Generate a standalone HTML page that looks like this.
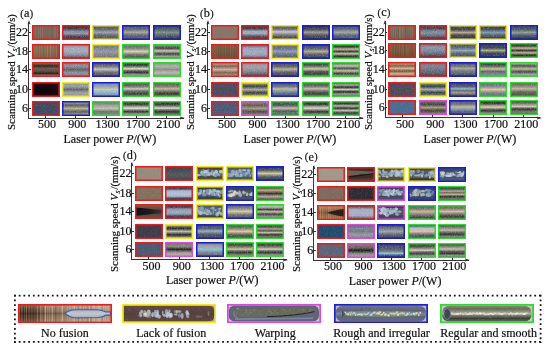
<!DOCTYPE html>
<html><head><meta charset="utf-8"><style>
html,body{margin:0;padding:0;background:#fff;}
body{width:550px;height:349px;position:relative;overflow:hidden;font-family:"Liberation Serif","Times New Roman",serif;color:#111;-webkit-text-stroke:0.2px #111;}
.c{position:absolute;box-sizing:border-box;width:28px;height:15px;border:1px solid;}
.t{position:absolute;font-size:12px;line-height:12px;white-space:nowrap;}
.yl{position:absolute;font-size:12px;line-height:12px;text-align:right;width:14px;}
.xl{position:absolute;font-size:12px;line-height:12px;text-align:center;width:30px;}
.ax{position:absolute;background:#333;}
.yt{position:absolute;font-size:10.8px;line-height:11px;white-space:nowrap;transform-origin:0 0;transform:rotate(-90deg);}
.pl{position:absolute;font-size:12.3px;line-height:12px;letter-spacing:0.3px;}
.pp{font-size:10.2px;position:relative;top:-0.3px;}
.lg{position:absolute;}
.lt{position:absolute;font-size:12px;line-height:12px;white-space:nowrap;text-align:center;width:104px;}
</style></head><body>

<div class="c" style="left:31.5px;top:25.0px;border-color:#f01a1a"><svg width="26" height="13" style="display:block"><defs><linearGradient id="br51" x1="0" y1="0" x2="0" y2="1"><stop offset="0" stop-color="#7a6858"/><stop offset=".5" stop-color="#7d6a5c"/><stop offset="1" stop-color="#766454"/></linearGradient></defs><rect width="26" height="13" fill="url(#br51)"/><rect x="0.3" y="0" width="0.6" height="13" fill="#d0b8a0" opacity="0.22"/><rect x="1.8" y="0" width="1.2" height="13" fill="#d0b8a0" opacity="0.17"/><rect x="4.9" y="0" width="0.8" height="13" fill="#b8a088" opacity="0.25"/><rect x="7.1" y="0" width="0.9" height="13" fill="#d0b8a0" opacity="0.24"/><rect x="9.1" y="0" width="0.6" height="13" fill="#d0b8a0" opacity="0.30"/><rect x="11.6" y="0" width="0.4" height="13" fill="#b8a088" opacity="0.13"/><rect x="13.6" y="0" width="1.2" height="13" fill="#b8a088" opacity="0.23"/><rect x="15.8" y="0" width="1.0" height="13" fill="#d0b8a0" opacity="0.15"/><rect x="18.6" y="0" width="0.8" height="13" fill="#c8b098" opacity="0.20"/><rect x="21.3" y="0" width="1.2" height="13" fill="#d0b8a0" opacity="0.27"/><rect x="23.9" y="0" width="0.5" height="13" fill="#b8a088" opacity="0.29"/><rect x="0.3" y="0" width="1.0" height="13" fill="#3a2a20" opacity="0.15"/><rect x="2.2" y="0" width="0.7" height="13" fill="#3a2a20" opacity="0.17"/><rect x="4.3" y="0" width="0.8" height="13" fill="#4a3828" opacity="0.21"/><rect x="6.7" y="0" width="0.9" height="13" fill="#3a2a20" opacity="0.12"/><rect x="8.5" y="0" width="0.5" height="13" fill="#3a2a20" opacity="0.13"/><rect x="10.2" y="0" width="0.7" height="13" fill="#4a3828" opacity="0.12"/><rect x="12.7" y="0" width="0.6" height="13" fill="#4a3828" opacity="0.13"/><rect x="14.0" y="0" width="1.0" height="13" fill="#4a3828" opacity="0.22"/><rect x="15.7" y="0" width="1.0" height="13" fill="#4a3828" opacity="0.13"/><rect x="18.4" y="0" width="1.2" height="13" fill="#3a2a20" opacity="0.22"/><rect x="21.2" y="0" width="1.1" height="13" fill="#4a3828" opacity="0.18"/><rect x="23.2" y="0" width="0.9" height="13" fill="#4a3828" opacity="0.13"/><rect x="25.0" y="0" width="1.1" height="13" fill="#3a2a20" opacity="0.21"/><rect x=".5" y=".5" width="25" height="12" fill="none" stroke="#f01a1a" stroke-opacity=".5"/></svg></div>
<div class="c" style="left:61.8px;top:25.0px;border-color:#f01a1a;box-shadow:inset 0 0 0 1px #f01a1a80;background:linear-gradient(#2e3238 0%,#363a42 20%,#8088a0 42%,#8c94a8 58%,#40444c 80%,#2e3238 100%)"></div>
<div class="c" style="left:92.1px;top:25.0px;border-color:#f4ec14;box-shadow:inset 0 0 0 1px #f4ec1480;background:linear-gradient(#4a4e5a 0%,#5e6270 25%,#9a9ea8 48%,#5e6270 72%,#44485a 100%)"></div>
<div class="c" style="left:122.4px;top:25.0px;border-color:#1c1ce0;box-shadow:inset 0 0 0 1px #1c1ce080;background:linear-gradient(#4a5060 0%,#5a6070 25%,#a8a898 48%,#5a6070 72%,#4a5060 100%)"></div>
<div class="c" style="left:152.7px;top:25.0px;border-color:#1c1ce0;box-shadow:inset 0 0 0 1px #1c1ce080;background:linear-gradient(#2a3a40 0%,#4a5a60 25%,#7a8a88 50%,#4a5a60 75%,#2a3a40 100%)"></div>
<div class="c" style="left:31.5px;top:43.7px;border-color:#f01a1a"><svg width="26" height="13" style="display:block"><defs><linearGradient id="br52" x1="0" y1="0" x2="0" y2="1"><stop offset="0" stop-color="#8a7058"/><stop offset=".5" stop-color="#8a6e50"/><stop offset="1" stop-color="#7a6046"/></linearGradient></defs><rect width="26" height="13" fill="url(#br52)"/><rect x="0.3" y="0" width="1.2" height="13" fill="#c8b098" opacity="0.28"/><rect x="2.8" y="0" width="1.1" height="13" fill="#b8a088" opacity="0.19"/><rect x="5.9" y="0" width="0.5" height="13" fill="#b8a088" opacity="0.27"/><rect x="8.4" y="0" width="0.8" height="13" fill="#c8b098" opacity="0.13"/><rect x="10.3" y="0" width="0.4" height="13" fill="#c8b098" opacity="0.15"/><rect x="12.0" y="0" width="0.9" height="13" fill="#b8a088" opacity="0.26"/><rect x="14.0" y="0" width="1.1" height="13" fill="#d0b8a0" opacity="0.28"/><rect x="17.1" y="0" width="0.9" height="13" fill="#d0b8a0" opacity="0.28"/><rect x="19.1" y="0" width="0.5" height="13" fill="#b8a088" opacity="0.21"/><rect x="20.9" y="0" width="0.5" height="13" fill="#c8b098" opacity="0.18"/><rect x="23.3" y="0" width="0.7" height="13" fill="#d0b8a0" opacity="0.24"/><rect x="25.2" y="0" width="0.4" height="13" fill="#c8b098" opacity="0.16"/><rect x="0.3" y="0" width="1.2" height="13" fill="#4a3828" opacity="0.19"/><rect x="2.6" y="0" width="0.6" height="13" fill="#3a2a20" opacity="0.19"/><rect x="5.1" y="0" width="0.9" height="13" fill="#3a2a20" opacity="0.15"/><rect x="7.3" y="0" width="0.5" height="13" fill="#4a3828" opacity="0.14"/><rect x="9.9" y="0" width="1.0" height="13" fill="#4a3828" opacity="0.20"/><rect x="12.3" y="0" width="0.9" height="13" fill="#4a3828" opacity="0.17"/><rect x="14.2" y="0" width="0.6" height="13" fill="#4a3828" opacity="0.11"/><rect x="15.4" y="0" width="1.2" height="13" fill="#3a2a20" opacity="0.12"/><rect x="17.2" y="0" width="0.5" height="13" fill="#4a3828" opacity="0.10"/><rect x="18.9" y="0" width="0.8" height="13" fill="#3a2a20" opacity="0.13"/><rect x="21.4" y="0" width="0.6" height="13" fill="#4a3828" opacity="0.24"/><rect x="22.5" y="0" width="0.5" height="13" fill="#4a3828" opacity="0.20"/><rect x="24.0" y="0" width="1.2" height="13" fill="#3a2a20" opacity="0.24"/><rect x=".5" y=".5" width="25" height="12" fill="none" stroke="#f01a1a" stroke-opacity=".5"/></svg></div>
<div class="c" style="left:61.8px;top:43.7px;border-color:#f01a1a;box-shadow:inset 0 0 0 1px #f01a1a80;background:linear-gradient(#8a90a0 0%,#a0a8b8 25%,#a0a8b8 50%,#8a90a0 75%,#4a4e58 100%)"></div>
<div class="c" style="left:92.1px;top:43.7px;border-color:#f4ec14;box-shadow:inset 0 0 0 1px #f4ec1480;background:linear-gradient(#6a7080 0%,#7a8090 25%,#9098a0 50%,#7a8090 75%,#6a7080 100%)"></div>
<div class="c" style="left:122.4px;top:43.7px;border-color:#26e026;box-shadow:inset 0 0 0 1px #26e02680;background:linear-gradient(#606468 0%,#7a7e80 25%,#d8d0a8 50%,#707070 75%,#404448 100%)"></div>
<div class="c" style="left:152.7px;top:43.7px;border-color:#26e026;box-shadow:inset 0 0 0 1px #26e02680;background:linear-gradient(#8a8a88 0%,#3a3a3a 25%,#d0c8b0 45%,#3a3a3a 68%,#9a9a98 88%,#6a6a6a 100%)"></div>
<div class="c" style="left:31.5px;top:62.0px;border-color:#f01a1a;box-shadow:inset 0 0 0 1px #f01a1a80;background:linear-gradient(#8a7462,#2e241c 22%,#6a5848 42%,#5e4e40 62%,#2a2018 80%,#9a8a78)"></div>
<div class="c" style="left:61.8px;top:62.0px;border-color:#f01a1a;box-shadow:inset 0 0 0 1px #f01a1a80;background:linear-gradient(#7a7e8a 0%,#8a8e9a 25%,#5a5e6a 50%,#8a8e9a 75%,#7a7e8a 100%)"></div>
<div class="c" style="left:92.1px;top:62.0px;border-color:#1c1ce0;box-shadow:inset 0 0 0 1px #1c1ce080;background:linear-gradient(#4a4a52 0%,#6a6a70 25%,#c0c0b8 48%,#6a6a70 72%,#4a4a52 100%)"></div>
<div class="c" style="left:122.4px;top:62.0px;border-color:#26e026;box-shadow:inset 0 0 0 1px #26e02680;background:linear-gradient(#2a2a2a 0%,#3a3a3a 18%,#8a8a80 32%,#e0e0d0 45%,#6a6a68 58%,#2a2a2a 72%,#8a8a88 88%,#9a9a98 100%)"></div>
<div class="c" style="left:152.7px;top:62.0px;border-color:#26e026;box-shadow:inset 0 0 0 1px #26e02680;background:linear-gradient(#8a8a8a 0%,#b0b0a8 25%,#8a8a8a 50%,#b8b8b0 75%,#8a8a8a 100%)"></div>
<div class="c" style="left:31.5px;top:82.0px;border-color:#f01a1a;box-shadow:inset 0 0 0 1px #f01a1a80;background:radial-gradient(ellipse at 40% 55%,#0e0408,#1a0a10 60%,#2a1418)"></div>
<div class="c" style="left:61.8px;top:82.0px;border-color:#f4ec14;box-shadow:inset 0 0 0 1px #f4ec1480;background:linear-gradient(#8a90a0 0%,#9aa0a8 25%,#5e6468 50%,#9aa0a8 75%,#8a90a0 100%)"></div>
<div class="c" style="left:92.1px;top:82.0px;border-color:#1c1ce0;box-shadow:inset 0 0 0 1px #1c1ce080;background:linear-gradient(#7a8a98 0%,#8aa0b0 25%,#c0c8b0 50%,#8ab0c8 75%,#7a8a98 100%)"></div>
<div class="c" style="left:122.4px;top:82.0px;border-color:#26e026;box-shadow:inset 0 0 0 1px #26e02680;background:linear-gradient(#4a4a4a 0%,#6a6a68 25%,#c8c8b8 45%,#6a6a68 62%,#3a3a3a 80%,#5a5a5a 100%)"></div>
<div class="c" style="left:152.7px;top:82.0px;border-color:#26e026;box-shadow:inset 0 0 0 1px #26e02680;background:linear-gradient(#5a5048 0%,#7a7068 25%,#c0b8a0 45%,#7a7068 62%,#3a3430 80%,#5a5048 100%)"></div>
<div class="c" style="left:31.5px;top:100.9px;border-color:#f01a1a;box-shadow:inset 0 0 0 1px #f01a1a80;background:#3e4860"></div>
<div class="c" style="left:61.8px;top:100.9px;border-color:#1c1ce0;box-shadow:inset 0 0 0 1px #1c1ce080;background:linear-gradient(#a0a090 0%,#5a5848 25%,#b0b098 50%,#5a5848 75%,#a0a090 100%)"></div>
<div class="c" style="left:92.1px;top:100.9px;border-color:#26e026;box-shadow:inset 0 0 0 1px #26e02680;background:linear-gradient(#6a6a68 0%,#9a9a98 25%,#c0c0b0 50%,#6a6a68 75%,#8a8a88 100%)"></div>
<div class="c" style="left:122.4px;top:100.9px;border-color:#26e026;box-shadow:inset 0 0 0 1px #26e02680;background:linear-gradient(#2a2a2a 0%,#3a3a3a 18%,#9a9a90 35%,#e8e8d8 48%,#8a8a80 60%,#2a2a2a 75%,#8a8a88 90%,#9a9a98 100%)"></div>
<div class="c" style="left:152.7px;top:100.9px;border-color:#26e026;box-shadow:inset 0 0 0 1px #26e02680;background:linear-gradient(#2a2a2a 0%,#3a3a3a 20%,#8a8a80 35%,#e0e0d0 48%,#6a6a68 60%,#2a2a2a 75%,#5a5a58 90%,#6a6a68 100%)"></div>
<div class="ax" style="left:28.0px;top:21.6px;width:1px;height:97.3px"></div>
<svg style="position:absolute;left:25.5px;top:20.3px" width="6" height="6"><path d="M3 0 L4.5 4.6 L3 3.8 L1.5 4.6Z" fill="#333"/></svg>
<div class="ax" style="left:28.0px;top:117.9px;width:155.5px;height:1px"></div>
<svg style="position:absolute;left:179.0px;top:115.4px" width="6" height="6"><path d="M6 3 L0.8 1.5 L1.6 3 L0.8 4.5Z" fill="#333"/></svg>
<div class="ax" style="left:28.5px;top:32.0px;width:2px;height:1px"></div>
<div class="yl" style="left:14.0px;top:26.0px">22</div>
<div class="ax" style="left:28.5px;top:50.7px;width:2px;height:1px"></div>
<div class="yl" style="left:14.0px;top:44.7px">18</div>
<div class="ax" style="left:28.5px;top:69.0px;width:2px;height:1px"></div>
<div class="yl" style="left:14.0px;top:63.0px">14</div>
<div class="ax" style="left:28.5px;top:89.0px;width:2px;height:1px"></div>
<div class="yl" style="left:14.0px;top:83.0px">10</div>
<div class="ax" style="left:28.5px;top:107.9px;width:2px;height:1px"></div>
<div class="yl" style="left:14.0px;top:101.9px">6</div>
<div class="ax" style="left:45.0px;top:115.9px;width:1px;height:2px"></div>
<div class="xl" style="left:32.0px;top:118.4px">500</div>
<div class="ax" style="left:75.3px;top:115.9px;width:1px;height:2px"></div>
<div class="xl" style="left:62.3px;top:118.4px">900</div>
<div class="ax" style="left:105.6px;top:115.9px;width:1px;height:2px"></div>
<div class="xl" style="left:92.6px;top:118.4px">1300</div>
<div class="ax" style="left:135.9px;top:115.9px;width:1px;height:2px"></div>
<div class="xl" style="left:122.9px;top:118.4px">1700</div>
<div class="ax" style="left:166.2px;top:115.9px;width:1px;height:2px"></div>
<div class="xl" style="left:153.2px;top:118.4px">2100</div>
<div class="t" style="left:63.5px;top:132.7px;font-size:12px">Laser power <i>P</i>/(W)</div>
<div class="yt" style="left:5.5px;top:130.3px"><span style="font-size:11px">Scanning speed</span> <i>V</i><sub style="font-size:7.5px;vertical-align:-2px;margin-right:1px;margin-left:0.5px"><i>s</i></sub><span>/</span><span style="font-size:10.5px">(mm/s)</span></div>
<div class="pl" style="left:20.2px;top:6.8px"><span class="pp">(</span>a<span class="pp">)</span></div>
<div class="c" style="left:210.6px;top:25.0px;border-color:#f01a1a;box-shadow:inset 0 0 0 1px #f01a1a80;background:#857466"></div>
<div class="c" style="left:240.9px;top:25.0px;border-color:#f01a1a;box-shadow:inset 0 0 0 1px #f01a1a80;background:linear-gradient(#34343c 0%,#3c3e48 20%,#9aa2b4 40%,#a0a8b8 58%,#4a4e58 80%,#34343c 100%)"></div>
<div class="c" style="left:271.2px;top:25.0px;border-color:#f4ec14;box-shadow:inset 0 0 0 1px #f4ec1480;background:linear-gradient(#4a4a58 0%,#6a6a74 25%,#c8c8c8 45%,#8a8a90 62%,#4a4a58 85%,#3a3a48 100%)"></div>
<div class="c" style="left:301.5px;top:25.0px;border-color:#1c1ce0;box-shadow:inset 0 0 0 1px #1c1ce080;background:linear-gradient(#30343c 0%,#3e4450 25%,#9a9a8c 48%,#4a4e58 72%,#30343c 100%)"></div>
<div class="c" style="left:331.8px;top:25.0px;border-color:#1c1ce0;box-shadow:inset 0 0 0 1px #1c1ce080;background:linear-gradient(#3e4658 0%,#5a6478 25%,#a0a898 48%,#5a6478 72%,#3e4658 100%)"></div>
<div class="c" style="left:210.6px;top:43.7px;border-color:#f01a1a"><svg width="26" height="13" style="display:block"><defs><linearGradient id="br53" x1="0" y1="0" x2="0" y2="1"><stop offset="0" stop-color="#7e6046"/><stop offset=".5" stop-color="#785a40"/><stop offset="1" stop-color="#6a4e36"/></linearGradient></defs><rect width="26" height="13" fill="url(#br53)"/><rect x="0.3" y="0" width="0.9" height="13" fill="#c8b098" opacity="0.20"/><rect x="2.8" y="0" width="1.1" height="13" fill="#d0b8a0" opacity="0.18"/><rect x="5.2" y="0" width="0.4" height="13" fill="#c8b098" opacity="0.28"/><rect x="7.7" y="0" width="0.7" height="13" fill="#c8b098" opacity="0.17"/><rect x="10.1" y="0" width="0.5" height="13" fill="#b8a088" opacity="0.16"/><rect x="11.4" y="0" width="0.5" height="13" fill="#b8a088" opacity="0.21"/><rect x="13.4" y="0" width="0.7" height="13" fill="#d0b8a0" opacity="0.19"/><rect x="16.1" y="0" width="0.7" height="13" fill="#c8b098" opacity="0.14"/><rect x="18.4" y="0" width="0.7" height="13" fill="#b8a088" opacity="0.30"/><rect x="20.6" y="0" width="0.5" height="13" fill="#c8b098" opacity="0.20"/><rect x="23.0" y="0" width="0.6" height="13" fill="#b8a088" opacity="0.23"/><rect x="25.4" y="0" width="1.1" height="13" fill="#c8b098" opacity="0.13"/><rect x="0.3" y="0" width="1.2" height="13" fill="#3a2a20" opacity="0.11"/><rect x="3.1" y="0" width="0.7" height="13" fill="#4a3828" opacity="0.25"/><rect x="5.8" y="0" width="1.0" height="13" fill="#4a3828" opacity="0.24"/><rect x="8.3" y="0" width="0.6" height="13" fill="#3a2a20" opacity="0.23"/><rect x="10.6" y="0" width="0.7" height="13" fill="#3a2a20" opacity="0.20"/><rect x="12.3" y="0" width="0.6" height="13" fill="#4a3828" opacity="0.21"/><rect x="14.6" y="0" width="0.4" height="13" fill="#4a3828" opacity="0.23"/><rect x="16.3" y="0" width="1.2" height="13" fill="#3a2a20" opacity="0.19"/><rect x="18.9" y="0" width="0.9" height="13" fill="#4a3828" opacity="0.21"/><rect x="20.4" y="0" width="0.6" height="13" fill="#4a3828" opacity="0.13"/><rect x="22.4" y="0" width="1.0" height="13" fill="#3a2a20" opacity="0.25"/><rect x="24.1" y="0" width="1.0" height="13" fill="#4a3828" opacity="0.17"/><rect x=".5" y=".5" width="25" height="12" fill="none" stroke="#f01a1a" stroke-opacity=".5"/></svg></div>
<div class="c" style="left:240.9px;top:43.7px;border-color:#f01a1a;box-shadow:inset 0 0 0 1px #f01a1a80;background:linear-gradient(#5a5e6a 0%,#98a0b8 25%,#a0a8c0 50%,#98a0b8 75%,#5a5e6a 100%)"></div>
<div class="c" style="left:271.2px;top:43.7px;border-color:#f4ec14;box-shadow:inset 0 0 0 1px #f4ec1480;background:linear-gradient(#5a6278 0%,#6a7490 30%,#8a98b0 50%,#6a7490 70%,#4a5060 100%)"></div>
<div class="c" style="left:301.5px;top:43.7px;border-color:#1c1ce0;box-shadow:inset 0 0 0 1px #1c1ce080;background:linear-gradient(#3a4050 0%,#50586a 25%,#b0a880 50%,#50586a 75%,#3a4050 100%)"></div>
<div class="c" style="left:331.8px;top:43.7px;border-color:#26e026;box-shadow:inset 0 0 0 1px #26e02680;background:linear-gradient(#2a2a2a 0%,#3a3a3a 15%,#c0b890 32%,#3a3a3a 50%,#c8c0a0 68%,#2a2a2a 85%,#3a3a3a 100%)"></div>
<div class="c" style="left:210.6px;top:62.0px;border-color:#f01a1a;box-shadow:inset 0 0 0 1px #f01a1a80;background:linear-gradient(#c0a890 0%,#7a6050 25%,#c8b098 50%,#7a6050 75%,#b09880 100%)"></div>
<div class="c" style="left:240.9px;top:62.0px;border-color:#f01a1a;box-shadow:inset 0 0 0 1px #f01a1a80;background:linear-gradient(#8a8a98 0%,#a0a0a8 30%,#8a8a94 60%,#6a6a74 80%,#3e3e48 100%)"></div>
<div class="c" style="left:271.2px;top:62.0px;border-color:#1c1ce0;box-shadow:inset 0 0 0 1px #1c1ce080;background:linear-gradient(#4a4a50 0%,#5a5a5e 25%,#b0b0a0 48%,#5a5a5e 72%,#3e3e44 100%)"></div>
<div class="c" style="left:301.5px;top:62.0px;border-color:#26e026;box-shadow:inset 0 0 0 1px #26e02680;background:linear-gradient(#2a2a2a 0%,#5a5c60 22%,#d0c8a0 45%,#505458 65%,#3a3a3a 85%,#6a6a6a 100%)"></div>
<div class="c" style="left:331.8px;top:62.0px;border-color:#26e026;box-shadow:inset 0 0 0 1px #26e02680;background:linear-gradient(#5a5a5a 0%,#c0c0b0 22%,#4a4a4a 42%,#c8c0a8 60%,#3a3a3a 80%,#8a8a88 100%)"></div>
<div class="c" style="left:210.6px;top:82.0px;border-color:#f01a1a;box-shadow:inset 0 0 0 1px #f01a1a80;background:#4a4a60"></div>
<div class="c" style="left:240.9px;top:82.0px;border-color:#f4ec14;box-shadow:inset 0 0 0 1px #f4ec1480;background:linear-gradient(#a0a098 0%,#3a3a3a 25%,#a8a8a0 50%,#3a3a3a 75%,#909088 100%)"></div>
<div class="c" style="left:271.2px;top:82.0px;border-color:#1c1ce0;box-shadow:inset 0 0 0 1px #1c1ce080;background:linear-gradient(#4a5668 0%,#5a6a80 25%,#c0b890 45%,#7a98b0 62%,#5a6a80 80%,#4a5668 100%)"></div>
<div class="c" style="left:301.5px;top:82.0px;border-color:#26e026;box-shadow:inset 0 0 0 1px #26e02680;background:linear-gradient(#4a4a48 0%,#6a6a68 25%,#c8c0a8 45%,#6a6a68 62%,#3a3a38 80%,#5a5a58 100%)"></div>
<div class="c" style="left:331.8px;top:82.0px;border-color:#26e026;box-shadow:inset 0 0 0 1px #26e02680;background:linear-gradient(#3a3a3a 0%,#b0b0a8 15%,#1e1e1e 32%,#c8c8c0 50%,#1e1e1e 68%,#9a9a98 85%,#5a5a5a 100%)"></div>
<div class="c" style="left:210.6px;top:100.9px;border-color:#f01a1a;box-shadow:inset 0 0 0 1px #f01a1a80;background:#4a5878"></div>
<div class="c" style="left:240.9px;top:100.9px;border-color:#e244ea;box-shadow:inset 0 0 0 1px #e244ea80;background:linear-gradient(#8a8870 0%,#5a5848 25%,#9a9880 50%,#4a4838 75%,#8a8870 100%)"></div>
<div class="c" style="left:271.2px;top:100.9px;border-color:#26e026;box-shadow:inset 0 0 0 1px #26e02680;background:linear-gradient(#3e4450 0%,#4a5060 25%,#c8c0a0 48%,#4a5060 70%,#6a7078 85%,#3e4450 100%)"></div>
<div class="c" style="left:301.5px;top:100.9px;border-color:#26e026;box-shadow:inset 0 0 0 1px #26e02680;background:linear-gradient(#2a2a2a 0%,#3a3a3a 20%,#9a9a90 35%,#e0d8c8 48%,#8a8a80 60%,#2a2a2a 75%,#6a6a68 90%,#8a8a88 100%)"></div>
<div class="c" style="left:331.8px;top:100.9px;border-color:#26e026;box-shadow:inset 0 0 0 1px #26e02680;background:linear-gradient(#2a2a2a 0%,#3a3a3a 15%,#b8b8a8 30%,#2a2a2a 48%,#c0c0b0 66%,#3a3a3a 82%,#4a4a4a 100%)"></div>
<div class="ax" style="left:207.1px;top:21.6px;width:1px;height:97.3px"></div>
<svg style="position:absolute;left:204.6px;top:20.3px" width="6" height="6"><path d="M3 0 L4.5 4.6 L3 3.8 L1.5 4.6Z" fill="#333"/></svg>
<div class="ax" style="left:207.1px;top:117.9px;width:155.5px;height:1px"></div>
<svg style="position:absolute;left:358.1px;top:115.4px" width="6" height="6"><path d="M6 3 L0.8 1.5 L1.6 3 L0.8 4.5Z" fill="#333"/></svg>
<div class="ax" style="left:207.6px;top:32.0px;width:2px;height:1px"></div>
<div class="yl" style="left:193.1px;top:26.0px">22</div>
<div class="ax" style="left:207.6px;top:50.7px;width:2px;height:1px"></div>
<div class="yl" style="left:193.1px;top:44.7px">18</div>
<div class="ax" style="left:207.6px;top:69.0px;width:2px;height:1px"></div>
<div class="yl" style="left:193.1px;top:63.0px">14</div>
<div class="ax" style="left:207.6px;top:89.0px;width:2px;height:1px"></div>
<div class="yl" style="left:193.1px;top:83.0px">10</div>
<div class="ax" style="left:207.6px;top:107.9px;width:2px;height:1px"></div>
<div class="yl" style="left:193.1px;top:101.9px">6</div>
<div class="ax" style="left:224.1px;top:115.9px;width:1px;height:2px"></div>
<div class="xl" style="left:212.1px;top:118.4px">500</div>
<div class="ax" style="left:254.4px;top:115.9px;width:1px;height:2px"></div>
<div class="xl" style="left:242.4px;top:118.4px">900</div>
<div class="ax" style="left:284.7px;top:115.9px;width:1px;height:2px"></div>
<div class="xl" style="left:272.7px;top:118.4px">1300</div>
<div class="ax" style="left:315.0px;top:115.9px;width:1px;height:2px"></div>
<div class="xl" style="left:303.0px;top:118.4px">1700</div>
<div class="ax" style="left:345.3px;top:115.9px;width:1px;height:2px"></div>
<div class="xl" style="left:333.3px;top:118.4px">2100</div>
<div class="t" style="left:243.6px;top:132.7px;font-size:12px">Laser power <i>P</i>/(W)</div>
<div class="yt" style="left:184.6px;top:130.3px"><span style="font-size:11px">Scanning speed</span> <i>V</i><sub style="font-size:7.5px;vertical-align:-2px;margin-right:1px;margin-left:0.5px"><i>s</i></sub><span>/</span><span style="font-size:10.5px">(mm/s)</span></div>
<div class="pl" style="left:200.1px;top:7.3px"><span class="pp">(</span>b<span class="pp">)</span></div>
<div class="c" style="left:388.3px;top:24.5px;border-color:#f01a1a"><svg width="26" height="13" style="display:block"><defs><linearGradient id="br55" x1="0" y1="0" x2="0" y2="1"><stop offset="0" stop-color="#7e6e5e"/><stop offset=".5" stop-color="#7a6a5a"/><stop offset="1" stop-color="#726252"/></linearGradient></defs><rect width="26" height="13" fill="url(#br55)"/><rect x="0.3" y="0" width="0.5" height="13" fill="#c8b098" opacity="0.15"/><rect x="2.5" y="0" width="1.1" height="13" fill="#d0b8a0" opacity="0.15"/><rect x="4.2" y="0" width="1.1" height="13" fill="#d0b8a0" opacity="0.20"/><rect x="6.4" y="0" width="0.8" height="13" fill="#b8a088" opacity="0.25"/><rect x="8.4" y="0" width="0.8" height="13" fill="#d0b8a0" opacity="0.13"/><rect x="10.1" y="0" width="1.2" height="13" fill="#d0b8a0" opacity="0.25"/><rect x="12.7" y="0" width="1.1" height="13" fill="#c8b098" opacity="0.19"/><rect x="14.4" y="0" width="0.9" height="13" fill="#b8a088" opacity="0.16"/><rect x="17.1" y="0" width="0.7" height="13" fill="#b8a088" opacity="0.18"/><rect x="18.3" y="0" width="1.1" height="13" fill="#b8a088" opacity="0.18"/><rect x="20.5" y="0" width="0.6" height="13" fill="#b8a088" opacity="0.15"/><rect x="21.8" y="0" width="0.6" height="13" fill="#c8b098" opacity="0.20"/><rect x="23.4" y="0" width="0.5" height="13" fill="#d0b8a0" opacity="0.25"/><rect x="25.7" y="0" width="0.9" height="13" fill="#d0b8a0" opacity="0.14"/><rect x="0.3" y="0" width="0.9" height="13" fill="#4a3828" opacity="0.25"/><rect x="2.9" y="0" width="0.7" height="13" fill="#4a3828" opacity="0.22"/><rect x="5.1" y="0" width="0.6" height="13" fill="#3a2a20" opacity="0.20"/><rect x="7.6" y="0" width="0.9" height="13" fill="#3a2a20" opacity="0.13"/><rect x="9.3" y="0" width="0.9" height="13" fill="#3a2a20" opacity="0.18"/><rect x="12.3" y="0" width="0.9" height="13" fill="#4a3828" opacity="0.11"/><rect x="14.4" y="0" width="0.4" height="13" fill="#3a2a20" opacity="0.12"/><rect x="16.1" y="0" width="1.1" height="13" fill="#3a2a20" opacity="0.24"/><rect x="18.1" y="0" width="0.9" height="13" fill="#4a3828" opacity="0.23"/><rect x="19.5" y="0" width="1.1" height="13" fill="#3a2a20" opacity="0.13"/><rect x="22.3" y="0" width="0.8" height="13" fill="#4a3828" opacity="0.13"/><rect x="24.1" y="0" width="0.8" height="13" fill="#4a3828" opacity="0.15"/><rect x=".5" y=".5" width="25" height="12" fill="none" stroke="#f01a1a" stroke-opacity=".5"/></svg></div>
<div class="c" style="left:418.6px;top:24.5px;border-color:#f01a1a;box-shadow:inset 0 0 0 1px #f01a1a80;background:linear-gradient(#343840 0%,#3e4450 18%,#76808e 40%,#828c9c 55%,#5a6270 78%,#32363e 100%)"></div>
<div class="c" style="left:448.9px;top:24.5px;border-color:#f4ec14;box-shadow:inset 0 0 0 1px #f4ec1480;background:linear-gradient(#363848 0%,#40445a 30%,#bca67e 50%,#40445a 70%,#363848 100%)"></div>
<div class="c" style="left:479.2px;top:24.5px;border-color:#f4ec14;box-shadow:inset 0 0 0 1px #f4ec1480;background:linear-gradient(#343c4c 0%,#3e4658 25%,#7a98b0 50%,#4a5468 75%,#343c4c 100%)"></div>
<div class="c" style="left:509.5px;top:24.5px;border-color:#1c1ce0;box-shadow:inset 0 0 0 1px #1c1ce080;background:linear-gradient(#343e48 0%,#46525c 25%,#8a9890 50%,#46525c 75%,#343e48 100%)"></div>
<div class="c" style="left:388.3px;top:43.2px;border-color:#f01a1a"><svg width="26" height="13" style="display:block"><defs><linearGradient id="br54" x1="0" y1="0" x2="0" y2="1"><stop offset="0" stop-color="#7e5e40"/><stop offset=".5" stop-color="#7a5a3a"/><stop offset="1" stop-color="#6a4c30"/></linearGradient></defs><rect width="26" height="13" fill="url(#br54)"/><rect x="0.3" y="0" width="1.1" height="13" fill="#c8b098" opacity="0.20"/><rect x="2.4" y="0" width="1.1" height="13" fill="#b8a088" opacity="0.19"/><rect x="4.7" y="0" width="0.9" height="13" fill="#b8a088" opacity="0.28"/><rect x="7.7" y="0" width="0.6" height="13" fill="#c8b098" opacity="0.13"/><rect x="10.3" y="0" width="0.8" height="13" fill="#d0b8a0" opacity="0.14"/><rect x="12.2" y="0" width="0.6" height="13" fill="#b8a088" opacity="0.17"/><rect x="13.6" y="0" width="1.2" height="13" fill="#b8a088" opacity="0.29"/><rect x="16.8" y="0" width="0.9" height="13" fill="#c8b098" opacity="0.19"/><rect x="18.2" y="0" width="0.6" height="13" fill="#c8b098" opacity="0.25"/><rect x="19.6" y="0" width="1.1" height="13" fill="#c8b098" opacity="0.19"/><rect x="22.7" y="0" width="0.4" height="13" fill="#c8b098" opacity="0.20"/><rect x="24.6" y="0" width="1.2" height="13" fill="#c8b098" opacity="0.16"/><rect x="0.3" y="0" width="0.6" height="13" fill="#4a3828" opacity="0.17"/><rect x="1.7" y="0" width="0.8" height="13" fill="#4a3828" opacity="0.14"/><rect x="3.6" y="0" width="1.2" height="13" fill="#3a2a20" opacity="0.21"/><rect x="6.5" y="0" width="0.8" height="13" fill="#3a2a20" opacity="0.21"/><rect x="9.0" y="0" width="0.7" height="13" fill="#4a3828" opacity="0.17"/><rect x="11.2" y="0" width="0.6" height="13" fill="#4a3828" opacity="0.12"/><rect x="12.4" y="0" width="0.9" height="13" fill="#4a3828" opacity="0.12"/><rect x="14.7" y="0" width="0.8" height="13" fill="#3a2a20" opacity="0.23"/><rect x="16.4" y="0" width="0.6" height="13" fill="#3a2a20" opacity="0.11"/><rect x="18.0" y="0" width="0.8" height="13" fill="#4a3828" opacity="0.17"/><rect x="20.3" y="0" width="0.7" height="13" fill="#4a3828" opacity="0.25"/><rect x="22.6" y="0" width="1.0" height="13" fill="#3a2a20" opacity="0.16"/><rect x="25.7" y="0" width="0.6" height="13" fill="#3a2a20" opacity="0.17"/><rect x=".5" y=".5" width="25" height="12" fill="none" stroke="#f01a1a" stroke-opacity=".5"/></svg></div>
<div class="c" style="left:418.6px;top:43.2px;border-color:#f01a1a;box-shadow:inset 0 0 0 1px #f01a1a80;background:linear-gradient(#5a6272 0%,#8a94a8 25%,#7a8498 55%,#5a6272 80%,#363a44 100%)"></div>
<div class="c" style="left:448.9px;top:43.2px;border-color:#f4ec14;box-shadow:inset 0 0 0 1px #f4ec1480;background:linear-gradient(#404858 0%,#5a6680 30%,#8aa4c0 50%,#5a6680 70%,#404858 100%)"></div>
<div class="c" style="left:479.2px;top:43.2px;border-color:#1c1ce0;box-shadow:inset 0 0 0 1px #1c1ce080;background:linear-gradient(#303848 0%,#3a4258 30%,#a8a878 50%,#3a4258 70%,#303848 100%)"></div>
<div class="c" style="left:509.5px;top:43.2px;border-color:#26e026;box-shadow:inset 0 0 0 1px #26e02680;background:linear-gradient(#2a2a2a 0%,#3a3a3a 15%,#c0b890 32%,#303030 50%,#c0b890 68%,#2a2a2a 85%,#3a3a3a 100%)"></div>
<div class="c" style="left:388.3px;top:61.5px;border-color:#f01a1a;box-shadow:inset 0 0 0 1px #f01a1a80;background:linear-gradient(#c8a880 0%,#7a5a40 22%,#d0b490 42%,#6a4a30 62%,#c8a880 80%,#b09070 100%)"></div>
<div class="c" style="left:418.6px;top:61.5px;border-color:#f01a1a;box-shadow:inset 0 0 0 1px #f01a1a80;background:linear-gradient(#6a7080 0%,#7a8090 25%,#6a7080 50%,#5a6070 75%,#3a4048 100%)"></div>
<div class="c" style="left:448.9px;top:61.5px;border-color:#1c1ce0;box-shadow:inset 0 0 0 1px #1c1ce080;background:linear-gradient(#4a5060 0%,#6a7080 25%,#b0a880 42%,#6a7890 60%,#5a6070 80%,#3a4048 100%)"></div>
<div class="c" style="left:479.2px;top:61.5px;border-color:#26e026;box-shadow:inset 0 0 0 1px #26e02680;background:linear-gradient(#2a2a2c 0%,#5a6070 25%,#d8c080 45%,#5a6474 65%,#7a8090 85%,#8a8a90 100%)"></div>
<div class="c" style="left:509.5px;top:61.5px;border-color:#26e026;box-shadow:inset 0 0 0 1px #26e02680;background:linear-gradient(#b8b8b0 0%,#4a4a4a 22%,#c0b8a0 45%,#404040 68%,#a0a0a0 88%,#8a8a8a 100%)"></div>
<div class="c" style="left:388.3px;top:81.5px;border-color:#f01a1a;box-shadow:inset 0 0 0 1px #f01a1a80;background:#4a4a5a"></div>
<div class="c" style="left:418.6px;top:81.5px;border-color:#f4ec14;box-shadow:inset 0 0 0 1px #f4ec1480;background:linear-gradient(#808a90 0%,#303a40 25%,#a0a8a8 50%,#303a40 75%,#808a90 100%)"></div>
<div class="c" style="left:448.9px;top:81.5px;border-color:#1c1ce0;box-shadow:inset 0 0 0 1px #1c1ce080;background:linear-gradient(#3e4454 0%,#4a5060 25%,#8ab0cc 45%,#5a6070 60%,#a09870 72%,#3e4454 100%)"></div>
<div class="c" style="left:479.2px;top:81.5px;border-color:#26e026;box-shadow:inset 0 0 0 1px #26e02680;background:linear-gradient(#5a6878 0%,#7a8090 25%,#e0c890 50%,#7a8090 75%,#5a6878 100%)"></div>
<div class="c" style="left:509.5px;top:81.5px;border-color:#26e026;box-shadow:inset 0 0 0 1px #26e02680;background:linear-gradient(#5a5450 0%,#8a8078 25%,#c0b8a0 45%,#6a6058 68%,#4a4440 100%)"></div>
<div class="c" style="left:388.3px;top:100.4px;border-color:#f01a1a;box-shadow:inset 0 0 0 1px #f01a1a80;background:#4a6a90"></div>
<div class="c" style="left:418.6px;top:100.4px;border-color:#e244ea;box-shadow:inset 0 0 0 1px #e244ea80;background:linear-gradient(#7a7860 0%,#3a3a30 25%,#a09880 50%,#3a3a30 75%,#8a8870 100%)"></div>
<div class="c" style="left:448.9px;top:100.4px;border-color:#1c1ce0;box-shadow:inset 0 0 0 1px #1c1ce080;background:linear-gradient(#4a5060 0%,#6a7080 25%,#c0b888 45%,#7a9cb8 62%,#5a6070 80%,#4a5060 100%)"></div>
<div class="c" style="left:479.2px;top:100.4px;border-color:#26e026;box-shadow:inset 0 0 0 1px #26e02680;background:linear-gradient(#2a2a2a 0%,#3a3a3a 20%,#9a9a80 35%,#e0d0a0 48%,#7a7a70 60%,#2a2a2a 75%,#7a7a78 90%,#8a8a88 100%)"></div>
<div class="c" style="left:509.5px;top:100.4px;border-color:#26e026;box-shadow:inset 0 0 0 1px #26e02680;background:linear-gradient(#2a2a2a 0%,#8a8a80 25%,#d0c8b0 42%,#2a2a2a 62%,#7a7a78 85%,#4a4a48 100%)"></div>
<div class="ax" style="left:384.8px;top:21.1px;width:1px;height:97.3px"></div>
<svg style="position:absolute;left:382.3px;top:19.8px" width="6" height="6"><path d="M3 0 L4.5 4.6 L3 3.8 L1.5 4.6Z" fill="#333"/></svg>
<div class="ax" style="left:384.8px;top:117.4px;width:155.5px;height:1px"></div>
<svg style="position:absolute;left:535.8px;top:114.9px" width="6" height="6"><path d="M6 3 L0.8 1.5 L1.6 3 L0.8 4.5Z" fill="#333"/></svg>
<div class="ax" style="left:385.3px;top:31.5px;width:2px;height:1px"></div>
<div class="yl" style="left:370.8px;top:25.5px">22</div>
<div class="ax" style="left:385.3px;top:50.2px;width:2px;height:1px"></div>
<div class="yl" style="left:370.8px;top:44.2px">18</div>
<div class="ax" style="left:385.3px;top:68.5px;width:2px;height:1px"></div>
<div class="yl" style="left:370.8px;top:62.5px">14</div>
<div class="ax" style="left:385.3px;top:88.5px;width:2px;height:1px"></div>
<div class="yl" style="left:370.8px;top:82.5px">10</div>
<div class="ax" style="left:385.3px;top:107.4px;width:2px;height:1px"></div>
<div class="yl" style="left:370.8px;top:101.4px">6</div>
<div class="ax" style="left:401.8px;top:115.4px;width:1px;height:2px"></div>
<div class="xl" style="left:390.0px;top:117.9px">500</div>
<div class="ax" style="left:432.1px;top:115.4px;width:1px;height:2px"></div>
<div class="xl" style="left:420.3px;top:117.9px">900</div>
<div class="ax" style="left:462.4px;top:115.4px;width:1px;height:2px"></div>
<div class="xl" style="left:450.6px;top:117.9px">1300</div>
<div class="ax" style="left:492.7px;top:115.4px;width:1px;height:2px"></div>
<div class="xl" style="left:480.9px;top:117.9px">1700</div>
<div class="ax" style="left:523.0px;top:115.4px;width:1px;height:2px"></div>
<div class="xl" style="left:511.2px;top:117.9px">2100</div>
<div class="t" style="left:423.6px;top:133.4px;font-size:12px">Laser power <i>P</i>/(W)</div>
<div class="yt" style="left:363.3px;top:129.8px"><span style="font-size:11px">Scanning speed</span> <i>V</i><sub style="font-size:7.5px;vertical-align:-2px;margin-right:1px;margin-left:0.5px"><i>s</i></sub><span>/</span><span style="font-size:10.5px">(mm/s)</span></div>
<div class="pl" style="left:377.6px;top:6.3px"><span class="pp">(</span>c<span class="pp">)</span></div>
<div class="c" style="left:134.9px;top:166.4px;border-color:#f01a1a;box-shadow:inset 0 0 0 1px #f01a1a80;background:#958a7a"></div>
<div class="c" style="left:165.2px;top:166.4px;border-color:#f01a1a;box-shadow:inset 0 0 0 1px #f01a1a80;background:linear-gradient(#3a4048,#4a5058 40%,#525862 60%,#3e444c)"></div>
<div class="c" style="left:195.5px;top:166.4px;border-color:#f4ec14"><svg width="26" height="13" style="display:block"><rect width="26" height="13" fill="#4a4042"/><rect y="10.5" width="26" height="2.5" fill="#5a4e4a"/><rect x="0" y="2.5" width="26" height="7.0" fill="#8a9ab0" opacity=".25"/><ellipse cx="10.1" cy="4.4" rx="1.0" ry="1.9" fill="#b0c0d0" opacity="0.91"/><ellipse cx="7.8" cy="4.7" rx="2.0" ry="1.7" fill="#a8bcd0" opacity="0.87"/><ellipse cx="16.9" cy="8.0" rx="1.4" ry="1.0" fill="#8aa4c0" opacity="0.94"/><ellipse cx="8.7" cy="4.5" rx="1.8" ry="1.5" fill="#a8bcd0" opacity="0.87"/><ellipse cx="1.8" cy="8.2" rx="2.0" ry="1.1" fill="#c0ccd8" opacity="0.86"/><ellipse cx="4.0" cy="7.0" rx="1.0" ry="1.9" fill="#8aa4c0" opacity="0.62"/><ellipse cx="8.6" cy="6.7" rx="1.7" ry="1.0" fill="#a8bcd0" opacity="0.71"/><ellipse cx="4.5" cy="7.0" rx="1.4" ry="1.6" fill="#7a98b8" opacity="0.90"/><ellipse cx="6.5" cy="3.5" rx="0.9" ry="1.9" fill="#7a98b8" opacity="0.75"/><ellipse cx="18.9" cy="6.2" rx="2.0" ry="1.6" fill="#c0ccd8" opacity="0.66"/><ellipse cx="20.4" cy="7.3" rx="1.8" ry="1.6" fill="#a8bcd0" opacity="0.95"/><ellipse cx="17.9" cy="8.4" rx="1.4" ry="1.7" fill="#a8bcd0" opacity="0.81"/><ellipse cx="11.0" cy="8.1" rx="2.1" ry="1.1" fill="#7a98b8" opacity="0.73"/><ellipse cx="12.0" cy="7.3" rx="1.9" ry="0.9" fill="#c0ccd8" opacity="0.79"/><ellipse cx="23.3" cy="4.5" rx="1.3" ry="1.6" fill="#b0c0d0" opacity="0.73"/><ellipse cx="22.2" cy="7.5" rx="1.8" ry="1.1" fill="#8aa4c0" opacity="0.67"/><ellipse cx="6.4" cy="5.8" rx="1.1" ry="2.0" fill="#b0c0d0" opacity="0.80"/><ellipse cx="4.7" cy="5.0" rx="1.1" ry="1.6" fill="#a8bcd0" opacity="0.89"/><ellipse cx="11.7" cy="7.4" rx="1.1" ry="1.7" fill="#7a98b8" opacity="0.94"/><ellipse cx="22.4" cy="7.9" rx="0.8" ry="1.5" fill="#8aa4c0" opacity="0.82"/><ellipse cx="13.3" cy="6.9" rx="1.0" ry="1.7" fill="#a8bcd0" opacity="0.61"/><ellipse cx="17.0" cy="7.2" rx="1.1" ry="1.3" fill="#c0ccd8" opacity="0.70"/><ellipse cx="7.2" cy="5.3" rx="1.1" ry="0.9" fill="#c0ccd8" opacity="0.82"/><ellipse cx="11.0" cy="5.4" rx="1.5" ry="1.8" fill="#a8bcd0" opacity="0.78"/><ellipse cx="15.3" cy="4.4" rx="1.1" ry="1.4" fill="#a8bcd0" opacity="0.69"/><ellipse cx="12.3" cy="6.4" rx="1.3" ry="1.5" fill="#b0c0d0" opacity="0.61"/><ellipse cx="19.2" cy="4.2" rx="1.9" ry="1.2" fill="#c0ccd8" opacity="0.80"/><ellipse cx="11.3" cy="3.1" rx="1.0" ry="1.5" fill="#7a98b8" opacity="0.65"/><ellipse cx="16.7" cy="6.2" rx="0.8" ry="1.8" fill="#c0ccd8" opacity="0.82"/><ellipse cx="14.4" cy="6.2" rx="1.1" ry="1.7" fill="#a8bcd0" opacity="0.78"/><ellipse cx="15.1" cy="7.1" rx="1.5" ry="1.5" fill="#a8bcd0" opacity="0.67"/><ellipse cx="5.3" cy="5.9" rx="1.9" ry="1.8" fill="#7a98b8" opacity="0.61"/><ellipse cx="8.4" cy="4.8" rx="1.9" ry="1.5" fill="#c0ccd8" opacity="0.83"/><ellipse cx="19.1" cy="5.2" rx="1.9" ry="0.9" fill="#c0ccd8" opacity="0.74"/><ellipse cx="4.8" cy="5.7" rx="1.2" ry="1.9" fill="#a8bcd0" opacity="0.90"/><ellipse cx="8.6" cy="8.4" rx="1.2" ry="1.8" fill="#8aa4c0" opacity="0.62"/><ellipse cx="11.2" cy="7.9" rx="2.0" ry="0.9" fill="#a8bcd0" opacity="0.92"/><ellipse cx="24.1" cy="4.7" rx="2.0" ry="1.7" fill="#c0ccd8" opacity="0.94"/><ellipse cx="19.1" cy="8.2" rx="1.9" ry="1.7" fill="#7a98b8" opacity="0.77"/><ellipse cx="7.1" cy="7.1" rx="1.5" ry="1.1" fill="#8aa4c0" opacity="0.92"/><ellipse cx="6.9" cy="7.9" rx="1.9" ry="1.4" fill="#8aa4c0" opacity="0.89"/><rect x=".5" y=".5" width="25" height="12" fill="none" stroke="#f4ec14" stroke-opacity=".5"/></svg></div>
<div class="c" style="left:225.8px;top:166.4px;border-color:#f4ec14"><svg width="26" height="13" style="display:block"><rect width="26" height="13" fill="#4a5868"/><rect x="0" y="2.5" width="26" height="7.5" fill="#8a9ab0" opacity=".25"/><ellipse cx="16.3" cy="3.2" rx="1.2" ry="1.1" fill="#a8bcd0" opacity="0.84"/><ellipse cx="22.4" cy="3.6" rx="1.4" ry="0.8" fill="#8aa4c0" opacity="0.68"/><ellipse cx="15.4" cy="6.6" rx="1.8" ry="1.6" fill="#7a98b8" opacity="0.68"/><ellipse cx="15.1" cy="8.3" rx="0.8" ry="1.8" fill="#7a98b8" opacity="0.72"/><ellipse cx="4.7" cy="9.2" rx="1.3" ry="0.9" fill="#a8bcd0" opacity="0.73"/><ellipse cx="9.3" cy="4.7" rx="0.9" ry="1.4" fill="#a8bcd0" opacity="0.94"/><ellipse cx="10.1" cy="6.6" rx="2.0" ry="1.5" fill="#c0ccd8" opacity="0.80"/><ellipse cx="17.9" cy="3.3" rx="1.1" ry="1.1" fill="#a8bcd0" opacity="0.90"/><ellipse cx="21.8" cy="5.5" rx="1.4" ry="1.8" fill="#8aa4c0" opacity="0.73"/><ellipse cx="6.0" cy="4.7" rx="2.1" ry="1.6" fill="#b0c0d0" opacity="0.82"/><ellipse cx="13.8" cy="4.6" rx="1.4" ry="1.1" fill="#b0c0d0" opacity="0.68"/><ellipse cx="8.8" cy="8.0" rx="0.9" ry="1.8" fill="#c0ccd8" opacity="0.74"/><ellipse cx="2.6" cy="8.9" rx="1.6" ry="1.7" fill="#8aa4c0" opacity="0.83"/><ellipse cx="10.5" cy="8.9" rx="1.4" ry="1.1" fill="#8aa4c0" opacity="0.86"/><ellipse cx="13.9" cy="7.9" rx="1.4" ry="1.5" fill="#c0ccd8" opacity="0.68"/><ellipse cx="24.9" cy="6.3" rx="0.9" ry="0.9" fill="#a8bcd0" opacity="0.65"/><ellipse cx="4.8" cy="7.4" rx="1.6" ry="1.3" fill="#b0c0d0" opacity="0.95"/><ellipse cx="13.7" cy="9.3" rx="2.0" ry="0.8" fill="#a8bcd0" opacity="0.84"/><ellipse cx="13.9" cy="4.7" rx="1.7" ry="0.9" fill="#7a98b8" opacity="0.66"/><ellipse cx="1.1" cy="7.7" rx="1.8" ry="2.0" fill="#8aa4c0" opacity="0.78"/><ellipse cx="3.6" cy="7.1" rx="2.0" ry="1.4" fill="#8aa4c0" opacity="0.65"/><ellipse cx="19.3" cy="6.5" rx="1.9" ry="1.4" fill="#a8bcd0" opacity="0.81"/><ellipse cx="12.7" cy="3.7" rx="1.3" ry="2.0" fill="#c0ccd8" opacity="0.68"/><ellipse cx="6.8" cy="6.7" rx="0.9" ry="1.7" fill="#a8bcd0" opacity="0.94"/><ellipse cx="13.8" cy="3.8" rx="1.7" ry="1.9" fill="#8aa4c0" opacity="0.69"/><ellipse cx="21.9" cy="5.8" rx="1.1" ry="1.4" fill="#8aa4c0" opacity="0.85"/><ellipse cx="10.6" cy="7.4" rx="1.3" ry="1.9" fill="#7a98b8" opacity="0.64"/><ellipse cx="6.4" cy="5.2" rx="1.6" ry="1.1" fill="#8aa4c0" opacity="0.60"/><ellipse cx="18.0" cy="3.4" rx="0.9" ry="0.8" fill="#c0ccd8" opacity="0.62"/><ellipse cx="6.7" cy="7.3" rx="1.1" ry="1.0" fill="#b0c0d0" opacity="0.80"/><ellipse cx="6.8" cy="6.1" rx="1.4" ry="0.9" fill="#7a98b8" opacity="0.72"/><ellipse cx="10.9" cy="8.6" rx="0.9" ry="1.6" fill="#a8bcd0" opacity="0.62"/><ellipse cx="18.5" cy="8.2" rx="1.0" ry="1.0" fill="#b0c0d0" opacity="0.76"/><ellipse cx="11.1" cy="4.8" rx="1.1" ry="1.9" fill="#7a98b8" opacity="0.88"/><ellipse cx="21.5" cy="3.6" rx="1.7" ry="1.4" fill="#a8bcd0" opacity="0.94"/><ellipse cx="23.2" cy="8.5" rx="1.0" ry="1.4" fill="#8aa4c0" opacity="0.90"/><ellipse cx="22.7" cy="4.1" rx="0.8" ry="1.3" fill="#7a98b8" opacity="0.70"/><ellipse cx="17.7" cy="7.7" rx="1.9" ry="1.6" fill="#7a98b8" opacity="0.65"/><rect x=".5" y=".5" width="25" height="12" fill="none" stroke="#f4ec14" stroke-opacity=".5"/></svg></div>
<div class="c" style="left:256.1px;top:166.4px;border-color:#1c1ce0;box-shadow:inset 0 0 0 1px #1c1ce080;background:linear-gradient(#2a3a40 0%,#4a5a60 25%,#d0c890 50%,#4a5a60 75%,#2a3a40 100%)"></div>
<div class="c" style="left:134.9px;top:185.6px;border-color:#f01a1a;box-shadow:inset 0 0 0 1px #f01a1a80;background:#80705a"></div>
<div class="c" style="left:165.2px;top:185.6px;border-color:#f01a1a;box-shadow:inset 0 0 0 1px #f01a1a80;background:linear-gradient(#363a44 0%,#3e4450 15%,#a8b8d0 30%,#b0c0d8 55%,#a0b0c8 72%,#3e4450 86%,#363a44 100%)"></div>
<div class="c" style="left:195.5px;top:185.6px;border-color:#f4ec14"><svg width="26" height="13" style="display:block"><rect width="26" height="13" fill="#3a4254"/><rect x="0" y="2.5" width="26" height="7.0" fill="#8a9ab0" opacity=".25"/><ellipse cx="1.9" cy="7.2" rx="1.0" ry="1.4" fill="#a8bcd0" opacity="0.76"/><ellipse cx="13.0" cy="3.1" rx="1.4" ry="1.2" fill="#b0c0d0" opacity="0.91"/><ellipse cx="23.8" cy="5.4" rx="0.9" ry="0.9" fill="#a8bcd0" opacity="0.73"/><ellipse cx="3.3" cy="6.1" rx="1.5" ry="1.7" fill="#b0c0d0" opacity="0.94"/><ellipse cx="7.5" cy="4.1" rx="0.9" ry="1.5" fill="#8aa4c0" opacity="0.93"/><ellipse cx="21.1" cy="4.8" rx="2.0" ry="1.4" fill="#a8bcd0" opacity="0.95"/><ellipse cx="20.5" cy="6.9" rx="1.7" ry="0.9" fill="#b0c0d0" opacity="0.76"/><ellipse cx="16.5" cy="7.3" rx="1.3" ry="1.6" fill="#7a98b8" opacity="0.66"/><ellipse cx="21.4" cy="7.7" rx="0.9" ry="1.5" fill="#c0ccd8" opacity="0.85"/><ellipse cx="17.1" cy="3.4" rx="2.2" ry="1.6" fill="#c0ccd8" opacity="0.77"/><ellipse cx="19.7" cy="8.7" rx="1.8" ry="0.8" fill="#7a98b8" opacity="0.81"/><ellipse cx="3.0" cy="3.8" rx="0.9" ry="1.6" fill="#8aa4c0" opacity="0.80"/><ellipse cx="8.4" cy="7.1" rx="1.4" ry="1.5" fill="#8aa4c0" opacity="0.60"/><ellipse cx="22.7" cy="8.9" rx="1.0" ry="1.7" fill="#c0ccd8" opacity="0.64"/><ellipse cx="13.8" cy="4.6" rx="1.9" ry="1.3" fill="#c0ccd8" opacity="0.90"/><ellipse cx="10.3" cy="7.3" rx="0.9" ry="1.0" fill="#7a98b8" opacity="0.67"/><ellipse cx="23.4" cy="5.4" rx="1.6" ry="1.3" fill="#c0ccd8" opacity="0.74"/><ellipse cx="2.2" cy="6.2" rx="1.9" ry="1.0" fill="#a8bcd0" opacity="0.83"/><ellipse cx="24.0" cy="4.3" rx="1.1" ry="1.1" fill="#7a98b8" opacity="0.89"/><ellipse cx="10.3" cy="3.4" rx="1.5" ry="0.9" fill="#a8bcd0" opacity="0.79"/><ellipse cx="15.7" cy="6.1" rx="2.1" ry="1.8" fill="#a8bcd0" opacity="0.80"/><ellipse cx="7.3" cy="3.8" rx="1.9" ry="1.0" fill="#a8bcd0" opacity="0.64"/><ellipse cx="6.3" cy="6.4" rx="1.4" ry="1.3" fill="#a8bcd0" opacity="0.61"/><ellipse cx="10.0" cy="5.0" rx="1.2" ry="1.0" fill="#b0c0d0" opacity="0.65"/><ellipse cx="6.8" cy="4.4" rx="0.9" ry="1.4" fill="#c0ccd8" opacity="0.89"/><ellipse cx="20.1" cy="5.9" rx="1.3" ry="1.2" fill="#a8bcd0" opacity="0.86"/><ellipse cx="12.4" cy="6.8" rx="1.2" ry="1.6" fill="#c0ccd8" opacity="0.85"/><ellipse cx="24.5" cy="4.8" rx="2.1" ry="1.7" fill="#7a98b8" opacity="0.90"/><ellipse cx="15.6" cy="7.3" rx="1.5" ry="1.5" fill="#8aa4c0" opacity="0.81"/><ellipse cx="17.8" cy="7.4" rx="1.0" ry="1.7" fill="#a8bcd0" opacity="0.88"/><ellipse cx="16.3" cy="3.5" rx="1.9" ry="1.6" fill="#8aa4c0" opacity="0.94"/><ellipse cx="15.7" cy="7.4" rx="1.5" ry="1.1" fill="#7a98b8" opacity="0.95"/><ellipse cx="11.1" cy="3.4" rx="1.4" ry="1.6" fill="#7a98b8" opacity="0.65"/><ellipse cx="20.3" cy="5.1" rx="1.3" ry="1.7" fill="#7a98b8" opacity="0.71"/><ellipse cx="21.1" cy="4.3" rx="1.9" ry="1.0" fill="#c0ccd8" opacity="0.95"/><ellipse cx="6.8" cy="6.6" rx="1.5" ry="0.9" fill="#8aa4c0" opacity="0.71"/><ellipse cx="4.1" cy="3.9" rx="1.0" ry="1.6" fill="#b0c0d0" opacity="0.78"/><ellipse cx="18.1" cy="4.1" rx="2.1" ry="1.3" fill="#b0c0d0" opacity="0.67"/><ellipse cx="7.1" cy="8.3" rx="2.0" ry="1.4" fill="#8aa4c0" opacity="0.64"/><ellipse cx="11.5" cy="6.0" rx="2.2" ry="0.9" fill="#b0c0d0" opacity="0.84"/><ellipse cx="10.4" cy="5.3" rx="1.4" ry="1.4" fill="#7a98b8" opacity="0.79"/><rect x=".5" y=".5" width="25" height="12" fill="none" stroke="#f4ec14" stroke-opacity=".5"/></svg></div>
<div class="c" style="left:225.8px;top:185.6px;border-color:#1c1ce0"><svg width="26" height="13" style="display:block"><rect width="26" height="13" fill="#3a4450"/><rect y="10" width="26" height="3" fill="#4a5060"/><rect x="0" y="3.5" width="26" height="6.0" fill="#8a9ab0" opacity=".25"/><ellipse cx="10.8" cy="6.7" rx="2.0" ry="1.0" fill="#c8c8b0" opacity="0.70"/><ellipse cx="6.4" cy="6.8" rx="0.9" ry="1.7" fill="#e0dcc0" opacity="0.84"/><ellipse cx="10.1" cy="6.0" rx="1.8" ry="1.2" fill="#d8d8c8" opacity="0.72"/><ellipse cx="7.8" cy="4.8" rx="1.5" ry="1.5" fill="#e0dcc0" opacity="0.94"/><ellipse cx="3.6" cy="7.1" rx="2.2" ry="0.8" fill="#a8b8c8" opacity="0.63"/><ellipse cx="12.4" cy="5.0" rx="1.0" ry="1.7" fill="#d8d8c8" opacity="0.62"/><ellipse cx="24.1" cy="7.4" rx="1.8" ry="1.7" fill="#e0dcc0" opacity="0.73"/><ellipse cx="12.3" cy="6.3" rx="1.9" ry="1.0" fill="#a8b8c8" opacity="0.76"/><ellipse cx="20.1" cy="7.4" rx="1.3" ry="1.8" fill="#d8d8c8" opacity="0.70"/><ellipse cx="1.2" cy="8.4" rx="1.6" ry="1.5" fill="#b8b8a0" opacity="0.79"/><ellipse cx="24.9" cy="5.8" rx="1.1" ry="0.9" fill="#e0dcc0" opacity="0.64"/><ellipse cx="6.4" cy="7.6" rx="2.2" ry="1.7" fill="#b8b8a0" opacity="0.77"/><ellipse cx="4.4" cy="8.7" rx="1.8" ry="0.8" fill="#e0dcc0" opacity="0.92"/><ellipse cx="2.5" cy="4.4" rx="1.4" ry="1.0" fill="#b8b8a0" opacity="0.82"/><ellipse cx="5.6" cy="8.2" rx="2.0" ry="1.1" fill="#e0dcc0" opacity="0.94"/><ellipse cx="24.9" cy="7.8" rx="1.9" ry="1.2" fill="#a8b8c8" opacity="0.62"/><ellipse cx="12.8" cy="6.0" rx="1.2" ry="1.9" fill="#a8b8c8" opacity="0.63"/><ellipse cx="7.1" cy="8.7" rx="1.7" ry="0.9" fill="#a8b8c8" opacity="0.74"/><ellipse cx="9.3" cy="6.2" rx="1.2" ry="1.5" fill="#c8c8b0" opacity="0.70"/><ellipse cx="13.8" cy="8.1" rx="1.1" ry="1.6" fill="#b8b8a0" opacity="0.77"/><ellipse cx="13.1" cy="8.3" rx="1.8" ry="2.0" fill="#a8b8c8" opacity="0.69"/><ellipse cx="6.6" cy="7.0" rx="1.5" ry="1.2" fill="#e0dcc0" opacity="0.92"/><ellipse cx="4.5" cy="4.0" rx="2.1" ry="1.3" fill="#a8b8c8" opacity="0.73"/><ellipse cx="24.1" cy="7.7" rx="1.8" ry="1.3" fill="#c8c8b0" opacity="0.65"/><ellipse cx="4.5" cy="9.0" rx="1.3" ry="0.8" fill="#c8c8b0" opacity="0.81"/><ellipse cx="5.0" cy="6.7" rx="0.9" ry="0.9" fill="#b8b8a0" opacity="0.78"/><ellipse cx="16.3" cy="5.5" rx="1.0" ry="1.9" fill="#c8c8b0" opacity="0.84"/><ellipse cx="17.5" cy="5.6" rx="1.6" ry="1.2" fill="#b8b8a0" opacity="0.89"/><ellipse cx="1.4" cy="8.0" rx="1.0" ry="0.8" fill="#d8d8c8" opacity="0.66"/><ellipse cx="3.8" cy="8.4" rx="1.9" ry="1.9" fill="#e0dcc0" opacity="0.91"/><rect x=".5" y=".5" width="25" height="12" fill="none" stroke="#1c1ce0" stroke-opacity=".5"/></svg></div>
<div class="c" style="left:256.1px;top:185.6px;border-color:#26e026;box-shadow:inset 0 0 0 1px #26e02680;background:linear-gradient(#2a2a2a 0%,#c0a880 25%,#303030 50%,#b8a890 75%,#2a2a2a 100%)"></div>
<div class="c" style="left:134.9px;top:204.2px;border-color:#f01a1a"><svg width="26" height="13" style="display:block"><defs><linearGradient id="d31" x1="0" y1="0" x2="0" y2="1"><stop offset="0" stop-color="#7e5e40"/><stop offset=".5" stop-color="#5a4230"/><stop offset="1" stop-color="#6a4e36"/></linearGradient><linearGradient id="d31b" x1="0" y1="0" x2="1" y2="0"><stop offset="0" stop-color="#12121c"/><stop offset=".55" stop-color="#1a1a26"/><stop offset="1" stop-color="#383848"/></linearGradient></defs><rect width="26" height="13" fill="url(#d31)"/><path d="M0,2.8 C8,3 13,4 18,4.6 L26,4.8 L26,8.6 L18,8.8 C13,9.4 8,10.2 0,10.6Z" fill="url(#d31b)"/><rect x=".5" y=".5" width="25" height="12" fill="none" stroke="#f01a1a" stroke-opacity=".5"/></svg></div>
<div class="c" style="left:165.2px;top:204.2px;border-color:#f01a1a;box-shadow:inset 0 0 0 1px #f01a1a80;background:linear-gradient(#363a44 0%,#3e4450 18%,#8a98b0 32%,#9aa8c0 55%,#8a98b0 70%,#3e4450 84%,#363a44 100%)"></div>
<div class="c" style="left:195.5px;top:204.2px;border-color:#f4ec14"><svg width="26" height="13" style="display:block"><rect width="26" height="13" fill="#4a5a70"/><rect y="10.5" width="26" height="2.5" fill="#3a4450"/><rect x="0" y="2.5" width="26" height="7.5" fill="#8a9ab0" opacity=".25"/><ellipse cx="7.5" cy="6.2" rx="0.9" ry="1.2" fill="#a8bcd0" opacity="0.77"/><ellipse cx="3.8" cy="8.2" rx="2.1" ry="1.8" fill="#a8bcd0" opacity="0.91"/><ellipse cx="2.6" cy="4.8" rx="2.1" ry="1.0" fill="#7a98b8" opacity="0.63"/><ellipse cx="10.8" cy="7.6" rx="2.1" ry="1.0" fill="#c0ccd8" opacity="0.72"/><ellipse cx="18.4" cy="5.1" rx="1.4" ry="0.8" fill="#c0ccd8" opacity="0.71"/><ellipse cx="10.3" cy="8.7" rx="1.8" ry="1.6" fill="#b0c0d0" opacity="0.88"/><ellipse cx="16.4" cy="6.9" rx="0.9" ry="1.9" fill="#8aa4c0" opacity="0.72"/><ellipse cx="16.0" cy="3.1" rx="1.5" ry="1.5" fill="#c0ccd8" opacity="0.67"/><ellipse cx="10.2" cy="5.5" rx="1.6" ry="1.5" fill="#b0c0d0" opacity="0.73"/><ellipse cx="22.2" cy="7.0" rx="0.8" ry="1.8" fill="#b0c0d0" opacity="0.87"/><ellipse cx="8.6" cy="4.1" rx="0.8" ry="1.1" fill="#7a98b8" opacity="0.93"/><ellipse cx="3.5" cy="7.1" rx="1.6" ry="1.2" fill="#c0ccd8" opacity="0.76"/><ellipse cx="5.8" cy="4.8" rx="1.1" ry="1.6" fill="#8aa4c0" opacity="0.77"/><ellipse cx="4.6" cy="3.1" rx="2.2" ry="1.8" fill="#a8bcd0" opacity="0.66"/><ellipse cx="6.1" cy="3.4" rx="0.9" ry="1.6" fill="#7a98b8" opacity="0.88"/><ellipse cx="4.9" cy="7.3" rx="1.7" ry="1.6" fill="#7a98b8" opacity="0.83"/><ellipse cx="7.7" cy="8.0" rx="2.0" ry="1.0" fill="#b0c0d0" opacity="0.91"/><ellipse cx="2.7" cy="6.8" rx="2.0" ry="1.6" fill="#8aa4c0" opacity="0.71"/><ellipse cx="11.5" cy="6.7" rx="1.9" ry="1.9" fill="#b0c0d0" opacity="0.79"/><ellipse cx="1.0" cy="5.7" rx="0.8" ry="1.8" fill="#7a98b8" opacity="0.83"/><ellipse cx="15.1" cy="3.4" rx="2.1" ry="1.1" fill="#8aa4c0" opacity="0.62"/><ellipse cx="3.1" cy="8.1" rx="1.6" ry="1.1" fill="#c0ccd8" opacity="0.93"/><ellipse cx="20.3" cy="8.5" rx="1.3" ry="0.9" fill="#7a98b8" opacity="0.95"/><ellipse cx="12.1" cy="8.8" rx="1.6" ry="1.3" fill="#7a98b8" opacity="0.62"/><ellipse cx="9.7" cy="7.5" rx="0.9" ry="1.5" fill="#7a98b8" opacity="0.71"/><ellipse cx="1.2" cy="5.1" rx="1.0" ry="0.9" fill="#b0c0d0" opacity="0.87"/><ellipse cx="10.8" cy="6.8" rx="0.9" ry="1.6" fill="#8aa4c0" opacity="0.82"/><ellipse cx="20.2" cy="9.4" rx="1.8" ry="2.0" fill="#c0ccd8" opacity="0.70"/><ellipse cx="21.8" cy="7.4" rx="1.7" ry="1.0" fill="#b0c0d0" opacity="0.86"/><ellipse cx="10.6" cy="8.0" rx="1.2" ry="1.1" fill="#8aa4c0" opacity="0.64"/><ellipse cx="13.9" cy="8.5" rx="0.9" ry="1.3" fill="#c0ccd8" opacity="0.72"/><ellipse cx="22.9" cy="8.0" rx="1.2" ry="1.1" fill="#a8bcd0" opacity="0.88"/><ellipse cx="22.5" cy="3.8" rx="1.5" ry="1.1" fill="#a8bcd0" opacity="0.87"/><ellipse cx="5.0" cy="6.9" rx="1.5" ry="1.8" fill="#7a98b8" opacity="0.93"/><ellipse cx="2.9" cy="6.8" rx="2.0" ry="1.2" fill="#b0c0d0" opacity="0.72"/><ellipse cx="24.2" cy="9.0" rx="1.4" ry="1.7" fill="#b0c0d0" opacity="0.77"/><ellipse cx="4.7" cy="7.8" rx="1.1" ry="1.0" fill="#c0ccd8" opacity="0.82"/><ellipse cx="1.5" cy="3.2" rx="2.0" ry="1.5" fill="#7a98b8" opacity="0.78"/><rect x=".5" y=".5" width="25" height="12" fill="none" stroke="#f4ec14" stroke-opacity=".5"/></svg></div>
<div class="c" style="left:225.8px;top:204.2px;border-color:#1c1ce0;box-shadow:inset 0 0 0 1px #1c1ce080;background:linear-gradient(#4a5060 0%,#7a8090 25%,#e0c880 50%,#6a7080 75%,#4a5060 100%)"></div>
<div class="c" style="left:256.1px;top:204.2px;border-color:#26e026;box-shadow:inset 0 0 0 1px #26e02680;background:linear-gradient(#9a9a98 0%,#c0c0b8 15%,#3a3a3a 35%,#c8c0a8 52%,#3a3a38 70%,#8a8a88 88%,#6a6a68 100%)"></div>
<div class="c" style="left:134.9px;top:223.7px;border-color:#f01a1a;box-shadow:inset 0 0 0 1px #f01a1a80;background:#3a3a48"></div>
<div class="c" style="left:165.2px;top:223.7px;border-color:#f4ec14;box-shadow:inset 0 0 0 1px #f4ec1480;background:linear-gradient(#b0b0b0 0%,#202020 25%,#b8b8b0 50%,#202020 75%,#a0a0a0 100%)"></div>
<div class="c" style="left:195.5px;top:223.7px;border-color:#1c1ce0;box-shadow:inset 0 0 0 1px #1c1ce080;background:linear-gradient(#3e4a58 0%,#4a5868 25%,#98a8b8 48%,#4a5868 72%,#3e4a58 100%)"></div>
<div class="c" style="left:225.8px;top:223.7px;border-color:#26e026;box-shadow:inset 0 0 0 1px #26e02680;background:linear-gradient(#3a4048 0%,#7a7a78 25%,#e0c888 50%,#5a5a58 75%,#3a3a38 100%)"></div>
<div class="c" style="left:256.1px;top:223.7px;border-color:#26e026;box-shadow:inset 0 0 0 1px #26e02680;background:linear-gradient(#3a3a38 0%,#4a4a48 15%,#a8a088 30%,#4a4a48 45%,#c8b898 58%,#2e2e2c 75%,#6a6a68 90%,#4a4a48 100%)"></div>
<div class="c" style="left:134.9px;top:242.3px;border-color:#f01a1a;box-shadow:inset 0 0 0 1px #f01a1a80;background:#4a5870"></div>
<div class="c" style="left:165.2px;top:242.3px;border-color:#e244ea;box-shadow:inset 0 0 0 1px #e244ea80;background:linear-gradient(#707060 0%,#8a8a78 25%,#202020 50%,#a0a090 75%,#b0b0a8 100%)"></div>
<div class="c" style="left:195.5px;top:242.3px;border-color:#1c1ce0;box-shadow:inset 0 0 0 1px #1c1ce080;background:linear-gradient(#7a8080 0%,#a0a098 25%,#80c0e0 50%,#7a8080 75%,#5a6068 100%)"></div>
<div class="c" style="left:225.8px;top:242.3px;border-color:#26e026;box-shadow:inset 0 0 0 1px #26e02680;background:linear-gradient(#3a3a38 0%,#4a4a48 20%,#8a8a78 35%,#d0c8a0 48%,#6a6a60 60%,#2a2a28 75%,#7a7a78 90%,#8a8a88 100%)"></div>
<div class="c" style="left:256.1px;top:242.3px;border-color:#26e026;box-shadow:inset 0 0 0 1px #26e02680;background:linear-gradient(#3a3a38 0%,#4a4a48 20%,#8a8a80 35%,#d8d0b0 48%,#6a6a68 60%,#2a2a28 75%,#8a8a88 90%,#9a9a98 100%)"></div>
<div class="ax" style="left:131.4px;top:163.4px;width:1px;height:96.9px"></div>
<svg style="position:absolute;left:128.9px;top:162.1px" width="6" height="6"><path d="M3 0 L4.5 4.6 L3 3.8 L1.5 4.6Z" fill="#333"/></svg>
<div class="ax" style="left:131.4px;top:259.3px;width:155.5px;height:1px"></div>
<svg style="position:absolute;left:282.4px;top:256.8px" width="6" height="6"><path d="M6 3 L0.8 1.5 L1.6 3 L0.8 4.5Z" fill="#333"/></svg>
<div class="ax" style="left:131.9px;top:173.4px;width:2px;height:1px"></div>
<div class="yl" style="left:117.4px;top:167.4px">22</div>
<div class="ax" style="left:131.9px;top:192.6px;width:2px;height:1px"></div>
<div class="yl" style="left:117.4px;top:186.6px">18</div>
<div class="ax" style="left:131.9px;top:211.2px;width:2px;height:1px"></div>
<div class="yl" style="left:117.4px;top:205.2px">14</div>
<div class="ax" style="left:131.9px;top:230.7px;width:2px;height:1px"></div>
<div class="yl" style="left:117.4px;top:224.7px">10</div>
<div class="ax" style="left:131.9px;top:249.3px;width:2px;height:1px"></div>
<div class="yl" style="left:117.4px;top:243.3px">6</div>
<div class="ax" style="left:148.4px;top:257.3px;width:1px;height:2px"></div>
<div class="xl" style="left:136.4px;top:259.8px">500</div>
<div class="ax" style="left:178.7px;top:257.3px;width:1px;height:2px"></div>
<div class="xl" style="left:166.7px;top:259.8px">900</div>
<div class="ax" style="left:209.0px;top:257.3px;width:1px;height:2px"></div>
<div class="xl" style="left:197.0px;top:259.8px">1300</div>
<div class="ax" style="left:239.3px;top:257.3px;width:1px;height:2px"></div>
<div class="xl" style="left:227.3px;top:259.8px">1700</div>
<div class="ax" style="left:269.6px;top:257.3px;width:1px;height:2px"></div>
<div class="xl" style="left:257.6px;top:259.8px">2100</div>
<div class="t" style="left:165.9px;top:274.1px;font-size:12px">Laser power <i>P</i>/(W)</div>
<div class="yt" style="left:108.9px;top:271.7px"><span style="font-size:11px">Scanning speed</span> <i>V</i><sub style="font-size:7.5px;vertical-align:-2px;margin-right:1px;margin-left:0.5px"><i>s</i></sub><span>/</span><span style="font-size:10.5px">(mm/s)</span></div>
<div class="pl" style="left:123.1px;top:149.2px"><span class="pp">(</span>d<span class="pp">)</span></div>
<div class="c" style="left:316.8px;top:167.0px;border-color:#f01a1a;box-shadow:inset 0 0 0 1px #f01a1a80;background:#a09888"></div>
<div class="c" style="left:347.1px;top:167.0px;border-color:#f01a1a"><svg width="26" height="13" style="display:block"><rect width="26" height="13" fill="#3a302a"/><path d="M0,2.2 L26,3.5 L26,5.2 C18,6 8,7 0,8.2Z" fill="#6e5c50"/><path d="M0,8.2 C8,7 18,6 26,5.2 L26,6.2 C18,7.2 8,8.5 0,9.6Z" fill="#1e1814"/><path d="M0,11 L26,10 L26,13 L0,13Z" fill="#4e4038"/><rect x=".5" y=".5" width="25" height="12" fill="none" stroke="#f01a1a" stroke-opacity=".5"/></svg></div>
<div class="c" style="left:377.4px;top:167.0px;border-color:#f4ec14"><svg width="26" height="13" style="display:block"><rect width="26" height="13" fill="#4a4242"/><rect y="10" width="26" height="3" fill="#5a4a44"/><rect x="0" y="2.0" width="26" height="7.5" fill="#8a9ab0" opacity=".25"/><ellipse cx="1.3" cy="3.2" rx="1.3" ry="1.6" fill="#8aa4c0" opacity="0.93"/><ellipse cx="13.8" cy="7.1" rx="1.0" ry="2.0" fill="#a8bcd0" opacity="0.83"/><ellipse cx="4.3" cy="6.0" rx="1.4" ry="1.3" fill="#b0c0d0" opacity="0.63"/><ellipse cx="1.5" cy="8.6" rx="1.4" ry="1.0" fill="#c0ccd8" opacity="0.74"/><ellipse cx="15.3" cy="4.1" rx="1.8" ry="1.3" fill="#b0c0d0" opacity="0.62"/><ellipse cx="2.2" cy="3.7" rx="1.0" ry="1.0" fill="#7a98b8" opacity="0.61"/><ellipse cx="18.6" cy="8.1" rx="1.7" ry="1.1" fill="#7a98b8" opacity="0.86"/><ellipse cx="5.7" cy="6.7" rx="1.1" ry="0.8" fill="#c0ccd8" opacity="0.70"/><ellipse cx="14.7" cy="5.6" rx="1.7" ry="1.2" fill="#8aa4c0" opacity="0.94"/><ellipse cx="24.8" cy="7.6" rx="1.2" ry="1.0" fill="#b0c0d0" opacity="0.93"/><ellipse cx="21.1" cy="4.4" rx="1.0" ry="0.8" fill="#b0c0d0" opacity="0.73"/><ellipse cx="24.0" cy="6.9" rx="1.2" ry="1.2" fill="#8aa4c0" opacity="0.64"/><ellipse cx="5.9" cy="4.7" rx="1.4" ry="0.9" fill="#a8bcd0" opacity="0.69"/><ellipse cx="22.0" cy="6.6" rx="2.1" ry="1.0" fill="#8aa4c0" opacity="0.85"/><ellipse cx="21.5" cy="5.6" rx="1.5" ry="1.7" fill="#c0ccd8" opacity="0.90"/><ellipse cx="24.6" cy="5.7" rx="1.6" ry="1.8" fill="#7a98b8" opacity="0.65"/><ellipse cx="18.4" cy="7.0" rx="2.2" ry="1.7" fill="#c0ccd8" opacity="0.77"/><ellipse cx="19.8" cy="5.6" rx="1.1" ry="0.9" fill="#b0c0d0" opacity="0.70"/><ellipse cx="5.2" cy="2.8" rx="1.0" ry="1.8" fill="#a8bcd0" opacity="0.92"/><ellipse cx="22.3" cy="7.6" rx="2.1" ry="1.8" fill="#8aa4c0" opacity="0.79"/><ellipse cx="14.4" cy="5.8" rx="1.8" ry="1.4" fill="#8aa4c0" opacity="0.78"/><ellipse cx="18.2" cy="5.5" rx="1.8" ry="1.4" fill="#8aa4c0" opacity="0.73"/><ellipse cx="13.5" cy="4.8" rx="1.1" ry="1.2" fill="#7a98b8" opacity="0.80"/><ellipse cx="5.0" cy="8.0" rx="1.0" ry="1.3" fill="#8aa4c0" opacity="0.69"/><ellipse cx="22.2" cy="3.8" rx="2.0" ry="1.2" fill="#b0c0d0" opacity="0.68"/><ellipse cx="19.7" cy="7.3" rx="2.0" ry="0.8" fill="#b0c0d0" opacity="0.89"/><ellipse cx="7.6" cy="6.0" rx="1.4" ry="1.6" fill="#8aa4c0" opacity="0.74"/><ellipse cx="20.6" cy="5.0" rx="1.1" ry="1.1" fill="#c0ccd8" opacity="0.70"/><ellipse cx="24.0" cy="3.2" rx="1.1" ry="2.0" fill="#b0c0d0" opacity="0.84"/><ellipse cx="22.3" cy="5.4" rx="1.7" ry="1.6" fill="#7a98b8" opacity="0.61"/><ellipse cx="12.6" cy="4.4" rx="1.5" ry="0.8" fill="#a8bcd0" opacity="0.70"/><ellipse cx="7.5" cy="4.3" rx="2.0" ry="1.1" fill="#c0ccd8" opacity="0.74"/><ellipse cx="19.7" cy="4.0" rx="1.6" ry="1.8" fill="#b0c0d0" opacity="0.87"/><ellipse cx="21.4" cy="6.9" rx="1.8" ry="0.8" fill="#b0c0d0" opacity="0.77"/><ellipse cx="8.3" cy="5.5" rx="2.1" ry="1.1" fill="#7a98b8" opacity="0.74"/><ellipse cx="6.1" cy="8.3" rx="1.9" ry="0.9" fill="#b0c0d0" opacity="0.68"/><ellipse cx="17.9" cy="2.8" rx="2.1" ry="1.6" fill="#c0ccd8" opacity="0.70"/><ellipse cx="3.6" cy="6.1" rx="1.3" ry="1.7" fill="#7a98b8" opacity="0.65"/><ellipse cx="2.1" cy="4.5" rx="0.9" ry="1.3" fill="#b0c0d0" opacity="0.90"/><ellipse cx="14.1" cy="3.0" rx="1.5" ry="1.4" fill="#c0ccd8" opacity="0.77"/><ellipse cx="12.5" cy="7.0" rx="2.1" ry="1.8" fill="#c0ccd8" opacity="0.68"/><ellipse cx="24.8" cy="5.5" rx="1.3" ry="1.9" fill="#7a98b8" opacity="0.92"/><ellipse cx="8.7" cy="5.0" rx="1.4" ry="1.9" fill="#7a98b8" opacity="0.61"/><ellipse cx="18.5" cy="5.4" rx="1.4" ry="1.8" fill="#b0c0d0" opacity="0.92"/><ellipse cx="11.3" cy="6.1" rx="1.9" ry="1.3" fill="#8aa4c0" opacity="0.90"/><ellipse cx="8.4" cy="7.1" rx="1.1" ry="1.6" fill="#7a98b8" opacity="0.68"/><ellipse cx="9.2" cy="8.7" rx="1.4" ry="1.2" fill="#c0ccd8" opacity="0.81"/><ellipse cx="20.7" cy="5.2" rx="0.9" ry="1.6" fill="#c0ccd8" opacity="0.88"/><ellipse cx="24.2" cy="3.3" rx="2.0" ry="1.6" fill="#c0ccd8" opacity="0.69"/><rect x=".5" y=".5" width="25" height="12" fill="none" stroke="#f4ec14" stroke-opacity=".5"/></svg></div>
<div class="c" style="left:407.7px;top:167.0px;border-color:#f4ec14"><svg width="26" height="13" style="display:block"><rect width="26" height="13" fill="#4a4646"/><rect y="10.5" width="26" height="2.5" fill="#3a3634"/><rect x="0" y="2.5" width="26" height="7.5" fill="#8a9ab0" opacity=".25"/><ellipse cx="2.9" cy="4.4" rx="1.2" ry="1.9" fill="#7a98b8" opacity="0.61"/><ellipse cx="1.9" cy="5.1" rx="1.3" ry="0.9" fill="#7a90a8" opacity="0.93"/><ellipse cx="22.2" cy="5.4" rx="0.8" ry="1.7" fill="#8aa4c0" opacity="0.78"/><ellipse cx="12.7" cy="8.0" rx="1.1" ry="1.1" fill="#8aa4c0" opacity="0.76"/><ellipse cx="9.0" cy="3.2" rx="1.5" ry="1.7" fill="#7a98b8" opacity="0.61"/><ellipse cx="2.2" cy="3.2" rx="1.3" ry="1.0" fill="#c0ccd8" opacity="0.85"/><ellipse cx="12.8" cy="6.5" rx="1.9" ry="1.2" fill="#b0c0d0" opacity="0.80"/><ellipse cx="19.5" cy="6.8" rx="1.1" ry="1.2" fill="#8aa4c0" opacity="0.83"/><ellipse cx="21.2" cy="4.9" rx="1.8" ry="1.8" fill="#a8bcd0" opacity="0.88"/><ellipse cx="11.7" cy="7.6" rx="0.9" ry="0.9" fill="#7a90a8" opacity="0.69"/><ellipse cx="14.2" cy="3.9" rx="0.9" ry="1.5" fill="#7a98b8" opacity="0.60"/><ellipse cx="23.8" cy="7.5" rx="2.1" ry="1.4" fill="#8aa4c0" opacity="0.82"/><ellipse cx="13.6" cy="6.3" rx="1.1" ry="1.3" fill="#7a90a8" opacity="0.73"/><ellipse cx="20.9" cy="9.2" rx="1.0" ry="1.6" fill="#c0ccd8" opacity="0.83"/><ellipse cx="4.3" cy="4.6" rx="0.8" ry="0.8" fill="#a8bcd0" opacity="0.81"/><ellipse cx="24.3" cy="8.1" rx="1.2" ry="2.0" fill="#8aa4c0" opacity="0.76"/><ellipse cx="3.0" cy="5.1" rx="1.0" ry="1.2" fill="#a8bcd0" opacity="0.92"/><ellipse cx="13.1" cy="8.1" rx="1.0" ry="1.6" fill="#c0ccd8" opacity="0.77"/><ellipse cx="22.8" cy="5.5" rx="1.9" ry="0.8" fill="#8aa4c0" opacity="0.91"/><ellipse cx="2.2" cy="6.9" rx="1.1" ry="1.4" fill="#c0ccd8" opacity="0.73"/><ellipse cx="3.7" cy="5.1" rx="2.1" ry="2.0" fill="#8aa4c0" opacity="0.82"/><ellipse cx="2.4" cy="7.4" rx="0.8" ry="1.4" fill="#c0ccd8" opacity="0.61"/><ellipse cx="2.6" cy="5.3" rx="1.8" ry="0.9" fill="#8aa4c0" opacity="0.94"/><ellipse cx="21.8" cy="7.9" rx="0.9" ry="1.5" fill="#8aa4c0" opacity="0.78"/><ellipse cx="2.6" cy="4.2" rx="2.2" ry="2.0" fill="#8aa4c0" opacity="0.94"/><ellipse cx="9.8" cy="7.2" rx="1.3" ry="1.5" fill="#a8bcd0" opacity="0.82"/><ellipse cx="9.8" cy="3.1" rx="1.5" ry="1.7" fill="#8aa4c0" opacity="0.64"/><ellipse cx="17.4" cy="7.2" rx="1.1" ry="1.5" fill="#a8bcd0" opacity="0.82"/><ellipse cx="13.5" cy="3.8" rx="1.2" ry="1.0" fill="#8aa4c0" opacity="0.71"/><ellipse cx="16.8" cy="7.9" rx="2.0" ry="0.8" fill="#7a98b8" opacity="0.94"/><ellipse cx="20.5" cy="4.8" rx="1.0" ry="1.5" fill="#7a98b8" opacity="0.71"/><ellipse cx="23.6" cy="3.2" rx="1.3" ry="1.7" fill="#8aa4c0" opacity="0.69"/><ellipse cx="23.1" cy="4.9" rx="2.2" ry="1.6" fill="#a8bcd0" opacity="0.84"/><ellipse cx="4.7" cy="3.3" rx="1.1" ry="1.1" fill="#b0c0d0" opacity="0.93"/><ellipse cx="20.2" cy="7.0" rx="1.6" ry="0.9" fill="#8aa4c0" opacity="0.71"/><ellipse cx="13.6" cy="6.2" rx="1.5" ry="0.8" fill="#7a98b8" opacity="0.93"/><ellipse cx="7.1" cy="7.6" rx="2.1" ry="1.0" fill="#c0ccd8" opacity="0.72"/><ellipse cx="3.5" cy="5.3" rx="1.6" ry="1.7" fill="#7a90a8" opacity="0.63"/><rect x=".5" y=".5" width="25" height="12" fill="none" stroke="#f4ec14" stroke-opacity=".5"/></svg></div>
<div class="c" style="left:438.0px;top:167.0px;border-color:#1c1ce0"><svg width="26" height="13" style="display:block"><rect width="26" height="13" fill="#3a4a60"/><rect y="9.5" width="26" height="3.5" fill="#4a5a70"/><rect x="0" y="3.5" width="26" height="5.5" fill="#8a9ab0" opacity=".25"/><ellipse cx="14.7" cy="6.8" rx="1.8" ry="0.8" fill="#c8d8e0" opacity="0.94"/><ellipse cx="22.7" cy="8.2" rx="1.2" ry="1.1" fill="#d8d8c0" opacity="0.76"/><ellipse cx="23.6" cy="6.9" rx="1.2" ry="0.8" fill="#d8d8c0" opacity="0.91"/><ellipse cx="18.8" cy="7.9" rx="1.6" ry="1.3" fill="#90a8c0" opacity="0.92"/><ellipse cx="14.3" cy="7.1" rx="0.9" ry="0.6" fill="#90a8c0" opacity="0.95"/><ellipse cx="24.8" cy="4.3" rx="1.2" ry="1.1" fill="#c8d8e0" opacity="0.78"/><ellipse cx="8.7" cy="5.6" rx="1.6" ry="1.0" fill="#d8d8c0" opacity="0.66"/><ellipse cx="3.6" cy="4.1" rx="1.8" ry="1.2" fill="#a8c0d0" opacity="0.62"/><ellipse cx="3.2" cy="7.6" rx="0.8" ry="0.9" fill="#90a8c0" opacity="0.67"/><ellipse cx="5.6" cy="6.9" rx="1.3" ry="1.0" fill="#90a8c0" opacity="0.81"/><ellipse cx="11.9" cy="7.9" rx="1.4" ry="0.6" fill="#d8d8c0" opacity="0.73"/><ellipse cx="19.7" cy="4.5" rx="1.8" ry="0.6" fill="#d8d8c0" opacity="0.85"/><ellipse cx="21.9" cy="7.8" rx="1.8" ry="1.3" fill="#d8d8c0" opacity="0.61"/><ellipse cx="3.1" cy="6.7" rx="1.7" ry="1.0" fill="#d8d8c0" opacity="0.93"/><ellipse cx="10.8" cy="6.1" rx="1.5" ry="1.2" fill="#d8d8c0" opacity="0.61"/><ellipse cx="10.5" cy="7.6" rx="1.2" ry="0.7" fill="#c8d8e0" opacity="0.92"/><ellipse cx="8.7" cy="8.3" rx="1.9" ry="0.7" fill="#90a8c0" opacity="0.89"/><ellipse cx="11.4" cy="7.6" rx="1.9" ry="1.3" fill="#a8c0d0" opacity="0.90"/><ellipse cx="16.0" cy="7.2" rx="1.1" ry="0.7" fill="#90a8c0" opacity="0.90"/><ellipse cx="2.9" cy="4.5" rx="1.8" ry="0.8" fill="#a8c0d0" opacity="0.62"/><ellipse cx="17.3" cy="4.0" rx="1.3" ry="1.0" fill="#90a8c0" opacity="0.60"/><ellipse cx="23.5" cy="5.9" rx="1.9" ry="1.3" fill="#c8d8e0" opacity="0.76"/><ellipse cx="19.7" cy="6.6" rx="1.1" ry="1.0" fill="#a8c0d0" opacity="0.72"/><ellipse cx="3.1" cy="8.0" rx="1.4" ry="0.8" fill="#a8c0d0" opacity="0.86"/><ellipse cx="21.1" cy="4.1" rx="0.8" ry="1.3" fill="#90a8c0" opacity="0.71"/><ellipse cx="4.1" cy="5.5" rx="1.2" ry="1.0" fill="#d8d8c0" opacity="0.69"/><ellipse cx="21.8" cy="6.4" rx="1.8" ry="0.8" fill="#c8d8e0" opacity="0.75"/><ellipse cx="4.1" cy="7.6" rx="1.5" ry="1.0" fill="#c8d8e0" opacity="0.60"/><ellipse cx="1.6" cy="4.7" rx="1.0" ry="1.2" fill="#c8d8e0" opacity="0.71"/><ellipse cx="21.0" cy="4.0" rx="1.3" ry="0.9" fill="#90a8c0" opacity="0.94"/><ellipse cx="7.5" cy="7.4" rx="1.1" ry="0.9" fill="#a8c0d0" opacity="0.72"/><ellipse cx="3.8" cy="8.4" rx="1.6" ry="1.4" fill="#90a8c0" opacity="0.68"/><ellipse cx="10.1" cy="7.8" rx="1.6" ry="0.7" fill="#c8d8e0" opacity="0.88"/><ellipse cx="10.3" cy="7.9" rx="0.9" ry="1.1" fill="#c8d8e0" opacity="0.87"/><ellipse cx="22.0" cy="7.7" rx="1.8" ry="1.2" fill="#90a8c0" opacity="0.86"/><ellipse cx="22.8" cy="6.8" rx="1.1" ry="1.1" fill="#d8d8c0" opacity="0.88"/><ellipse cx="11.7" cy="5.8" rx="0.9" ry="1.2" fill="#c8d8e0" opacity="0.70"/><ellipse cx="20.8" cy="4.5" rx="1.0" ry="0.9" fill="#c8d8e0" opacity="0.89"/><ellipse cx="4.2" cy="5.1" rx="1.8" ry="1.4" fill="#d8d8c0" opacity="0.92"/><ellipse cx="23.0" cy="6.6" rx="0.9" ry="1.3" fill="#a8c0d0" opacity="0.91"/><ellipse cx="13.7" cy="5.7" rx="1.5" ry="1.2" fill="#d8d8c0" opacity="0.77"/><ellipse cx="13.2" cy="5.4" rx="1.4" ry="1.0" fill="#90a8c0" opacity="0.81"/><ellipse cx="23.1" cy="7.0" rx="1.3" ry="0.6" fill="#c8d8e0" opacity="0.90"/><ellipse cx="8.3" cy="7.7" rx="1.9" ry="1.3" fill="#c8d8e0" opacity="0.71"/><ellipse cx="1.9" cy="8.3" rx="1.1" ry="0.9" fill="#90a8c0" opacity="0.72"/><rect x=".5" y=".5" width="25" height="12" fill="none" stroke="#1c1ce0" stroke-opacity=".5"/></svg></div>
<div class="c" style="left:316.8px;top:186.2px;border-color:#f01a1a;box-shadow:inset 0 0 0 1px #f01a1a80;background:#7a6a5a"></div>
<div class="c" style="left:347.1px;top:186.2px;border-color:#f01a1a;box-shadow:inset 0 0 0 1px #f01a1a80;background:#2a2a32"></div>
<div class="c" style="left:377.4px;top:186.2px;border-color:#e244ea"><svg width="26" height="13" style="display:block"><rect width="26" height="13" fill="#3e4658"/><rect y="10" width="26" height="3" fill="#4a5060"/><rect x="0" y="2.0" width="26" height="7.0" fill="#8a9ab0" opacity=".25"/><ellipse cx="13.7" cy="6.0" rx="2.0" ry="1.9" fill="#7a98b8" opacity="0.73"/><ellipse cx="23.8" cy="5.0" rx="1.2" ry="0.9" fill="#b0c0d0" opacity="0.89"/><ellipse cx="3.3" cy="4.6" rx="0.8" ry="1.0" fill="#b0c0d0" opacity="0.63"/><ellipse cx="2.5" cy="4.0" rx="1.6" ry="1.8" fill="#7a98b8" opacity="0.93"/><ellipse cx="15.1" cy="6.3" rx="1.2" ry="1.2" fill="#8aa4c0" opacity="0.76"/><ellipse cx="5.3" cy="3.3" rx="1.8" ry="1.5" fill="#8aa4c0" opacity="0.69"/><ellipse cx="20.6" cy="6.0" rx="1.8" ry="1.8" fill="#c0ccd8" opacity="0.75"/><ellipse cx="14.9" cy="8.0" rx="1.1" ry="1.0" fill="#c0ccd8" opacity="0.76"/><ellipse cx="22.8" cy="5.6" rx="2.0" ry="1.4" fill="#7a98b8" opacity="0.73"/><ellipse cx="11.7" cy="3.3" rx="1.0" ry="1.2" fill="#c0ccd8" opacity="0.78"/><ellipse cx="15.0" cy="4.3" rx="2.1" ry="1.3" fill="#c0ccd8" opacity="0.87"/><ellipse cx="23.0" cy="6.8" rx="1.3" ry="1.7" fill="#7a98b8" opacity="0.62"/><ellipse cx="18.6" cy="4.5" rx="1.2" ry="1.7" fill="#7a98b8" opacity="0.72"/><ellipse cx="9.7" cy="4.2" rx="2.1" ry="1.5" fill="#c0ccd8" opacity="0.78"/><ellipse cx="19.9" cy="3.5" rx="1.0" ry="1.1" fill="#a8bcd0" opacity="0.90"/><ellipse cx="14.1" cy="7.1" rx="1.2" ry="1.6" fill="#8aa4c0" opacity="0.76"/><ellipse cx="5.3" cy="6.4" rx="1.8" ry="1.3" fill="#8aa4c0" opacity="0.64"/><ellipse cx="8.8" cy="3.5" rx="1.0" ry="1.7" fill="#7a98b8" opacity="0.85"/><ellipse cx="21.6" cy="6.9" rx="2.0" ry="1.5" fill="#b0c0d0" opacity="0.94"/><ellipse cx="1.6" cy="7.4" rx="1.7" ry="1.6" fill="#8aa4c0" opacity="0.65"/><ellipse cx="10.5" cy="8.2" rx="1.2" ry="2.0" fill="#b0c0d0" opacity="0.76"/><ellipse cx="6.2" cy="7.8" rx="2.1" ry="1.2" fill="#c0ccd8" opacity="0.86"/><ellipse cx="15.9" cy="3.2" rx="1.1" ry="1.7" fill="#c0ccd8" opacity="0.84"/><ellipse cx="7.7" cy="7.8" rx="1.9" ry="1.4" fill="#b0c0d0" opacity="0.71"/><ellipse cx="13.8" cy="5.6" rx="2.2" ry="1.9" fill="#c0ccd8" opacity="0.90"/><ellipse cx="16.8" cy="7.0" rx="2.2" ry="1.2" fill="#a8bcd0" opacity="0.71"/><ellipse cx="23.6" cy="4.8" rx="1.4" ry="0.8" fill="#a8bcd0" opacity="0.80"/><ellipse cx="15.5" cy="4.9" rx="0.9" ry="1.9" fill="#c0ccd8" opacity="0.90"/><ellipse cx="11.4" cy="6.2" rx="1.0" ry="1.3" fill="#a8bcd0" opacity="0.82"/><ellipse cx="16.4" cy="7.7" rx="1.2" ry="1.0" fill="#8aa4c0" opacity="0.95"/><ellipse cx="13.7" cy="6.6" rx="1.4" ry="1.7" fill="#c0ccd8" opacity="0.88"/><ellipse cx="19.6" cy="4.8" rx="2.1" ry="1.7" fill="#a8bcd0" opacity="0.85"/><ellipse cx="17.3" cy="3.8" rx="1.8" ry="0.8" fill="#c0ccd8" opacity="0.68"/><ellipse cx="13.3" cy="4.7" rx="2.0" ry="1.3" fill="#8aa4c0" opacity="0.80"/><ellipse cx="8.3" cy="5.2" rx="1.6" ry="1.9" fill="#b0c0d0" opacity="0.86"/><ellipse cx="20.0" cy="4.6" rx="1.1" ry="0.9" fill="#8aa4c0" opacity="0.68"/><ellipse cx="9.8" cy="7.3" rx="1.0" ry="1.9" fill="#b0c0d0" opacity="0.77"/><ellipse cx="20.2" cy="4.0" rx="1.0" ry="1.8" fill="#8aa4c0" opacity="0.85"/><ellipse cx="7.5" cy="4.5" rx="2.0" ry="1.0" fill="#c0ccd8" opacity="0.73"/><ellipse cx="9.8" cy="7.5" rx="1.8" ry="1.4" fill="#a8bcd0" opacity="0.74"/><ellipse cx="6.2" cy="6.8" rx="1.7" ry="1.9" fill="#8aa4c0" opacity="0.84"/><rect x=".5" y=".5" width="25" height="12" fill="none" stroke="#e244ea" stroke-opacity=".5"/></svg></div>
<div class="c" style="left:407.7px;top:186.2px;border-color:#1c1ce0"><svg width="26" height="13" style="display:block"><rect width="26" height="13" fill="#2e3a58"/><rect y="10" width="26" height="3" fill="#3a4660"/><rect x="0" y="2.5" width="26" height="7.0" fill="#8a9ab0" opacity=".25"/><ellipse cx="14.2" cy="7.5" rx="1.8" ry="1.8" fill="#c0ccd8" opacity="0.75"/><ellipse cx="7.1" cy="3.4" rx="1.5" ry="1.8" fill="#c0ccd8" opacity="0.83"/><ellipse cx="20.3" cy="8.5" rx="2.1" ry="0.9" fill="#a8bcd0" opacity="0.93"/><ellipse cx="1.3" cy="7.3" rx="1.3" ry="0.8" fill="#c8c090" opacity="0.77"/><ellipse cx="1.6" cy="8.9" rx="0.9" ry="1.2" fill="#b0c0d0" opacity="0.63"/><ellipse cx="21.3" cy="3.5" rx="1.0" ry="0.9" fill="#8aa4c0" opacity="0.79"/><ellipse cx="20.7" cy="8.8" rx="1.5" ry="1.3" fill="#7a98b8" opacity="0.61"/><ellipse cx="19.6" cy="7.6" rx="1.4" ry="1.5" fill="#a8bcd0" opacity="0.91"/><ellipse cx="20.9" cy="7.0" rx="1.6" ry="0.9" fill="#7a98b8" opacity="0.74"/><ellipse cx="5.7" cy="5.3" rx="0.8" ry="1.9" fill="#c8c090" opacity="0.68"/><ellipse cx="19.9" cy="7.9" rx="0.8" ry="1.6" fill="#a8bcd0" opacity="0.64"/><ellipse cx="17.8" cy="3.1" rx="1.8" ry="1.4" fill="#b0c0d0" opacity="0.60"/><ellipse cx="12.2" cy="8.0" rx="1.0" ry="1.7" fill="#c0ccd8" opacity="0.79"/><ellipse cx="18.8" cy="7.9" rx="1.8" ry="1.8" fill="#c8c090" opacity="0.82"/><ellipse cx="14.0" cy="4.0" rx="1.6" ry="1.1" fill="#c8c090" opacity="0.63"/><ellipse cx="19.6" cy="3.5" rx="1.6" ry="1.2" fill="#7a98b8" opacity="0.94"/><ellipse cx="23.9" cy="5.3" rx="1.4" ry="1.5" fill="#7a98b8" opacity="0.64"/><ellipse cx="17.7" cy="7.9" rx="1.3" ry="1.9" fill="#8aa4c0" opacity="0.93"/><ellipse cx="3.5" cy="8.5" rx="1.8" ry="0.9" fill="#7a98b8" opacity="0.95"/><ellipse cx="10.9" cy="5.8" rx="1.8" ry="1.0" fill="#c8c090" opacity="0.64"/><ellipse cx="8.7" cy="7.6" rx="1.5" ry="1.9" fill="#c8c090" opacity="0.78"/><ellipse cx="19.8" cy="7.1" rx="2.1" ry="1.7" fill="#8aa4c0" opacity="0.93"/><ellipse cx="6.0" cy="4.2" rx="1.8" ry="1.7" fill="#b0c0d0" opacity="0.93"/><ellipse cx="11.9" cy="4.1" rx="2.1" ry="0.9" fill="#b0c0d0" opacity="0.79"/><ellipse cx="6.0" cy="7.2" rx="2.1" ry="1.9" fill="#c8c090" opacity="0.75"/><ellipse cx="14.7" cy="4.3" rx="1.9" ry="1.2" fill="#c0ccd8" opacity="0.62"/><ellipse cx="5.1" cy="5.7" rx="2.2" ry="1.1" fill="#a8bcd0" opacity="0.74"/><ellipse cx="19.5" cy="5.8" rx="1.7" ry="1.8" fill="#7a98b8" opacity="0.75"/><ellipse cx="9.3" cy="3.1" rx="1.8" ry="1.0" fill="#7a98b8" opacity="0.77"/><ellipse cx="8.4" cy="5.0" rx="1.4" ry="0.8" fill="#b0c0d0" opacity="0.63"/><ellipse cx="9.4" cy="4.7" rx="1.9" ry="1.5" fill="#8aa4c0" opacity="0.90"/><ellipse cx="22.5" cy="7.3" rx="1.7" ry="1.3" fill="#7a98b8" opacity="0.63"/><ellipse cx="3.9" cy="7.7" rx="1.3" ry="0.9" fill="#8aa4c0" opacity="0.92"/><ellipse cx="6.5" cy="8.0" rx="1.2" ry="1.6" fill="#c0ccd8" opacity="0.80"/><rect x=".5" y=".5" width="25" height="12" fill="none" stroke="#1c1ce0" stroke-opacity=".5"/></svg></div>
<div class="c" style="left:438.0px;top:186.2px;border-color:#26e026;box-shadow:inset 0 0 0 1px #26e02680;background:linear-gradient(#2a2a2a 0%,#4a4a48 15%,#a8a898 33%,#5a5a50 45%,#c8b888 56%,#2a2a2a 74%,#6a6a68 90%,#4a4a48 100%)"></div>
<div class="c" style="left:316.8px;top:204.8px;border-color:#f01a1a"><svg width="26" height="13" style="display:block"><defs><linearGradient id="e31" x1="0" y1="0" x2="0" y2="1"><stop offset="0" stop-color="#b48a66"/><stop offset=".5" stop-color="#7a5234"/><stop offset="1" stop-color="#a07858"/></linearGradient></defs><rect width="26" height="13" fill="url(#e31)"/><rect x="0.3" y="0" width="0.5" height="13" fill="#d8b088" opacity="0.23"/><rect x="1.8" y="0" width="1.1" height="13" fill="#f0d8b8" opacity="0.31"/><rect x="4.2" y="0" width="0.8" height="13" fill="#e8c8a0" opacity="0.31"/><rect x="5.5" y="0" width="1.1" height="13" fill="#f0d8b8" opacity="0.16"/><rect x="8.4" y="0" width="0.6" height="13" fill="#e8c8a0" opacity="0.29"/><rect x="10.2" y="0" width="1.2" height="13" fill="#f0d8b8" opacity="0.27"/><rect x="12.0" y="0" width="0.7" height="13" fill="#f0d8b8" opacity="0.29"/><rect x="14.2" y="0" width="1.2" height="13" fill="#e8c8a0" opacity="0.18"/><rect x="17.1" y="0" width="0.5" height="13" fill="#e8c8a0" opacity="0.24"/><rect x="19.0" y="0" width="0.7" height="13" fill="#f0d8b8" opacity="0.18"/><rect x="21.2" y="0" width="0.8" height="13" fill="#e8c8a0" opacity="0.16"/><rect x="22.8" y="0" width="0.9" height="13" fill="#d8b088" opacity="0.30"/><rect x="25.5" y="0" width="0.9" height="13" fill="#d8b088" opacity="0.16"/><path d="M9,6.8 C14,5.2 20,3.6 26,3 L26,10.6 C20,10 14,8.6 9,6.8Z" fill="#1c140e" opacity=".85"/><rect x=".5" y=".5" width="25" height="12" fill="none" stroke="#f01a1a" stroke-opacity=".5"/></svg></div>
<div class="c" style="left:347.1px;top:204.8px;border-color:#f01a1a;box-shadow:inset 0 0 0 1px #f01a1a80;background:linear-gradient(#3a3a40 0%,#a0a8c0 25%,#a8b0c8 50%,#a0a8c0 75%,#4a4a50 100%)"></div>
<div class="c" style="left:377.4px;top:204.8px;border-color:#e244ea"><svg width="26" height="13" style="display:block"><rect width="26" height="13" fill="#3a3a48"/><rect y="10.5" width="26" height="2.5" fill="#4a4a58"/><rect x="0" y="2.0" width="26" height="7.5" fill="#8a9ab0" opacity=".25"/><ellipse cx="8.9" cy="8.9" rx="2.1" ry="1.9" fill="#c0ccd8" opacity="0.91"/><ellipse cx="1.0" cy="6.6" rx="1.1" ry="1.7" fill="#7a98b8" opacity="0.73"/><ellipse cx="7.4" cy="3.0" rx="1.4" ry="1.4" fill="#7a98b8" opacity="0.72"/><ellipse cx="20.3" cy="8.3" rx="1.3" ry="0.9" fill="#7a98b8" opacity="0.85"/><ellipse cx="5.9" cy="4.4" rx="1.5" ry="1.5" fill="#b0c0d0" opacity="0.66"/><ellipse cx="15.3" cy="5.0" rx="2.2" ry="1.0" fill="#8aa4c0" opacity="0.75"/><ellipse cx="9.9" cy="3.9" rx="1.5" ry="1.9" fill="#c0ccd8" opacity="0.81"/><ellipse cx="6.7" cy="5.8" rx="1.7" ry="1.2" fill="#a8bcd0" opacity="0.90"/><ellipse cx="8.2" cy="6.2" rx="1.0" ry="1.7" fill="#c0ccd8" opacity="0.75"/><ellipse cx="18.1" cy="2.6" rx="1.3" ry="1.4" fill="#b0c0d0" opacity="0.80"/><ellipse cx="18.5" cy="3.1" rx="1.7" ry="1.1" fill="#c0ccd8" opacity="0.94"/><ellipse cx="19.6" cy="8.4" rx="1.1" ry="1.6" fill="#7a98b8" opacity="0.92"/><ellipse cx="7.6" cy="4.3" rx="0.8" ry="1.2" fill="#b0c0d0" opacity="0.93"/><ellipse cx="2.4" cy="2.7" rx="1.8" ry="1.3" fill="#a8bcd0" opacity="0.71"/><ellipse cx="10.0" cy="4.3" rx="1.9" ry="2.0" fill="#8aa4c0" opacity="0.70"/><ellipse cx="11.3" cy="6.6" rx="1.0" ry="0.9" fill="#7a98b8" opacity="0.84"/><ellipse cx="8.3" cy="5.4" rx="1.6" ry="1.3" fill="#a8bcd0" opacity="0.71"/><ellipse cx="12.9" cy="4.8" rx="1.4" ry="1.0" fill="#c0ccd8" opacity="0.71"/><ellipse cx="12.2" cy="5.2" rx="1.7" ry="1.3" fill="#a8bcd0" opacity="0.65"/><ellipse cx="13.7" cy="6.5" rx="1.7" ry="1.7" fill="#c0ccd8" opacity="0.94"/><ellipse cx="5.0" cy="2.7" rx="1.8" ry="1.7" fill="#c0ccd8" opacity="0.93"/><ellipse cx="18.4" cy="6.9" rx="1.7" ry="1.7" fill="#7a98b8" opacity="0.63"/><ellipse cx="13.9" cy="6.2" rx="0.8" ry="1.6" fill="#a8bcd0" opacity="0.75"/><ellipse cx="14.5" cy="6.7" rx="1.3" ry="1.5" fill="#8aa4c0" opacity="0.86"/><ellipse cx="20.9" cy="5.2" rx="0.8" ry="1.1" fill="#8aa4c0" opacity="0.66"/><ellipse cx="18.4" cy="8.5" rx="1.2" ry="1.0" fill="#a8bcd0" opacity="0.86"/><ellipse cx="17.6" cy="5.1" rx="2.0" ry="1.8" fill="#a8bcd0" opacity="0.75"/><ellipse cx="15.4" cy="5.8" rx="2.0" ry="0.8" fill="#c0ccd8" opacity="0.71"/><ellipse cx="21.9" cy="5.8" rx="1.8" ry="1.0" fill="#a8bcd0" opacity="0.86"/><ellipse cx="12.9" cy="3.1" rx="1.1" ry="1.7" fill="#8aa4c0" opacity="0.92"/><ellipse cx="6.3" cy="7.4" rx="1.2" ry="1.9" fill="#c0ccd8" opacity="0.74"/><ellipse cx="7.4" cy="7.3" rx="1.2" ry="1.4" fill="#8aa4c0" opacity="0.73"/><ellipse cx="11.8" cy="6.1" rx="0.9" ry="1.5" fill="#a8bcd0" opacity="0.66"/><ellipse cx="12.0" cy="7.2" rx="1.1" ry="1.9" fill="#b0c0d0" opacity="0.72"/><ellipse cx="4.5" cy="6.1" rx="1.0" ry="1.9" fill="#b0c0d0" opacity="0.68"/><ellipse cx="16.1" cy="4.6" rx="1.4" ry="1.6" fill="#7a98b8" opacity="0.85"/><ellipse cx="5.3" cy="5.3" rx="1.6" ry="1.9" fill="#c0ccd8" opacity="0.71"/><ellipse cx="16.8" cy="4.9" rx="1.0" ry="1.6" fill="#b0c0d0" opacity="0.80"/><ellipse cx="3.0" cy="7.2" rx="1.6" ry="1.4" fill="#c0ccd8" opacity="0.94"/><ellipse cx="3.6" cy="4.3" rx="1.2" ry="1.6" fill="#c0ccd8" opacity="0.95"/><ellipse cx="6.3" cy="5.4" rx="0.9" ry="1.4" fill="#8aa4c0" opacity="0.64"/><ellipse cx="7.0" cy="3.3" rx="1.7" ry="1.4" fill="#b0c0d0" opacity="0.78"/><ellipse cx="15.9" cy="4.4" rx="1.9" ry="1.8" fill="#a8bcd0" opacity="0.92"/><ellipse cx="7.0" cy="7.6" rx="1.1" ry="1.7" fill="#c0ccd8" opacity="0.94"/><ellipse cx="19.6" cy="6.8" rx="1.0" ry="1.2" fill="#7a98b8" opacity="0.77"/><ellipse cx="6.5" cy="2.5" rx="1.8" ry="1.1" fill="#a8bcd0" opacity="0.69"/><ellipse cx="15.5" cy="3.2" rx="1.0" ry="1.4" fill="#7a98b8" opacity="0.82"/><ellipse cx="9.2" cy="8.7" rx="1.3" ry="1.2" fill="#8aa4c0" opacity="0.61"/><ellipse cx="19.5" cy="5.9" rx="1.1" ry="0.8" fill="#8aa4c0" opacity="0.71"/><rect x=".5" y=".5" width="25" height="12" fill="none" stroke="#e244ea" stroke-opacity=".5"/></svg></div>
<div class="c" style="left:407.7px;top:204.8px;border-color:#26e026;box-shadow:inset 0 0 0 1px #26e02680;background:linear-gradient(#4a5060 0%,#6a7080 20%,#d8b070 42%,#a09880 55%,#6a7080 70%,#3a3a3a 88%,#5a5a5a 100%)"></div>
<div class="c" style="left:438.0px;top:204.8px;border-color:#26e026;box-shadow:inset 0 0 0 1px #26e02680;background:linear-gradient(#6a6058 0%,#7a7068 20%,#d0c0a0 42%,#8a8078 58%,#3a3a38 80%,#5a5a58 100%)"></div>
<div class="c" style="left:316.8px;top:224.3px;border-color:#f01a1a;box-shadow:inset 0 0 0 1px #f01a1a80;background:#1a4a70"></div>
<div class="c" style="left:347.1px;top:224.3px;border-color:#e244ea;box-shadow:inset 0 0 0 1px #e244ea80;background:linear-gradient(#5a6068 0%,#7a8088 25%,#6a7888 50%,#9a9a98 75%,#7a7a78 100%)"></div>
<div class="c" style="left:377.4px;top:224.3px;border-color:#1c1ce0;box-shadow:inset 0 0 0 1px #1c1ce080;background:linear-gradient(#3a4050 0%,#6a7080 25%,#9aa0a8 50%,#5a6070 75%,#3a4050 100%)"></div>
<div class="c" style="left:407.7px;top:224.3px;border-color:#26e026;box-shadow:inset 0 0 0 1px #26e02680;background:linear-gradient(#304050 0%,#b0c0d0 25%,#e0c090 50%,#5a6070 75%,#3a4050 100%)"></div>
<div class="c" style="left:438.0px;top:224.3px;border-color:#26e026;box-shadow:inset 0 0 0 1px #26e02680;background:linear-gradient(#3a3a38 0%,#7a7a78 20%,#c0b8a0 40%,#6a6a68 55%,#2e2e2c 72%,#7a7a78 88%,#5a5a58 100%)"></div>
<div class="c" style="left:316.8px;top:242.9px;border-color:#f01a1a;box-shadow:inset 0 0 0 1px #f01a1a80;background:#5a6478"></div>
<div class="c" style="left:347.1px;top:242.9px;border-color:#e244ea;box-shadow:inset 0 0 0 1px #e244ea80;background:linear-gradient(#7a7868 0%,#6a6858 25%,#1a1a1a 50%,#8a8a88 75%,#a0a098 100%)"></div>
<div class="c" style="left:377.4px;top:242.9px;border-color:#1c1ce0;box-shadow:inset 0 0 0 1px #1c1ce080;background:linear-gradient(#3a4050 0%,#4a5060 30%,#6a7078 55%,#80c8e8 72%,#4a5060 88%,#3a4050 100%)"></div>
<div class="c" style="left:407.7px;top:242.9px;border-color:#26e026;box-shadow:inset 0 0 0 1px #26e02680;background:linear-gradient(#3a3a38 0%,#4a4a48 20%,#8a8a80 35%,#d8d0b8 48%,#6a6a68 60%,#3a3a38 75%,#8a8a88 90%,#9a9a98 100%)"></div>
<div class="c" style="left:438.0px;top:242.9px;border-color:#26e026;box-shadow:inset 0 0 0 1px #26e02680;background:linear-gradient(#3a3a38 0%,#7a7a78 20%,#c8c0a8 40%,#5a5a58 55%,#2e2e2c 72%,#8a8a88 88%,#6a6a68 100%)"></div>
<div class="ax" style="left:313.3px;top:166.2px;width:1px;height:94.7px"></div>
<svg style="position:absolute;left:310.8px;top:164.9px" width="6" height="6"><path d="M3 0 L4.5 4.6 L3 3.8 L1.5 4.6Z" fill="#333"/></svg>
<div class="ax" style="left:313.3px;top:259.9px;width:155.5px;height:1px"></div>
<svg style="position:absolute;left:464.3px;top:257.4px" width="6" height="6"><path d="M6 3 L0.8 1.5 L1.6 3 L0.8 4.5Z" fill="#333"/></svg>
<div class="ax" style="left:313.8px;top:174.0px;width:2px;height:1px"></div>
<div class="yl" style="left:299.3px;top:168.0px">22</div>
<div class="ax" style="left:313.8px;top:193.2px;width:2px;height:1px"></div>
<div class="yl" style="left:299.3px;top:187.2px">18</div>
<div class="ax" style="left:313.8px;top:211.8px;width:2px;height:1px"></div>
<div class="yl" style="left:299.3px;top:205.8px">14</div>
<div class="ax" style="left:313.8px;top:231.3px;width:2px;height:1px"></div>
<div class="yl" style="left:299.3px;top:225.3px">10</div>
<div class="ax" style="left:313.8px;top:249.9px;width:2px;height:1px"></div>
<div class="yl" style="left:299.3px;top:243.9px">6</div>
<div class="ax" style="left:330.3px;top:257.9px;width:1px;height:2px"></div>
<div class="xl" style="left:318.1px;top:260.4px">500</div>
<div class="ax" style="left:360.6px;top:257.9px;width:1px;height:2px"></div>
<div class="xl" style="left:348.4px;top:260.4px">900</div>
<div class="ax" style="left:390.9px;top:257.9px;width:1px;height:2px"></div>
<div class="xl" style="left:378.7px;top:260.4px">1300</div>
<div class="ax" style="left:421.2px;top:257.9px;width:1px;height:2px"></div>
<div class="xl" style="left:409.0px;top:260.4px">1700</div>
<div class="ax" style="left:451.5px;top:257.9px;width:1px;height:2px"></div>
<div class="xl" style="left:439.3px;top:260.4px">2100</div>
<div class="t" style="left:348.8px;top:274.7px;font-size:12px">Laser power <i>P</i>/(W)</div>
<div class="yt" style="left:290.8px;top:272.3px"><span style="font-size:11px">Scanning speed</span> <i>V</i><sub style="font-size:7.5px;vertical-align:-2px;margin-right:1px;margin-left:0.5px"><i>s</i></sub><span>/</span><span style="font-size:10.5px">(mm/s)</span></div>
<div class="pl" style="left:304.7px;top:150.6px"><span class="pp">(</span>e<span class="pp">)</span></div>
<svg style="position:absolute;left:0;top:0;pointer-events:none" width="550" height="349"><defs><filter id="nz" x="0" y="0" width="100%" height="100%"><feTurbulence type="fractalNoise" baseFrequency="0.9 0.6" numOctaves="2" seed="4"/><feColorMatrix type="matrix" values="0 0 0 0 0.5  0 0 0 0 0.5  0 0 0 0 0.5  2.2 0 0 0 -0.95"/></filter><filter id="nz2" x="0" y="0" width="100%" height="100%"><feTurbulence type="fractalNoise" baseFrequency="0.9 0.6" numOctaves="2" seed="9"/><feColorMatrix type="matrix" values="0 0 0 0 1  0 0 0 0 1  0 0 0 0 1  0 2.2 0 0 -1.05"/></filter><clipPath id="cl"><rect x="64" y="27" width="24" height="11"/><rect x="94" y="27" width="24" height="11"/><rect x="124" y="27" width="24" height="11"/><rect x="155" y="27" width="24" height="11"/><rect x="64" y="46" width="24" height="11"/><rect x="94" y="46" width="24" height="11"/><rect x="124" y="46" width="24" height="11"/><rect x="155" y="46" width="24" height="11"/><rect x="64" y="64" width="24" height="11"/><rect x="94" y="64" width="24" height="11"/><rect x="124" y="64" width="24" height="11"/><rect x="155" y="64" width="24" height="11"/><rect x="64" y="84" width="24" height="11"/><rect x="94" y="84" width="24" height="11"/><rect x="124" y="84" width="24" height="11"/><rect x="155" y="84" width="24" height="11"/><rect x="64" y="103" width="24" height="11"/><rect x="94" y="103" width="24" height="11"/><rect x="124" y="103" width="24" height="11"/><rect x="155" y="103" width="24" height="11"/><rect x="243" y="27" width="24" height="11"/><rect x="273" y="27" width="24" height="11"/><rect x="304" y="27" width="24" height="11"/><rect x="334" y="27" width="24" height="11"/><rect x="243" y="46" width="24" height="11"/><rect x="273" y="46" width="24" height="11"/><rect x="304" y="46" width="24" height="11"/><rect x="334" y="46" width="24" height="11"/><rect x="213" y="64" width="24" height="11"/><rect x="243" y="64" width="24" height="11"/><rect x="273" y="64" width="24" height="11"/><rect x="304" y="64" width="24" height="11"/><rect x="334" y="64" width="24" height="11"/><rect x="243" y="84" width="24" height="11"/><rect x="273" y="84" width="24" height="11"/><rect x="304" y="84" width="24" height="11"/><rect x="334" y="84" width="24" height="11"/><rect x="243" y="103" width="24" height="11"/><rect x="273" y="103" width="24" height="11"/><rect x="304" y="103" width="24" height="11"/><rect x="334" y="103" width="24" height="11"/><rect x="421" y="26" width="24" height="11"/><rect x="451" y="26" width="24" height="11"/><rect x="481" y="26" width="24" height="11"/><rect x="512" y="26" width="24" height="11"/><rect x="421" y="45" width="24" height="11"/><rect x="451" y="45" width="24" height="11"/><rect x="481" y="45" width="24" height="11"/><rect x="512" y="45" width="24" height="11"/><rect x="390" y="64" width="24" height="11"/><rect x="421" y="64" width="24" height="11"/><rect x="451" y="64" width="24" height="11"/><rect x="481" y="64" width="24" height="11"/><rect x="512" y="64" width="24" height="11"/><rect x="421" y="84" width="24" height="11"/><rect x="451" y="84" width="24" height="11"/><rect x="481" y="84" width="24" height="11"/><rect x="512" y="84" width="24" height="11"/><rect x="421" y="102" width="24" height="11"/><rect x="451" y="102" width="24" height="11"/><rect x="481" y="102" width="24" height="11"/><rect x="512" y="102" width="24" height="11"/><rect x="258" y="168" width="24" height="11"/><rect x="167" y="188" width="24" height="11"/><rect x="258" y="188" width="24" height="11"/><rect x="167" y="206" width="24" height="11"/><rect x="228" y="206" width="24" height="11"/><rect x="258" y="206" width="24" height="11"/><rect x="167" y="226" width="24" height="11"/><rect x="198" y="226" width="24" height="11"/><rect x="228" y="226" width="24" height="11"/><rect x="258" y="226" width="24" height="11"/><rect x="167" y="244" width="24" height="11"/><rect x="198" y="244" width="24" height="11"/><rect x="228" y="244" width="24" height="11"/><rect x="258" y="244" width="24" height="11"/><rect x="440" y="188" width="24" height="11"/><rect x="349" y="207" width="24" height="11"/><rect x="410" y="207" width="24" height="11"/><rect x="440" y="207" width="24" height="11"/><rect x="349" y="226" width="24" height="11"/><rect x="379" y="226" width="24" height="11"/><rect x="410" y="226" width="24" height="11"/><rect x="440" y="226" width="24" height="11"/><rect x="349" y="245" width="24" height="11"/><rect x="379" y="245" width="24" height="11"/><rect x="410" y="245" width="24" height="11"/><rect x="440" y="245" width="24" height="11"/></clipPath><clipPath id="clf"><rect x="34" y="64" width="24" height="11"/><rect x="34" y="103" width="24" height="11"/><rect x="213" y="27" width="24" height="11"/><rect x="213" y="84" width="24" height="11"/><rect x="213" y="103" width="24" height="11"/><rect x="390" y="84" width="24" height="11"/><rect x="390" y="102" width="24" height="11"/><rect x="137" y="168" width="24" height="11"/><rect x="167" y="168" width="24" height="11"/><rect x="137" y="188" width="24" height="11"/><rect x="137" y="226" width="24" height="11"/><rect x="137" y="244" width="24" height="11"/><rect x="319" y="169" width="24" height="11"/><rect x="319" y="188" width="24" height="11"/><rect x="349" y="188" width="24" height="11"/><rect x="319" y="226" width="24" height="11"/><rect x="319" y="245" width="24" height="11"/></clipPath></defs><g clip-path="url(#cl)"><rect width="550" height="290" filter="url(#nz)" fill="#000" opacity=".25"/><rect width="550" height="290" filter="url(#nz2)" fill="#fff" opacity=".25"/></g><g clip-path="url(#clf)"><rect width="550" height="290" filter="url(#nz)" fill="#000" opacity=".15"/><rect width="550" height="290" filter="url(#nz2)" fill="#fff" opacity=".08"/></g></svg>
<svg style="position:absolute;left:0;top:0" width="550" height="349"><g stroke="#151515" stroke-width="1.8" stroke-dasharray="1.8 2.93" fill="none"><line x1="14.0" y1="295.7" x2="541.5" y2="295.7"/><line x1="14.0" y1="341.9" x2="541.5" y2="341.9"/><line x1="14.9" y1="294.8" x2="14.9" y2="343"/><line x1="540.6" y1="294.8" x2="540.6" y2="343"/></g></svg>
<div class="lg" style="left:18.3px;top:304.2px;width:94px;height:19.2px"><svg width="94" height="19.2" viewBox="0 0 94 19.2">
<defs>
<linearGradient id="n1" x1="0" x2="1" y1="0" y2="0"><stop offset="0" stop-color="#5a3a22"/><stop offset=".05" stop-color="#3a200e"/><stop offset=".15" stop-color="#4a2e18"/><stop offset=".3" stop-color="#7a5a40"/><stop offset=".55" stop-color="#9a7a5c"/><stop offset="1" stop-color="#b09274"/></linearGradient>
<linearGradient id="n2" x1="0" x2="0" y1="0" y2="1"><stop offset="0" stop-color="#fff" stop-opacity=".3"/><stop offset=".3" stop-color="#fff" stop-opacity=".08"/><stop offset=".5" stop-color="#000" stop-opacity=".18"/><stop offset=".7" stop-color="#fff" stop-opacity=".05"/><stop offset="1" stop-color="#fff" stop-opacity=".25"/></linearGradient>
<linearGradient id="n4" x1="0" x2="0" y1="0" y2="1"><stop offset="0" stop-color="#a8b4c8"/><stop offset=".5" stop-color="#c4c6cc"/><stop offset="1" stop-color="#a0b0c8"/></linearGradient>
</defs>
<rect x="0" y="0" width="94" height="19.2" fill="url(#n1)"/>
<rect x="1.0" y="0" width="1.0" height="19.2" fill="#2a1808" opacity="0.15"/><rect x="3.5" y="0" width="0.6" height="19.2" fill="#2a1808" opacity="0.21"/><rect x="5.7" y="0" width="0.5" height="19.2" fill="#2a1808" opacity="0.19"/><rect x="9.5" y="0" width="0.5" height="19.2" fill="#2a1808" opacity="0.19"/><rect x="14.1" y="0" width="1.0" height="19.2" fill="#2a1808" opacity="0.26"/><rect x="18.7" y="0" width="0.8" height="19.2" fill="#2a1808" opacity="0.14"/><rect x="21.0" y="0" width="0.4" height="19.2" fill="#2a1808" opacity="0.33"/><rect x="25.0" y="0" width="1.0" height="19.2" fill="#2a1808" opacity="0.11"/><rect x="29.4" y="0" width="0.7" height="19.2" fill="#2a1808" opacity="0.28"/><rect x="32.6" y="0" width="1.0" height="19.2" fill="#2a1808" opacity="0.12"/><rect x="36.7" y="0" width="0.8" height="19.2" fill="#2a1808" opacity="0.33"/><rect x="41.3" y="0" width="0.8" height="19.2" fill="#2a1808" opacity="0.30"/><rect x="46.3" y="0" width="0.6" height="19.2" fill="#2a1808" opacity="0.27"/><rect x="51.2" y="0" width="0.9" height="19.2" fill="#2a1808" opacity="0.20"/><rect x="55.9" y="0" width="0.9" height="19.2" fill="#2a1808" opacity="0.24"/><rect x="60.2" y="0" width="0.6" height="19.2" fill="#2a1808" opacity="0.25"/><rect x="64.2" y="0" width="0.4" height="19.2" fill="#2a1808" opacity="0.26"/><rect x="69.1" y="0" width="0.9" height="19.2" fill="#2a1808" opacity="0.28"/><rect x="72.7" y="0" width="0.8" height="19.2" fill="#2a1808" opacity="0.25"/><rect x="76.4" y="0" width="0.9" height="19.2" fill="#2a1808" opacity="0.12"/><rect x="81.0" y="0" width="0.4" height="19.2" fill="#2a1808" opacity="0.25"/><rect x="84.4" y="0" width="0.5" height="19.2" fill="#2a1808" opacity="0.27"/><rect x="87.9" y="0" width="0.8" height="19.2" fill="#2a1808" opacity="0.33"/><rect x="91.0" y="0" width="0.4" height="19.2" fill="#2a1808" opacity="0.18"/><rect x="1.0" y="0" width="0.9" height="19.2" fill="#e8d0b0" opacity="0.35"/><rect x="3.3" y="0" width="1.3" height="19.2" fill="#fff0dc" opacity="0.22"/><rect x="6.0" y="0" width="1.1" height="19.2" fill="#e8d0b0" opacity="0.22"/><rect x="8.2" y="0" width="0.6" height="19.2" fill="#fff0dc" opacity="0.43"/><rect x="10.6" y="0" width="1.0" height="19.2" fill="#e8d0b0" opacity="0.29"/><rect x="13.4" y="0" width="1.1" height="19.2" fill="#f4e2c8" opacity="0.21"/><rect x="16.5" y="0" width="0.6" height="19.2" fill="#f4e2c8" opacity="0.16"/><rect x="18.8" y="0" width="1.2" height="19.2" fill="#fff0dc" opacity="0.26"/><rect x="22.1" y="0" width="1.0" height="19.2" fill="#e8d0b0" opacity="0.37"/><rect x="23.7" y="0" width="0.6" height="19.2" fill="#e8d0b0" opacity="0.38"/><rect x="26.6" y="0" width="1.4" height="19.2" fill="#fff0dc" opacity="0.44"/><rect x="29.1" y="0" width="1.2" height="19.2" fill="#f4e2c8" opacity="0.33"/><rect x="31.0" y="0" width="1.2" height="19.2" fill="#e8d0b0" opacity="0.29"/><rect x="33.5" y="0" width="1.4" height="19.2" fill="#f4e2c8" opacity="0.45"/><rect x="35.8" y="0" width="1.3" height="19.2" fill="#e8d0b0" opacity="0.17"/><rect x="39.5" y="0" width="0.9" height="19.2" fill="#fff0dc" opacity="0.18"/><rect x="41.3" y="0" width="1.1" height="19.2" fill="#e8d0b0" opacity="0.27"/><rect x="43.6" y="0" width="1.4" height="19.2" fill="#f4e2c8" opacity="0.42"/><rect x="45.9" y="0" width="1.1" height="19.2" fill="#e8d0b0" opacity="0.15"/><rect x="49.0" y="0" width="0.7" height="19.2" fill="#e8d0b0" opacity="0.35"/><rect x="51.2" y="0" width="1.4" height="19.2" fill="#e8d0b0" opacity="0.42"/><rect x="54.3" y="0" width="0.6" height="19.2" fill="#f4e2c8" opacity="0.30"/><rect x="55.6" y="0" width="1.3" height="19.2" fill="#fff0dc" opacity="0.49"/><rect x="58.0" y="0" width="1.3" height="19.2" fill="#e8d0b0" opacity="0.22"/><rect x="61.7" y="0" width="1.0" height="19.2" fill="#f4e2c8" opacity="0.35"/><rect x="65.1" y="0" width="0.7" height="19.2" fill="#fff0dc" opacity="0.24"/><rect x="67.0" y="0" width="0.8" height="19.2" fill="#f4e2c8" opacity="0.18"/><rect x="68.7" y="0" width="1.1" height="19.2" fill="#e8d0b0" opacity="0.16"/><rect x="71.1" y="0" width="0.9" height="19.2" fill="#e8d0b0" opacity="0.49"/><rect x="74.1" y="0" width="0.6" height="19.2" fill="#fff0dc" opacity="0.29"/><rect x="75.6" y="0" width="1.3" height="19.2" fill="#f4e2c8" opacity="0.44"/><rect x="78.8" y="0" width="0.6" height="19.2" fill="#fff0dc" opacity="0.37"/><rect x="80.4" y="0" width="1.4" height="19.2" fill="#fff0dc" opacity="0.46"/><rect x="82.5" y="0" width="0.5" height="19.2" fill="#fff0dc" opacity="0.19"/><rect x="85.4" y="0" width="0.7" height="19.2" fill="#e8d0b0" opacity="0.40"/><rect x="87.4" y="0" width="1.3" height="19.2" fill="#fff0dc" opacity="0.32"/><rect x="89.7" y="0" width="1.1" height="19.2" fill="#f4e2c8" opacity="0.17"/><rect x="92.3" y="0" width="1.1" height="19.2" fill="#f4e2c8" opacity="0.37"/>
<rect x="0" y="0" width="94" height="19.2" fill="url(#n2)"/>
<path d="M47,9.4 C50,7 53,6 57,5.8 L80,5.8 C84,6 86,7 88,8 L92.5,7.9 L92.5,11.1 L88,11 C86,12.4 84,13.3 80,13.5 L57,13.7 C53,13.7 50,12 47,9.4Z" fill="url(#n4)" stroke="#2c5cc0" stroke-width="1.1"/>
<rect x=".8" y=".8" width="92.4" height="17.6" fill="none" stroke="#f01a1a" stroke-width="1.6"/>
</svg></div>
<div class="lt" style="left:12.9px;top:327px">No fusion</div>
<div class="lg" style="left:122.2px;top:304.2px;width:94px;height:19.2px"><svg width="94" height="19.2" viewBox="0 0 94 19.2">
<defs><linearGradient id="l1" x1="0" x2="0" y1="0" y2="1"><stop offset="0" stop-color="#624a48"/><stop offset=".5" stop-color="#54403c"/><stop offset="1" stop-color="#5e4846"/></linearGradient></defs>
<rect x="0" y="0" width="94" height="19.2" fill="#a89aa8"/>
<path d="M1.5,1.6 L86,1.6 Q92.5,1.6 92.5,8 L92.5,11.6 Q92.5,17.6 86,17.6 L1.5,17.6Z" fill="url(#l1)"/>
<rect x="50.0" y="2.7" width=".8" height=".8" fill="#3a2420" opacity=".6"/><rect x="54.4" y="12.1" width=".8" height=".8" fill="#3a2420" opacity=".6"/><rect x="77.6" y="14.3" width=".8" height=".8" fill="#3a2420" opacity=".6"/><rect x="36.5" y="14.4" width=".8" height=".8" fill="#6a4a48" opacity=".6"/><rect x="81.1" y="9.0" width=".8" height=".8" fill="#7a5a58" opacity=".6"/><rect x="28.7" y="2.5" width=".8" height=".8" fill="#3a2420" opacity=".6"/><rect x="53.2" y="11.6" width=".8" height=".8" fill="#3a2420" opacity=".6"/><rect x="82.1" y="4.5" width=".8" height=".8" fill="#3a2420" opacity=".6"/><rect x="63.2" y="14.9" width=".8" height=".8" fill="#8a7078" opacity=".6"/><rect x="49.3" y="8.5" width=".8" height=".8" fill="#7a5a58" opacity=".6"/><rect x="8.0" y="5.7" width=".8" height=".8" fill="#7a5a58" opacity=".6"/><rect x="71.7" y="11.8" width=".8" height=".8" fill="#7a5a58" opacity=".6"/><rect x="31.3" y="8.5" width=".8" height=".8" fill="#7a5a58" opacity=".6"/><rect x="89.9" y="12.3" width=".8" height=".8" fill="#7a5a58" opacity=".6"/><rect x="12.9" y="4.2" width=".8" height=".8" fill="#7a5a58" opacity=".6"/><rect x="64.7" y="4.4" width=".8" height=".8" fill="#8a7078" opacity=".6"/><rect x="64.1" y="8.6" width=".8" height=".8" fill="#6a4a48" opacity=".6"/><rect x="55.7" y="8.3" width=".8" height=".8" fill="#6a4a48" opacity=".6"/><rect x="7.9" y="5.5" width=".8" height=".8" fill="#7a5a58" opacity=".6"/><rect x="60.1" y="12.9" width=".8" height=".8" fill="#8a7078" opacity=".6"/><rect x="7.1" y="10.6" width=".8" height=".8" fill="#3a2420" opacity=".6"/><rect x="79.3" y="4.4" width=".8" height=".8" fill="#3a2420" opacity=".6"/><rect x="10.0" y="12.1" width=".8" height=".8" fill="#3a2420" opacity=".6"/><rect x="45.1" y="15.6" width=".8" height=".8" fill="#8a7078" opacity=".6"/><rect x="82.5" y="4.4" width=".8" height=".8" fill="#8a7078" opacity=".6"/><rect x="15.3" y="11.3" width=".8" height=".8" fill="#8a7078" opacity=".6"/><rect x="82.1" y="10.3" width=".8" height=".8" fill="#6a4a48" opacity=".6"/><rect x="25.2" y="10.2" width=".8" height=".8" fill="#8a7078" opacity=".6"/><rect x="75.3" y="6.5" width=".8" height=".8" fill="#6a4a48" opacity=".6"/><rect x="73.1" y="14.6" width=".8" height=".8" fill="#3a2420" opacity=".6"/><rect x="66.8" y="5.0" width=".8" height=".8" fill="#7a5a58" opacity=".6"/><rect x="59.6" y="3.7" width=".8" height=".8" fill="#7a5a58" opacity=".6"/><rect x="10.0" y="4.2" width=".8" height=".8" fill="#3a2420" opacity=".6"/><rect x="23.0" y="14.8" width=".8" height=".8" fill="#3a2420" opacity=".6"/><rect x="86.8" y="4.0" width=".8" height=".8" fill="#7a5a58" opacity=".6"/><rect x="49.7" y="7.9" width=".8" height=".8" fill="#6a4a48" opacity=".6"/><rect x="85.1" y="8.5" width=".8" height=".8" fill="#6a4a48" opacity=".6"/><rect x="68.0" y="3.7" width=".8" height=".8" fill="#3a2420" opacity=".6"/><rect x="74.2" y="4.5" width=".8" height=".8" fill="#3a2420" opacity=".6"/><rect x="33.2" y="5.8" width=".8" height=".8" fill="#8a7078" opacity=".6"/><rect x="83.9" y="12.4" width=".8" height=".8" fill="#3a2420" opacity=".6"/><rect x="35.3" y="12.6" width=".8" height=".8" fill="#8a7078" opacity=".6"/><rect x="59.0" y="13.8" width=".8" height=".8" fill="#3a2420" opacity=".6"/><rect x="86.6" y="7.6" width=".8" height=".8" fill="#7a5a58" opacity=".6"/><rect x="54.2" y="10.5" width=".8" height=".8" fill="#6a4a48" opacity=".6"/><rect x="36.8" y="3.9" width=".8" height=".8" fill="#7a5a58" opacity=".6"/><rect x="18.4" y="5.2" width=".8" height=".8" fill="#3a2420" opacity=".6"/><rect x="80.3" y="9.2" width=".8" height=".8" fill="#8a7078" opacity=".6"/><rect x="2.0" y="9.1" width=".8" height=".8" fill="#3a2420" opacity=".6"/><rect x="30.4" y="9.0" width=".8" height=".8" fill="#6a4a48" opacity=".6"/><rect x="15.6" y="4.7" width=".8" height=".8" fill="#8a7078" opacity=".6"/><rect x="78.5" y="14.7" width=".8" height=".8" fill="#3a2420" opacity=".6"/><rect x="15.4" y="6.1" width=".8" height=".8" fill="#8a7078" opacity=".6"/><rect x="74.0" y="13.0" width=".8" height=".8" fill="#6a4a48" opacity=".6"/><rect x="4.9" y="15.0" width=".8" height=".8" fill="#8a7078" opacity=".6"/><rect x="83.4" y="7.7" width=".8" height=".8" fill="#7a5a58" opacity=".6"/><rect x="62.5" y="11.9" width=".8" height=".8" fill="#3a2420" opacity=".6"/><rect x="76.7" y="4.7" width=".8" height=".8" fill="#8a7078" opacity=".6"/><rect x="27.6" y="11.9" width=".8" height=".8" fill="#6a4a48" opacity=".6"/><rect x="5.0" y="12.5" width=".8" height=".8" fill="#6a4a48" opacity=".6"/><rect x="59.8" y="11.1" width=".8" height=".8" fill="#8a7078" opacity=".6"/><rect x="61.9" y="5.1" width=".8" height=".8" fill="#8a7078" opacity=".6"/><rect x="26.9" y="12.8" width=".8" height=".8" fill="#3a2420" opacity=".6"/><rect x="16.4" y="5.9" width=".8" height=".8" fill="#6a4a48" opacity=".6"/><rect x="84.8" y="11.5" width=".8" height=".8" fill="#3a2420" opacity=".6"/><rect x="65.9" y="6.3" width=".8" height=".8" fill="#3a2420" opacity=".6"/><rect x="7.4" y="13.4" width=".8" height=".8" fill="#3a2420" opacity=".6"/><rect x="16.9" y="3.0" width=".8" height=".8" fill="#8a7078" opacity=".6"/><rect x="84.7" y="12.5" width=".8" height=".8" fill="#6a4a48" opacity=".6"/><rect x="81.1" y="9.4" width=".8" height=".8" fill="#3a2420" opacity=".6"/><rect x="6.7" y="5.9" width=".8" height=".8" fill="#7a5a58" opacity=".6"/><rect x="45.8" y="13.4" width=".8" height=".8" fill="#7a5a58" opacity=".6"/><rect x="24.5" y="8.2" width=".8" height=".8" fill="#8a7078" opacity=".6"/><rect x="58.4" y="14.8" width=".8" height=".8" fill="#6a4a48" opacity=".6"/><rect x="17.8" y="9.6" width=".8" height=".8" fill="#3a2420" opacity=".6"/><rect x="18.5" y="5.8" width=".8" height=".8" fill="#8a7078" opacity=".6"/><rect x="71.6" y="3.7" width=".8" height=".8" fill="#6a4a48" opacity=".6"/><rect x="54.6" y="14.5" width=".8" height=".8" fill="#6a4a48" opacity=".6"/><rect x="57.0" y="8.7" width=".8" height=".8" fill="#8a7078" opacity=".6"/><rect x="44.8" y="10.5" width=".8" height=".8" fill="#3a2420" opacity=".6"/><rect x="48.0" y="4.4" width=".8" height=".8" fill="#7a5a58" opacity=".6"/><rect x="82.3" y="6.8" width=".8" height=".8" fill="#3a2420" opacity=".6"/><rect x="80.5" y="16.5" width=".8" height=".8" fill="#7a5a58" opacity=".6"/><rect x="14.2" y="9.3" width=".8" height=".8" fill="#8a7078" opacity=".6"/><rect x="74.1" y="6.9" width=".8" height=".8" fill="#6a4a48" opacity=".6"/><rect x="49.2" y="9.1" width=".8" height=".8" fill="#7a5a58" opacity=".6"/><rect x="72.3" y="16.0" width=".8" height=".8" fill="#6a4a48" opacity=".6"/><rect x="26.3" y="9.4" width=".8" height=".8" fill="#6a4a48" opacity=".6"/><rect x="6.2" y="5.3" width=".8" height=".8" fill="#8a7078" opacity=".6"/><rect x="79.7" y="14.9" width=".8" height=".8" fill="#7a5a58" opacity=".6"/>
<ellipse cx="49.1" cy="11.3" rx="1.7" ry="2.8" fill="#d8dce4" opacity="0.78"/><ellipse cx="44.5" cy="11.8" rx="1.7" ry="1.4" fill="#a8bcd4" opacity="0.87"/><ellipse cx="23.7" cy="9.6" rx="1.0" ry="2.0" fill="#c8bc84" opacity="0.64"/><ellipse cx="54.6" cy="9.2" rx="0.9" ry="2.6" fill="#b8c4d8" opacity="0.61"/><ellipse cx="57.9" cy="7.6" rx="1.5" ry="1.2" fill="#a8bcd4" opacity="0.89"/><ellipse cx="18.3" cy="11.4" rx="1.9" ry="1.2" fill="#98acc8" opacity="0.65"/><ellipse cx="66.1" cy="10.0" rx="1.6" ry="1.3" fill="#d8dce4" opacity="0.62"/><ellipse cx="66.3" cy="9.1" rx="0.7" ry="1.7" fill="#98acc8" opacity="0.64"/><ellipse cx="34.6" cy="11.7" rx="1.5" ry="2.1" fill="#d8dce4" opacity="0.67"/><ellipse cx="33.5" cy="11.7" rx="1.3" ry="1.5" fill="#b8c4d8" opacity="0.72"/><ellipse cx="26.8" cy="8.3" rx="1.9" ry="2.8" fill="#c0c8d4" opacity="0.85"/><ellipse cx="18.9" cy="11.5" rx="1.2" ry="2.1" fill="#a8bcd4" opacity="0.71"/><ellipse cx="53.4" cy="10.5" rx="1.9" ry="1.1" fill="#98acc8" opacity="0.88"/><ellipse cx="65.1" cy="8.9" rx="1.2" ry="1.9" fill="#8aa0c0" opacity="0.71"/><ellipse cx="47.5" cy="11.5" rx="1.2" ry="1.5" fill="#b8c4d8" opacity="0.88"/><ellipse cx="22.6" cy="8.8" rx="1.5" ry="2.7" fill="#c0c8d4" opacity="0.65"/><ellipse cx="53.1" cy="7.4" rx="1.6" ry="1.5" fill="#8aa0c0" opacity="0.58"/><ellipse cx="25.4" cy="10.9" rx="2.0" ry="1.2" fill="#a8bcd4" opacity="0.58"/><ellipse cx="48.0" cy="12.3" rx="0.7" ry="2.4" fill="#c0c8d4" opacity="0.84"/><ellipse cx="40.8" cy="9.3" rx="0.8" ry="2.7" fill="#a8bcd4" opacity="0.83"/><ellipse cx="34.7" cy="8.0" rx="2.0" ry="2.0" fill="#98acc8" opacity="0.77"/><ellipse cx="57.4" cy="7.4" rx="1.3" ry="1.2" fill="#8aa0c0" opacity="0.70"/><ellipse cx="25.1" cy="12.3" rx="1.5" ry="1.2" fill="#c8bc84" opacity="0.71"/><ellipse cx="42.4" cy="11.2" rx="1.3" ry="1.5" fill="#b8c4d8" opacity="0.87"/><ellipse cx="23.6" cy="11.7" rx="1.4" ry="1.3" fill="#b8c4d8" opacity="0.85"/><ellipse cx="27.0" cy="9.8" rx="1.4" ry="2.0" fill="#c8bc84" opacity="0.68"/><ellipse cx="57.3" cy="11.4" rx="1.6" ry="2.2" fill="#8aa0c0" opacity="0.66"/><ellipse cx="46.0" cy="10.8" rx="1.8" ry="1.4" fill="#d8dce4" opacity="0.80"/><ellipse cx="65.8" cy="8.8" rx="0.9" ry="2.6" fill="#b8c4d8" opacity="0.74"/><ellipse cx="30.5" cy="10.8" rx="1.3" ry="2.5" fill="#d8dce4" opacity="0.79"/><ellipse cx="35.8" cy="8.4" rx="1.1" ry="2.8" fill="#b8c4d8" opacity="0.67"/><ellipse cx="60.1" cy="12.0" rx="1.6" ry="2.9" fill="#c0c8d4" opacity="0.73"/><ellipse cx="44.5" cy="7.8" rx="1.8" ry="2.8" fill="#b8c4d8" opacity="0.65"/><ellipse cx="21.9" cy="10.8" rx="1.2" ry="2.1" fill="#c8bc84" opacity="0.73"/><ellipse cx="64.8" cy="8.6" rx="1.4" ry="2.6" fill="#c0c8d4" opacity="0.80"/><ellipse cx="19.4" cy="7.8" rx="1.3" ry="2.2" fill="#98acc8" opacity="0.82"/><ellipse cx="27.0" cy="11.1" rx="2.0" ry="2.9" fill="#98acc8" opacity="0.57"/><ellipse cx="24.7" cy="8.7" rx="0.9" ry="1.3" fill="#a8bcd4" opacity="0.70"/><ellipse cx="35.6" cy="10.8" rx="0.8" ry="1.3" fill="#d8dce4" opacity="0.87"/><ellipse cx="18.0" cy="9.2" rx="1.1" ry="1.7" fill="#a8bcd4" opacity="0.79"/><ellipse cx="45.4" cy="12.6" rx="1.4" ry="1.5" fill="#c0c8d4" opacity="0.74"/><ellipse cx="35.0" cy="10.3" rx="1.9" ry="2.5" fill="#b8c4d8" opacity="0.69"/><ellipse cx="46.2" cy="10.0" rx="1.3" ry="1.2" fill="#b8c4d8" opacity="0.75"/><ellipse cx="65.9" cy="12.6" rx="1.5" ry="1.6" fill="#d8dce4" opacity="0.55"/><ellipse cx="23.4" cy="10.2" rx="1.5" ry="1.2" fill="#d8dce4" opacity="0.86"/><ellipse cx="46.2" cy="9.4" rx="2.0" ry="1.9" fill="#b8c4d8" opacity="0.89"/><ellipse cx="37.0" cy="12.6" rx="1.9" ry="2.1" fill="#c0c8d4" opacity="0.81"/><ellipse cx="33.0" cy="8.3" rx="0.7" ry="2.8" fill="#c0c8d4" opacity="0.72"/><ellipse cx="32.3" cy="9.7" rx="0.9" ry="2.1" fill="#b8c4d8" opacity="0.64"/><ellipse cx="20.0" cy="7.6" rx="1.2" ry="1.9" fill="#c8bc84" opacity="0.65"/><ellipse cx="64.8" cy="11.5" rx="1.0" ry="1.4" fill="#98acc8" opacity="0.80"/><ellipse cx="32.3" cy="9.8" rx="2.0" ry="1.9" fill="#8aa0c0" opacity="0.76"/><ellipse cx="55.2" cy="7.5" rx="1.7" ry="1.5" fill="#c8bc84" opacity="0.80"/><ellipse cx="48.7" cy="11.2" rx="0.7" ry="1.6" fill="#d8dce4" opacity="0.81"/><ellipse cx="47.5" cy="7.0" rx="1.0" ry="1.8" fill="#a8bcd4" opacity="0.86"/>
<ellipse cx="77" cy="12.5" rx="3.5" ry="1.2" fill="#8a8090" opacity=".5"/>
<ellipse cx="86.5" cy="9.5" rx="1" ry="2.5" fill="#a8a0a0" opacity=".5"/>
<rect x=".8" y=".8" width="92.4" height="17.6" fill="none" stroke="#f4ec14" stroke-width="1.8"/>
</svg></div>
<div class="lt" style="left:119.2px;top:327px">Lack of fusion</div>
<div class="lg" style="left:226.8px;top:304.2px;width:94px;height:19.2px"><svg width="94" height="19.2" viewBox="0 0 94 19.2">
<rect x="0" y="0" width="94" height="19.2" fill="#c8cacc"/>
<rect x="1.6" y="1.6" width="90.5" height="16" rx="6" fill="#5c6676"/>
<path d="M8,15.2 L86,14.2" stroke="#8a96a8" stroke-width="1.6" opacity=".7"/>
<path d="M12,4.2 C5.5,4.8 5,13.5 11,14.2" stroke="#8a98a8" stroke-width="1" fill="none"/>
<path d="M8,5 L80,3.8 C86,3.5 89,5 88,7 C84,9.5 70,11 50,12 L11,12.5 C7,12 6.5,6 8,5Z" fill="#6a6c5a"/>
<rect x="44.1" y="7.3" width=".9" height=".9" fill="#44463c" opacity=".7"/><rect x="22.5" y="9.6" width=".9" height=".9" fill="#7e806a" opacity=".7"/><rect x="47.2" y="11.2" width=".9" height=".9" fill="#8e8e7a" opacity=".7"/><rect x="34.1" y="11.5" width=".9" height=".9" fill="#8e8e7a" opacity=".7"/><rect x="64.8" y="5.8" width=".9" height=".9" fill="#55574a" opacity=".7"/><rect x="82.2" y="7.7" width=".9" height=".9" fill="#44463c" opacity=".7"/><rect x="26.6" y="5.3" width=".9" height=".9" fill="#9a9682" opacity=".7"/><rect x="12.9" y="9.7" width=".9" height=".9" fill="#8e8e7a" opacity=".7"/><rect x="79.7" y="6.0" width=".9" height=".9" fill="#44463c" opacity=".7"/><rect x="64.6" y="7.7" width=".9" height=".9" fill="#8e8e7a" opacity=".7"/><rect x="38.9" y="7.1" width=".9" height=".9" fill="#8e8e7a" opacity=".7"/><rect x="23.6" y="11.1" width=".9" height=".9" fill="#55574a" opacity=".7"/><rect x="12.3" y="7.3" width=".9" height=".9" fill="#55574a" opacity=".7"/><rect x="18.9" y="6.3" width=".9" height=".9" fill="#8e8e7a" opacity=".7"/><rect x="83.2" y="4.5" width=".9" height=".9" fill="#9a9682" opacity=".7"/><rect x="23.4" y="10.9" width=".9" height=".9" fill="#7e806a" opacity=".7"/><rect x="8.6" y="5.1" width=".9" height=".9" fill="#9a9682" opacity=".7"/><rect x="79.6" y="8.3" width=".9" height=".9" fill="#9a9682" opacity=".7"/><rect x="46.7" y="11.4" width=".9" height=".9" fill="#55574a" opacity=".7"/><rect x="13.4" y="5.9" width=".9" height=".9" fill="#8e8e7a" opacity=".7"/><rect x="62.7" y="5.6" width=".9" height=".9" fill="#9a9682" opacity=".7"/><rect x="64.1" y="4.8" width=".9" height=".9" fill="#7e806a" opacity=".7"/><rect x="51.3" y="9.0" width=".9" height=".9" fill="#44463c" opacity=".7"/><rect x="66.1" y="10.0" width=".9" height=".9" fill="#9a9682" opacity=".7"/><rect x="85.8" y="5.4" width=".9" height=".9" fill="#55574a" opacity=".7"/><rect x="82.2" y="6.3" width=".9" height=".9" fill="#9a9682" opacity=".7"/><rect x="47.4" y="10.0" width=".9" height=".9" fill="#9a9682" opacity=".7"/><rect x="54.0" y="10.3" width=".9" height=".9" fill="#8e8e7a" opacity=".7"/><rect x="75.7" y="5.3" width=".9" height=".9" fill="#9a9682" opacity=".7"/><rect x="36.5" y="6.1" width=".9" height=".9" fill="#44463c" opacity=".7"/><rect x="9.4" y="10.5" width=".9" height=".9" fill="#7e806a" opacity=".7"/><rect x="8.0" y="5.3" width=".9" height=".9" fill="#44463c" opacity=".7"/><rect x="42.6" y="6.9" width=".9" height=".9" fill="#8e8e7a" opacity=".7"/><rect x="32.0" y="6.6" width=".9" height=".9" fill="#9a9682" opacity=".7"/><rect x="69.2" y="4.7" width=".9" height=".9" fill="#9a9682" opacity=".7"/><rect x="71.0" y="8.2" width=".9" height=".9" fill="#44463c" opacity=".7"/><rect x="52.2" y="5.0" width=".9" height=".9" fill="#44463c" opacity=".7"/><rect x="15.5" y="10.2" width=".9" height=".9" fill="#9a9682" opacity=".7"/><rect x="37.1" y="10.9" width=".9" height=".9" fill="#7e806a" opacity=".7"/><rect x="18.9" y="6.7" width=".9" height=".9" fill="#7e806a" opacity=".7"/><rect x="10.3" y="11.5" width=".9" height=".9" fill="#44463c" opacity=".7"/><rect x="28.5" y="5.7" width=".9" height=".9" fill="#8e8e7a" opacity=".7"/><rect x="55.3" y="4.6" width=".9" height=".9" fill="#8e8e7a" opacity=".7"/><rect x="43.1" y="10.4" width=".9" height=".9" fill="#7e806a" opacity=".7"/><rect x="55.7" y="11.7" width=".9" height=".9" fill="#7e806a" opacity=".7"/><rect x="30.2" y="8.1" width=".9" height=".9" fill="#7e806a" opacity=".7"/><rect x="18.7" y="5.1" width=".9" height=".9" fill="#9a9682" opacity=".7"/><rect x="31.1" y="5.4" width=".9" height=".9" fill="#55574a" opacity=".7"/><rect x="43.2" y="9.8" width=".9" height=".9" fill="#55574a" opacity=".7"/><rect x="53.9" y="10.5" width=".9" height=".9" fill="#7e806a" opacity=".7"/><rect x="46.6" y="5.2" width=".9" height=".9" fill="#8e8e7a" opacity=".7"/><rect x="29.6" y="5.5" width=".9" height=".9" fill="#8e8e7a" opacity=".7"/><rect x="20.7" y="10.4" width=".9" height=".9" fill="#8e8e7a" opacity=".7"/><rect x="23.8" y="8.1" width=".9" height=".9" fill="#9a9682" opacity=".7"/><rect x="51.6" y="7.4" width=".9" height=".9" fill="#44463c" opacity=".7"/><rect x="50.8" y="8.9" width=".9" height=".9" fill="#7e806a" opacity=".7"/><rect x="49.8" y="11.6" width=".9" height=".9" fill="#8e8e7a" opacity=".7"/><rect x="53.3" y="8.9" width=".9" height=".9" fill="#55574a" opacity=".7"/><rect x="50.5" y="8.4" width=".9" height=".9" fill="#9a9682" opacity=".7"/><rect x="58.0" y="10.5" width=".9" height=".9" fill="#9a9682" opacity=".7"/><rect x="50.3" y="6.8" width=".9" height=".9" fill="#44463c" opacity=".7"/><rect x="64.2" y="5.3" width=".9" height=".9" fill="#55574a" opacity=".7"/><rect x="43.4" y="8.2" width=".9" height=".9" fill="#8e8e7a" opacity=".7"/><rect x="60.9" y="4.7" width=".9" height=".9" fill="#44463c" opacity=".7"/><rect x="76.5" y="6.2" width=".9" height=".9" fill="#9a9682" opacity=".7"/><rect x="56.7" y="11.1" width=".9" height=".9" fill="#8e8e7a" opacity=".7"/><rect x="56.6" y="5.1" width=".9" height=".9" fill="#8e8e7a" opacity=".7"/><rect x="60.9" y="7.6" width=".9" height=".9" fill="#8e8e7a" opacity=".7"/><rect x="14.3" y="4.8" width=".9" height=".9" fill="#44463c" opacity=".7"/><rect x="14.6" y="4.7" width=".9" height=".9" fill="#9a9682" opacity=".7"/><rect x="44.7" y="8.5" width=".9" height=".9" fill="#8e8e7a" opacity=".7"/><rect x="62.9" y="5.1" width=".9" height=".9" fill="#8e8e7a" opacity=".7"/><rect x="69.1" y="4.6" width=".9" height=".9" fill="#55574a" opacity=".7"/><rect x="54.0" y="11.8" width=".9" height=".9" fill="#55574a" opacity=".7"/><rect x="73.0" y="5.3" width=".9" height=".9" fill="#7e806a" opacity=".7"/><rect x="60.4" y="7.9" width=".9" height=".9" fill="#44463c" opacity=".7"/><rect x="23.0" y="6.2" width=".9" height=".9" fill="#8e8e7a" opacity=".7"/><rect x="12.1" y="5.1" width=".9" height=".9" fill="#8e8e7a" opacity=".7"/><rect x="37.0" y="10.1" width=".9" height=".9" fill="#55574a" opacity=".7"/><rect x="56.9" y="6.0" width=".9" height=".9" fill="#8e8e7a" opacity=".7"/><rect x="26.4" y="6.4" width=".9" height=".9" fill="#9a9682" opacity=".7"/><rect x="61.3" y="4.6" width=".9" height=".9" fill="#7e806a" opacity=".7"/><rect x="81.6" y="4.7" width=".9" height=".9" fill="#8e8e7a" opacity=".7"/><rect x="48.5" y="7.6" width=".9" height=".9" fill="#7e806a" opacity=".7"/><rect x="45.1" y="6.9" width=".9" height=".9" fill="#44463c" opacity=".7"/><rect x="57.8" y="9.6" width=".9" height=".9" fill="#44463c" opacity=".7"/><rect x="31.4" y="10.5" width=".9" height=".9" fill="#7e806a" opacity=".7"/><rect x="15.4" y="6.9" width=".9" height=".9" fill="#44463c" opacity=".7"/><rect x="40.5" y="6.9" width=".9" height=".9" fill="#9a9682" opacity=".7"/><rect x="35.1" y="10.8" width=".9" height=".9" fill="#55574a" opacity=".7"/><rect x="41.5" y="5.1" width=".9" height=".9" fill="#7e806a" opacity=".7"/><rect x="44.0" y="9.1" width=".9" height=".9" fill="#9a9682" opacity=".7"/><rect x="43.6" y="7.4" width=".9" height=".9" fill="#7e806a" opacity=".7"/><rect x="39.4" y="6.9" width=".9" height=".9" fill="#44463c" opacity=".7"/><rect x="32.8" y="4.7" width=".9" height=".9" fill="#44463c" opacity=".7"/><rect x="63.5" y="9.4" width=".9" height=".9" fill="#44463c" opacity=".7"/><rect x="81.6" y="5.1" width=".9" height=".9" fill="#55574a" opacity=".7"/><rect x="38.0" y="9.7" width=".9" height=".9" fill="#7e806a" opacity=".7"/><rect x="13.9" y="9.5" width=".9" height=".9" fill="#55574a" opacity=".7"/><rect x="44.7" y="11.0" width=".9" height=".9" fill="#7e806a" opacity=".7"/><rect x="67.6" y="10.5" width=".9" height=".9" fill="#9a9682" opacity=".7"/><rect x="15.7" y="9.9" width=".9" height=".9" fill="#7e806a" opacity=".7"/><rect x="79.6" y="6.0" width=".9" height=".9" fill="#44463c" opacity=".7"/><rect x="8.8" y="11.4" width=".9" height=".9" fill="#8e8e7a" opacity=".7"/><rect x="15.1" y="7.0" width=".9" height=".9" fill="#8e8e7a" opacity=".7"/><rect x="47.7" y="10.4" width=".9" height=".9" fill="#55574a" opacity=".7"/><rect x="58.6" y="7.5" width=".9" height=".9" fill="#9a9682" opacity=".7"/><rect x="47.5" y="5.5" width=".9" height=".9" fill="#7e806a" opacity=".7"/><rect x="36.0" y="6.5" width=".9" height=".9" fill="#7e806a" opacity=".7"/><rect x="79.4" y="8.8" width=".9" height=".9" fill="#9a9682" opacity=".7"/><rect x="68.6" y="5.8" width=".9" height=".9" fill="#44463c" opacity=".7"/><rect x="8.7" y="9.6" width=".9" height=".9" fill="#8e8e7a" opacity=".7"/><rect x="29.7" y="8.4" width=".9" height=".9" fill="#55574a" opacity=".7"/><rect x="29.3" y="5.6" width=".9" height=".9" fill="#55574a" opacity=".7"/><rect x="45.3" y="12.0" width=".9" height=".9" fill="#44463c" opacity=".7"/><rect x="33.8" y="10.1" width=".9" height=".9" fill="#7e806a" opacity=".7"/><rect x="66.0" y="4.9" width=".9" height=".9" fill="#7e806a" opacity=".7"/><rect x="80.5" y="4.7" width=".9" height=".9" fill="#44463c" opacity=".7"/><rect x="49.9" y="11.6" width=".9" height=".9" fill="#8e8e7a" opacity=".7"/><rect x="43.4" y="7.1" width=".9" height=".9" fill="#9a9682" opacity=".7"/><rect x="18.5" y="7.7" width=".9" height=".9" fill="#9a9682" opacity=".7"/><rect x="23.8" y="9.6" width=".9" height=".9" fill="#55574a" opacity=".7"/><rect x="8.8" y="8.7" width=".9" height=".9" fill="#8e8e7a" opacity=".7"/><rect x="46.7" y="5.0" width=".9" height=".9" fill="#55574a" opacity=".7"/><rect x="77.2" y="7.8" width=".9" height=".9" fill="#44463c" opacity=".7"/><rect x="51.4" y="11.4" width=".9" height=".9" fill="#9a9682" opacity=".7"/><rect x="14.6" y="7.2" width=".9" height=".9" fill="#44463c" opacity=".7"/><rect x="22.5" y="8.5" width=".9" height=".9" fill="#9a9682" opacity=".7"/>
<path d="M40,12.6 C60,12 75,10.5 87.5,7.6" stroke="#1c2026" stroke-width="1" fill="none"/>
<rect x=".8" y=".8" width="92.4" height="17.6" fill="none" stroke="#e244ea" stroke-width="1.7"/>
</svg></div>
<div class="lt" style="left:223.2px;top:327px">Warping</div>
<div class="lg" style="left:333.5px;top:304.2px;width:94px;height:19.2px"><svg width="94" height="19.2" viewBox="0 0 94 19.2">
<defs><linearGradient id="r1" x1="0" x2="0" y1="0" y2="1"><stop offset="0" stop-color="#6e7686"/><stop offset=".3" stop-color="#5c6476"/><stop offset=".5" stop-color="#7a8a98"/><stop offset=".7" stop-color="#5c6476"/><stop offset="1" stop-color="#646a7a"/></linearGradient></defs>
<rect x="0" y="0" width="94" height="19.2" fill="#c4b8b8"/>
<rect x="1.6" y="1.8" width="90.6" height="15.8" rx="7" fill="url(#r1)"/>
<ellipse cx="47" cy="9.8" rx="40" ry="3.2" fill="#7a9098" opacity=".55"/>
<rect x="9.0" y="8.3" width="1.2" height="2.0" fill="#e0d898" opacity=".9"/><rect x="10.4" y="7.6" width="1.7" height="2.3" fill="#d8d090" opacity=".9"/><rect x="11.2" y="8.6" width="1.1" height="1.3" fill="#c8d8d8" opacity=".9"/><rect x="11.9" y="9.0" width="2.1" height="2.0" fill="#a8c8d0" opacity=".9"/><rect x="13.5" y="9.0" width="1.5" height="2.4" fill="#e0d898" opacity=".9"/><rect x="14.7" y="7.7" width="1.5" height="1.8" fill="#a8c8d0" opacity=".9"/><rect x="15.7" y="9.7" width="1.2" height="1.9" fill="#e8e0a8" opacity=".9"/><rect x="16.5" y="7.6" width="1.9" height="1.9" fill="#a8c8d0" opacity=".9"/><rect x="17.4" y="9.3" width="1.5" height="1.6" fill="#a8c8d0" opacity=".9"/><rect x="18.9" y="8.4" width="1.3" height="1.4" fill="#d8d090" opacity=".9"/><rect x="19.7" y="8.2" width="1.6" height="1.6" fill="#c8d8d8" opacity=".9"/><rect x="20.7" y="10.2" width="1.1" height="1.7" fill="#f0ecc8" opacity=".9"/><rect x="21.5" y="8.8" width="1.0" height="2.0" fill="#a8c8d0" opacity=".9"/><rect x="22.7" y="9.9" width="1.4" height="2.0" fill="#a8c8d0" opacity=".9"/><rect x="23.9" y="9.7" width="1.1" height="1.3" fill="#f0ecc8" opacity=".9"/><rect x="25.0" y="9.3" width="1.1" height="2.0" fill="#e8e0a8" opacity=".9"/><rect x="26.2" y="9.3" width="1.5" height="2.1" fill="#e8e0a8" opacity=".9"/><rect x="27.2" y="10.1" width="1.4" height="1.9" fill="#c8d8d8" opacity=".9"/><rect x="28.0" y="9.6" width="1.2" height="1.5" fill="#c8d8d8" opacity=".9"/><rect x="29.5" y="8.8" width="1.2" height="1.7" fill="#f0ecc8" opacity=".9"/><rect x="31.0" y="9.8" width="2.0" height="1.5" fill="#c8d8d8" opacity=".9"/><rect x="32.6" y="9.3" width="1.5" height="1.5" fill="#e0d898" opacity=".9"/><rect x="33.5" y="8.0" width="1.3" height="1.8" fill="#a8c8d0" opacity=".9"/><rect x="34.3" y="8.1" width="1.2" height="1.8" fill="#a8c8d0" opacity=".9"/><rect x="35.5" y="10.2" width="1.8" height="1.8" fill="#a8c8d0" opacity=".9"/><rect x="36.8" y="9.5" width="1.5" height="2.2" fill="#e8e0a8" opacity=".9"/><rect x="38.2" y="8.5" width="1.5" height="1.3" fill="#e8e0a8" opacity=".9"/><rect x="39.3" y="7.9" width="2.2" height="1.7" fill="#e0d898" opacity=".9"/><rect x="40.3" y="7.5" width="1.0" height="1.4" fill="#e0d898" opacity=".9"/><rect x="41.9" y="9.1" width="1.1" height="1.4" fill="#c8d8d8" opacity=".9"/><rect x="42.7" y="8.1" width="1.4" height="1.6" fill="#e0d898" opacity=".9"/><rect x="43.5" y="8.8" width="2.2" height="1.8" fill="#f0ecc8" opacity=".9"/><rect x="44.3" y="7.6" width="1.4" height="1.5" fill="#e8e0a8" opacity=".9"/><rect x="45.1" y="7.4" width="2.1" height="1.8" fill="#d8d090" opacity=".9"/><rect x="46.4" y="10.0" width="1.9" height="1.6" fill="#e8e0a8" opacity=".9"/><rect x="47.9" y="9.4" width="1.3" height="1.6" fill="#d8d090" opacity=".9"/><rect x="48.9" y="8.0" width="1.6" height="1.8" fill="#e8e0a8" opacity=".9"/><rect x="49.8" y="9.7" width="2.2" height="2.2" fill="#d8d090" opacity=".9"/><rect x="51.3" y="9.5" width="1.3" height="1.8" fill="#f0ecc8" opacity=".9"/><rect x="52.6" y="10.3" width="1.9" height="1.8" fill="#d8d090" opacity=".9"/><rect x="54.0" y="10.2" width="1.5" height="2.3" fill="#f0ecc8" opacity=".9"/><rect x="55.5" y="8.4" width="1.3" height="1.5" fill="#d8d090" opacity=".9"/><rect x="56.5" y="8.7" width="2.2" height="1.9" fill="#e0d898" opacity=".9"/><rect x="57.6" y="9.3" width="2.0" height="1.3" fill="#e8e0a8" opacity=".9"/><rect x="58.5" y="8.5" width="1.9" height="1.4" fill="#d8d090" opacity=".9"/><rect x="59.5" y="9.2" width="1.1" height="2.3" fill="#e8e0a8" opacity=".9"/><rect x="60.6" y="8.5" width="2.1" height="2.1" fill="#d8d090" opacity=".9"/><rect x="62.2" y="7.4" width="1.7" height="1.8" fill="#e8e0a8" opacity=".9"/><rect x="63.0" y="9.8" width="2.2" height="2.0" fill="#f0ecc8" opacity=".9"/><rect x="63.9" y="8.9" width="1.0" height="2.2" fill="#e8e0a8" opacity=".9"/><rect x="65.2" y="8.9" width="2.1" height="1.7" fill="#d8d090" opacity=".9"/><rect x="66.6" y="7.9" width="1.3" height="1.6" fill="#d8d090" opacity=".9"/><rect x="68.0" y="8.3" width="1.7" height="2.2" fill="#e0d898" opacity=".9"/><rect x="69.5" y="8.4" width="1.5" height="1.9" fill="#a8c8d0" opacity=".9"/><rect x="70.6" y="10.1" width="1.6" height="1.8" fill="#a8c8d0" opacity=".9"/><rect x="71.7" y="9.9" width="1.9" height="1.9" fill="#d8d090" opacity=".9"/><rect x="72.6" y="8.7" width="1.9" height="1.9" fill="#f0ecc8" opacity=".9"/><rect x="73.9" y="8.9" width="1.6" height="2.1" fill="#a8c8d0" opacity=".9"/><rect x="74.7" y="7.9" width="1.1" height="1.3" fill="#c8d8d8" opacity=".9"/><rect x="75.9" y="9.6" width="2.1" height="1.7" fill="#a8c8d0" opacity=".9"/><rect x="77.4" y="9.1" width="1.2" height="1.5" fill="#a8c8d0" opacity=".9"/><rect x="78.6" y="8.7" width="2.1" height="2.0" fill="#f0ecc8" opacity=".9"/><rect x="80.2" y="10.0" width="1.2" height="1.7" fill="#c8d8d8" opacity=".9"/><rect x="81.0" y="8.6" width="1.1" height="1.5" fill="#e0d898" opacity=".9"/><rect x="81.9" y="8.2" width="1.1" height="2.1" fill="#e8e0a8" opacity=".9"/><rect x="83.1" y="8.4" width="1.3" height="1.4" fill="#c8d8d8" opacity=".9"/><rect x="84.0" y="10.2" width="1.5" height="1.8" fill="#e8e0a8" opacity=".9"/><rect x="85.5" y="7.8" width="1.5" height="1.8" fill="#f0ecc8" opacity=".9"/><rect x="34.7" y="4.2" width=".8" height=".8" fill="#3a4050" opacity=".6"/><rect x="5.7" y="10.2" width=".8" height=".8" fill="#3a4050" opacity=".6"/><rect x="64.5" y="8.0" width=".8" height=".8" fill="#8a94a4" opacity=".6"/><rect x="57.7" y="9.7" width=".8" height=".8" fill="#7a8494" opacity=".6"/><rect x="13.7" y="14.9" width=".8" height=".8" fill="#7a8494" opacity=".6"/><rect x="87.6" y="4.4" width=".8" height=".8" fill="#3a4050" opacity=".6"/><rect x="27.4" y="14.8" width=".8" height=".8" fill="#7a8494" opacity=".6"/><rect x="27.3" y="4.7" width=".8" height=".8" fill="#3a4050" opacity=".6"/><rect x="77.1" y="11.8" width=".8" height=".8" fill="#3a4050" opacity=".6"/><rect x="38.9" y="10.0" width=".8" height=".8" fill="#8a94a4" opacity=".6"/><rect x="53.1" y="12.1" width=".8" height=".8" fill="#7a8494" opacity=".6"/><rect x="28.0" y="13.4" width=".8" height=".8" fill="#7a8494" opacity=".6"/><rect x="40.6" y="3.9" width=".8" height=".8" fill="#7a8494" opacity=".6"/><rect x="58.6" y="13.4" width=".8" height=".8" fill="#7a8494" opacity=".6"/><rect x="56.3" y="5.9" width=".8" height=".8" fill="#3a4050" opacity=".6"/><rect x="78.2" y="8.9" width=".8" height=".8" fill="#3a4050" opacity=".6"/><rect x="89.5" y="8.4" width=".8" height=".8" fill="#3a4050" opacity=".6"/><rect x="57.5" y="3.6" width=".8" height=".8" fill="#8a94a4" opacity=".6"/><rect x="24.5" y="4.4" width=".8" height=".8" fill="#7a8494" opacity=".6"/><rect x="26.5" y="5.4" width=".8" height=".8" fill="#3a4050" opacity=".6"/><rect x="58.1" y="9.9" width=".8" height=".8" fill="#7a8494" opacity=".6"/><rect x="28.9" y="9.5" width=".8" height=".8" fill="#7a8494" opacity=".6"/><rect x="27.3" y="13.4" width=".8" height=".8" fill="#3a4050" opacity=".6"/><rect x="7.2" y="3.2" width=".8" height=".8" fill="#8a94a4" opacity=".6"/><rect x="51.4" y="5.5" width=".8" height=".8" fill="#3a4050" opacity=".6"/><rect x="25.1" y="8.8" width=".8" height=".8" fill="#8a94a4" opacity=".6"/><rect x="74.4" y="8.6" width=".8" height=".8" fill="#3a4050" opacity=".6"/><rect x="50.9" y="14.6" width=".8" height=".8" fill="#8a94a4" opacity=".6"/><rect x="30.5" y="5.8" width=".8" height=".8" fill="#7a8494" opacity=".6"/><rect x="33.5" y="13.8" width=".8" height=".8" fill="#8a94a4" opacity=".6"/><rect x="66.7" y="4.8" width=".8" height=".8" fill="#3a4050" opacity=".6"/><rect x="88.4" y="13.9" width=".8" height=".8" fill="#7a8494" opacity=".6"/><rect x="10.1" y="12.6" width=".8" height=".8" fill="#3a4050" opacity=".6"/><rect x="41.0" y="3.7" width=".8" height=".8" fill="#8a94a4" opacity=".6"/><rect x="76.3" y="14.3" width=".8" height=".8" fill="#8a94a4" opacity=".6"/><rect x="87.5" y="10.8" width=".8" height=".8" fill="#8a94a4" opacity=".6"/><rect x="29.2" y="9.0" width=".8" height=".8" fill="#7a8494" opacity=".6"/><rect x="27.1" y="3.0" width=".8" height=".8" fill="#3a4050" opacity=".6"/><rect x="86.7" y="15.6" width=".8" height=".8" fill="#8a94a4" opacity=".6"/><rect x="31.8" y="3.4" width=".8" height=".8" fill="#3a4050" opacity=".6"/><rect x="22.7" y="5.4" width=".8" height=".8" fill="#3a4050" opacity=".6"/><rect x="36.8" y="9.2" width=".8" height=".8" fill="#8a94a4" opacity=".6"/><rect x="60.4" y="6.2" width=".8" height=".8" fill="#7a8494" opacity=".6"/><rect x="11.8" y="13.6" width=".8" height=".8" fill="#7a8494" opacity=".6"/><rect x="38.4" y="3.5" width=".8" height=".8" fill="#7a8494" opacity=".6"/><rect x="29.8" y="11.2" width=".8" height=".8" fill="#7a8494" opacity=".6"/><rect x="54.4" y="9.9" width=".8" height=".8" fill="#7a8494" opacity=".6"/><rect x="60.5" y="12.3" width=".8" height=".8" fill="#8a94a4" opacity=".6"/><rect x="37.5" y="7.2" width=".8" height=".8" fill="#3a4050" opacity=".6"/><rect x="16.9" y="12.4" width=".8" height=".8" fill="#8a94a4" opacity=".6"/><rect x="16.4" y="13.7" width=".8" height=".8" fill="#8a94a4" opacity=".6"/><rect x="80.7" y="11.2" width=".8" height=".8" fill="#8a94a4" opacity=".6"/><rect x="64.3" y="9.6" width=".8" height=".8" fill="#8a94a4" opacity=".6"/><rect x="68.7" y="10.4" width=".8" height=".8" fill="#7a8494" opacity=".6"/><rect x="75.1" y="10.6" width=".8" height=".8" fill="#8a94a4" opacity=".6"/><rect x="62.7" y="12.0" width=".8" height=".8" fill="#7a8494" opacity=".6"/><rect x="11.3" y="3.5" width=".8" height=".8" fill="#8a94a4" opacity=".6"/><rect x="35.0" y="4.4" width=".8" height=".8" fill="#3a4050" opacity=".6"/><rect x="52.0" y="11.2" width=".8" height=".8" fill="#8a94a4" opacity=".6"/><rect x="49.7" y="6.2" width=".8" height=".8" fill="#3a4050" opacity=".6"/>
<path d="M8,6.5 L11.5,9.8 L8,13 Z" fill="#3a3e4c" opacity=".8"/>
<rect x=".8" y=".8" width="92.4" height="17.6" fill="none" stroke="#1c1ce0" stroke-width="1.8"/>
</svg></div>
<div class="lt" style="left:329.5px;top:327px">Rough and irregular</div>
<div class="lg" style="left:440.3px;top:304.2px;width:94px;height:19.2px"><svg width="94" height="19.2" viewBox="0 0 94 19.2">
<defs><linearGradient id="s1" x1="0" x2="0" y1="0" y2="1"><stop offset="0" stop-color="#8a8a7a"/><stop offset=".2" stop-color="#6a6a5a"/><stop offset=".4" stop-color="#9a9a88"/><stop offset=".5" stop-color="#b0b0a0"/><stop offset=".62" stop-color="#7a7a6a"/><stop offset=".8" stop-color="#3e3e36"/><stop offset="1" stop-color="#6a6a70"/></linearGradient></defs>
<rect x="0" y="0" width="94" height="19.2" fill="#c8c4cc"/>
<rect x="1.8" y="1.8" width="90" height="15.8" rx="7.5" fill="url(#s1)"/>
<ellipse cx="7.2" cy="10" rx="3.4" ry="5.4" fill="#3c4654" stroke="#8a94a0" stroke-width=".7"/>
<rect x="11.0" y="8.6" width="2.0" height="1.7" fill="#d8d8cc" opacity=".9"/><rect x="12.1" y="9.1" width="2.3" height="1.7" fill="#d8d8cc" opacity=".9"/><rect x="12.8" y="8.9" width="1.3" height="1.4" fill="#c8c8b8" opacity=".9"/><rect x="13.5" y="9.1" width="2.5" height="2.0" fill="#d8d8cc" opacity=".9"/><rect x="14.2" y="9.3" width="2.3" height="1.4" fill="#c8c8b8" opacity=".9"/><rect x="15.4" y="9.4" width="2.2" height="1.4" fill="#d8d8cc" opacity=".9"/><rect x="16.4" y="9.2" width="1.8" height="1.5" fill="#f4f4ee" opacity=".9"/><rect x="17.7" y="9.1" width="2.0" height="1.5" fill="#f4f4ee" opacity=".9"/><rect x="18.8" y="9.0" width="2.1" height="1.3" fill="#c8c8b8" opacity=".9"/><rect x="19.9" y="8.7" width="1.3" height="1.5" fill="#f4f4ee" opacity=".9"/><rect x="20.8" y="9.0" width="1.6" height="1.3" fill="#c8c8b8" opacity=".9"/><rect x="21.9" y="9.0" width="2.3" height="1.8" fill="#d8d8cc" opacity=".9"/><rect x="22.5" y="9.1" width="2.4" height="1.5" fill="#c8c8b8" opacity=".9"/><rect x="23.9" y="8.4" width="1.2" height="1.8" fill="#c8c8b8" opacity=".9"/><rect x="25.0" y="8.5" width="1.6" height="1.9" fill="#f4f4ee" opacity=".9"/><rect x="25.8" y="9.3" width="1.6" height="1.8" fill="#d8d8cc" opacity=".9"/><rect x="27.1" y="9.1" width="1.4" height="1.6" fill="#e8e8e0" opacity=".9"/><rect x="28.1" y="9.0" width="1.5" height="1.8" fill="#f4f4ee" opacity=".9"/><rect x="28.9" y="8.5" width="2.2" height="1.6" fill="#d8d8cc" opacity=".9"/><rect x="29.6" y="8.8" width="1.9" height="1.8" fill="#e8e8e0" opacity=".9"/><rect x="31.0" y="9.3" width="2.0" height="1.6" fill="#d8d8cc" opacity=".9"/><rect x="32.4" y="8.4" width="1.5" height="1.4" fill="#e8e8e0" opacity=".9"/><rect x="33.8" y="8.9" width="2.3" height="1.2" fill="#f4f4ee" opacity=".9"/><rect x="34.6" y="8.9" width="2.5" height="1.6" fill="#c8c8b8" opacity=".9"/><rect x="35.4" y="8.5" width="2.2" height="1.5" fill="#d8d8cc" opacity=".9"/><rect x="36.6" y="8.6" width="2.0" height="1.9" fill="#f4f4ee" opacity=".9"/><rect x="37.5" y="8.6" width="2.2" height="1.7" fill="#c8c8b8" opacity=".9"/><rect x="38.3" y="8.7" width="1.1" height="1.5" fill="#e8e8e0" opacity=".9"/><rect x="38.9" y="8.4" width="2.4" height="1.7" fill="#f4f4ee" opacity=".9"/><rect x="39.7" y="8.9" width="1.8" height="1.5" fill="#f4f4ee" opacity=".9"/><rect x="40.7" y="9.4" width="1.2" height="1.2" fill="#f4f4ee" opacity=".9"/><rect x="42.0" y="8.6" width="1.5" height="1.5" fill="#e8e8e0" opacity=".9"/><rect x="42.9" y="8.4" width="1.7" height="1.7" fill="#c8c8b8" opacity=".9"/><rect x="43.5" y="8.9" width="1.2" height="1.8" fill="#f4f4ee" opacity=".9"/><rect x="44.2" y="9.4" width="2.1" height="1.9" fill="#d8d8cc" opacity=".9"/><rect x="45.6" y="9.1" width="1.1" height="1.9" fill="#e8e8e0" opacity=".9"/><rect x="46.4" y="9.3" width="1.3" height="1.8" fill="#d8d8cc" opacity=".9"/><rect x="47.4" y="9.4" width="1.7" height="1.7" fill="#e8e8e0" opacity=".9"/><rect x="48.7" y="9.4" width="1.2" height="1.3" fill="#f4f4ee" opacity=".9"/><rect x="49.7" y="8.7" width="2.4" height="1.4" fill="#e8e8e0" opacity=".9"/><rect x="50.6" y="9.4" width="1.3" height="1.2" fill="#f4f4ee" opacity=".9"/><rect x="51.9" y="9.5" width="2.2" height="1.5" fill="#f4f4ee" opacity=".9"/><rect x="53.3" y="8.3" width="1.1" height="1.5" fill="#c8c8b8" opacity=".9"/><rect x="54.2" y="8.6" width="2.2" height="1.6" fill="#e8e8e0" opacity=".9"/><rect x="55.3" y="8.9" width="1.4" height="1.4" fill="#d8d8cc" opacity=".9"/><rect x="56.6" y="9.4" width="1.6" height="1.3" fill="#c8c8b8" opacity=".9"/><rect x="57.6" y="8.5" width="1.9" height="2.0" fill="#c8c8b8" opacity=".9"/><rect x="58.3" y="8.8" width="1.7" height="1.4" fill="#e8e8e0" opacity=".9"/><rect x="59.3" y="8.9" width="1.2" height="1.2" fill="#d8d8cc" opacity=".9"/><rect x="60.1" y="9.4" width="1.7" height="1.6" fill="#e8e8e0" opacity=".9"/><rect x="60.9" y="9.2" width="2.0" height="1.5" fill="#e8e8e0" opacity=".9"/><rect x="62.1" y="9.1" width="1.4" height="1.7" fill="#e8e8e0" opacity=".9"/><rect x="63.3" y="8.8" width="2.1" height="1.4" fill="#e8e8e0" opacity=".9"/><rect x="64.4" y="8.6" width="1.8" height="1.2" fill="#c8c8b8" opacity=".9"/><rect x="65.7" y="9.4" width="2.0" height="1.7" fill="#c8c8b8" opacity=".9"/><rect x="66.5" y="8.9" width="1.0" height="1.5" fill="#d8d8cc" opacity=".9"/><rect x="67.9" y="9.3" width="2.2" height="1.7" fill="#d8d8cc" opacity=".9"/><rect x="69.0" y="9.0" width="1.4" height="1.3" fill="#d8d8cc" opacity=".9"/><rect x="70.1" y="8.4" width="2.0" height="1.7" fill="#e8e8e0" opacity=".9"/><rect x="71.3" y="9.4" width="1.6" height="1.9" fill="#c8c8b8" opacity=".9"/><rect x="72.5" y="8.9" width="1.1" height="1.9" fill="#f4f4ee" opacity=".9"/><rect x="73.4" y="9.1" width="2.4" height="1.7" fill="#c8c8b8" opacity=".9"/><rect x="74.5" y="9.2" width="2.4" height="1.4" fill="#e8e8e0" opacity=".9"/><rect x="75.9" y="8.8" width="1.6" height="1.7" fill="#e8e8e0" opacity=".9"/><rect x="76.5" y="8.6" width="1.2" height="1.5" fill="#f4f4ee" opacity=".9"/><rect x="77.8" y="8.9" width="1.6" height="1.6" fill="#e8e8e0" opacity=".9"/><rect x="78.6" y="9.5" width="1.1" height="1.3" fill="#d8d8cc" opacity=".9"/><rect x="79.9" y="9.0" width="1.9" height="1.5" fill="#e8e8e0" opacity=".9"/><rect x="80.6" y="8.5" width="1.1" height="1.5" fill="#d8d8cc" opacity=".9"/><rect x="81.8" y="9.2" width="2.1" height="1.8" fill="#d8d8cc" opacity=".9"/><rect x="82.5" y="8.7" width="1.1" height="1.9" fill="#d8d8cc" opacity=".9"/><rect x="83.1" y="9.2" width="1.5" height="1.4" fill="#f4f4ee" opacity=".9"/><rect x="84.0" y="9.0" width="1.8" height="1.9" fill="#f4f4ee" opacity=".9"/><rect x="85.2" y="8.6" width="2.3" height="1.3" fill="#e8e8e0" opacity=".9"/><rect x="87.0" y="6.3" width=".8" height=".8" fill="#8a8a78" opacity=".5"/><rect x="57.7" y="4.3" width=".8" height=".8" fill="#3a3a30" opacity=".5"/><rect x="42.0" y="4.4" width=".8" height=".8" fill="#a0a090" opacity=".5"/><rect x="81.0" y="10.1" width=".8" height=".8" fill="#8a8a78" opacity=".5"/><rect x="65.1" y="6.0" width=".8" height=".8" fill="#3a3a30" opacity=".5"/><rect x="76.3" y="4.6" width=".8" height=".8" fill="#a0a090" opacity=".5"/><rect x="80.3" y="4.1" width=".8" height=".8" fill="#8a8a78" opacity=".5"/><rect x="70.2" y="14.1" width=".8" height=".8" fill="#3a3a30" opacity=".5"/><rect x="42.5" y="8.5" width=".8" height=".8" fill="#8a8a78" opacity=".5"/><rect x="64.7" y="11.2" width=".8" height=".8" fill="#8a8a78" opacity=".5"/><rect x="25.0" y="5.0" width=".8" height=".8" fill="#3a3a30" opacity=".5"/><rect x="5.7" y="7.7" width=".8" height=".8" fill="#3a3a30" opacity=".5"/><rect x="68.2" y="4.4" width=".8" height=".8" fill="#a0a090" opacity=".5"/><rect x="17.8" y="5.2" width=".8" height=".8" fill="#3a3a30" opacity=".5"/><rect x="85.1" y="13.4" width=".8" height=".8" fill="#a0a090" opacity=".5"/><rect x="41.2" y="4.6" width=".8" height=".8" fill="#3a3a30" opacity=".5"/><rect x="51.4" y="13.6" width=".8" height=".8" fill="#a0a090" opacity=".5"/><rect x="85.7" y="13.4" width=".8" height=".8" fill="#3a3a30" opacity=".5"/><rect x="71.9" y="7.4" width=".8" height=".8" fill="#3a3a30" opacity=".5"/><rect x="38.4" y="4.0" width=".8" height=".8" fill="#8a8a78" opacity=".5"/><rect x="38.5" y="13.8" width=".8" height=".8" fill="#a0a090" opacity=".5"/><rect x="68.6" y="3.6" width=".8" height=".8" fill="#3a3a30" opacity=".5"/><rect x="41.9" y="10.0" width=".8" height=".8" fill="#a0a090" opacity=".5"/><rect x="66.1" y="12.7" width=".8" height=".8" fill="#a0a090" opacity=".5"/><rect x="7.7" y="12.4" width=".8" height=".8" fill="#8a8a78" opacity=".5"/><rect x="24.7" y="8.6" width=".8" height=".8" fill="#3a3a30" opacity=".5"/><rect x="27.5" y="8.5" width=".8" height=".8" fill="#3a3a30" opacity=".5"/><rect x="20.4" y="14.8" width=".8" height=".8" fill="#3a3a30" opacity=".5"/><rect x="77.0" y="5.1" width=".8" height=".8" fill="#8a8a78" opacity=".5"/><rect x="41.1" y="10.4" width=".8" height=".8" fill="#8a8a78" opacity=".5"/><rect x="37.6" y="5.9" width=".8" height=".8" fill="#a0a090" opacity=".5"/><rect x="67.2" y="10.3" width=".8" height=".8" fill="#3a3a30" opacity=".5"/><rect x="21.6" y="3.5" width=".8" height=".8" fill="#8a8a78" opacity=".5"/><rect x="42.4" y="12.4" width=".8" height=".8" fill="#a0a090" opacity=".5"/><rect x="37.8" y="14.9" width=".8" height=".8" fill="#a0a090" opacity=".5"/><rect x="15.4" y="15.5" width=".8" height=".8" fill="#8a8a78" opacity=".5"/><rect x="46.3" y="9.4" width=".8" height=".8" fill="#a0a090" opacity=".5"/><rect x="42.5" y="15.2" width=".8" height=".8" fill="#a0a090" opacity=".5"/><rect x="63.3" y="3.2" width=".8" height=".8" fill="#a0a090" opacity=".5"/><rect x="72.6" y="11.3" width=".8" height=".8" fill="#8a8a78" opacity=".5"/><rect x="66.2" y="3.4" width=".8" height=".8" fill="#a0a090" opacity=".5"/><rect x="84.4" y="14.3" width=".8" height=".8" fill="#3a3a30" opacity=".5"/><rect x="45.3" y="8.4" width=".8" height=".8" fill="#8a8a78" opacity=".5"/><rect x="21.4" y="12.5" width=".8" height=".8" fill="#3a3a30" opacity=".5"/><rect x="49.2" y="4.9" width=".8" height=".8" fill="#8a8a78" opacity=".5"/><rect x="72.3" y="12.4" width=".8" height=".8" fill="#8a8a78" opacity=".5"/><rect x="19.3" y="3.9" width=".8" height=".8" fill="#8a8a78" opacity=".5"/><rect x="63.8" y="15.5" width=".8" height=".8" fill="#a0a090" opacity=".5"/><rect x="89.4" y="3.0" width=".8" height=".8" fill="#a0a090" opacity=".5"/><rect x="25.4" y="9.1" width=".8" height=".8" fill="#8a8a78" opacity=".5"/><rect x="9.6" y="10.7" width=".8" height=".8" fill="#3a3a30" opacity=".5"/><rect x="49.3" y="5.3" width=".8" height=".8" fill="#a0a090" opacity=".5"/><rect x="82.7" y="12.5" width=".8" height=".8" fill="#3a3a30" opacity=".5"/><rect x="57.7" y="12.4" width=".8" height=".8" fill="#3a3a30" opacity=".5"/><rect x="62.2" y="15.9" width=".8" height=".8" fill="#8a8a78" opacity=".5"/><rect x="42.5" y="10.8" width=".8" height=".8" fill="#8a8a78" opacity=".5"/><rect x="79.9" y="13.9" width=".8" height=".8" fill="#a0a090" opacity=".5"/><rect x="49.0" y="13.2" width=".8" height=".8" fill="#a0a090" opacity=".5"/><rect x="72.1" y="12.1" width=".8" height=".8" fill="#a0a090" opacity=".5"/><rect x="66.1" y="9.7" width=".8" height=".8" fill="#8a8a78" opacity=".5"/><rect x="38.4" y="8.4" width=".8" height=".8" fill="#3a3a30" opacity=".5"/><rect x="28.7" y="13.0" width=".8" height=".8" fill="#8a8a78" opacity=".5"/><rect x="13.2" y="8.8" width=".8" height=".8" fill="#8a8a78" opacity=".5"/><rect x="65.3" y="13.5" width=".8" height=".8" fill="#8a8a78" opacity=".5"/><rect x="26.7" y="12.4" width=".8" height=".8" fill="#3a3a30" opacity=".5"/><rect x="86.5" y="10.3" width=".8" height=".8" fill="#a0a090" opacity=".5"/><rect x="50.3" y="13.5" width=".8" height=".8" fill="#a0a090" opacity=".5"/><rect x="81.2" y="11.6" width=".8" height=".8" fill="#a0a090" opacity=".5"/><rect x="15.0" y="7.3" width=".8" height=".8" fill="#3a3a30" opacity=".5"/><rect x="5.5" y="8.2" width=".8" height=".8" fill="#8a8a78" opacity=".5"/>
<rect x=".8" y=".8" width="92.4" height="17.6" fill="none" stroke="#26e026" stroke-width="1.8"/>
</svg></div>
<div class="lt" style="left:436.6px;top:327px">Regular and smooth</div>
</body></html>
